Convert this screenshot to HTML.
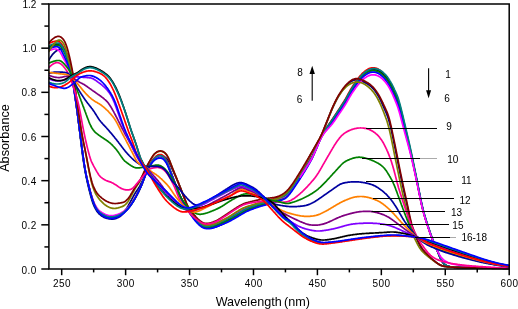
<!DOCTYPE html>
<html><head><meta charset="utf-8"><title>Absorbance spectra</title>
<style>html,body{margin:0;padding:0;background:#fff}svg{display:block}</style></head>
<body><svg width="518" height="309" viewBox="0 0 518 309">
<rect x="0" y="0" width="518" height="309" fill="#fff"/>
<clipPath id="c"><rect x="48.9" y="4.0" width="460.3" height="265.5"/></clipPath>
<g clip-path="url(#c)" fill="none" stroke-width="1.7" stroke-linejoin="round" stroke-linecap="round">
<path d="M48.6,60.5 L49.1,59.6 L49.6,58.8 L50.1,57.9 L50.6,57.1 L51.1,56.4 L51.6,55.7 L52.1,55.0 L52.6,54.4 L53.1,53.8 L53.6,53.3 L54.1,52.8 L54.6,52.3 L55.1,51.9 L55.6,51.5 L56.1,51.1 L56.6,50.8 L57.1,50.4 L57.6,50.1 L58.1,49.9 L58.6,49.6 L59.1,49.4 L59.6,49.3 L60.1,49.1 L60.6,49.1 L61.1,49.0 L61.6,49.1 L62.1,49.1 L62.6,49.2 L63.1,49.4 L63.6,49.7 L64.1,50.1 L64.6,50.5 L65.1,51.1 L65.6,51.9 L66.1,52.7 L66.6,53.6 L67.1,54.7 L67.6,55.9 L68.1,57.1 L68.6,58.5 L69.1,60.0 L69.6,61.6 L70.1,63.4 L70.6,65.2 L71.1,67.2 L71.6,69.4 L72.1,71.7 L72.6,74.2 L73.1,76.9 L73.6,80.0 L74.1,83.3 L74.6,86.9 L75.1,90.8 L75.6,94.8 L76.1,98.9 L76.6,103.2 L77.1,107.5 L77.6,112.0 L78.1,116.5 L78.6,121.1 L79.1,125.7 L79.6,130.3 L80.1,134.8 L80.6,139.1 L81.1,143.4 L81.6,147.6 L82.1,151.5 L82.6,155.3 L83.1,158.8 L83.6,162.1 L84.1,165.2 L84.6,168.2 L85.1,171.0 L85.6,173.7 L86.1,176.3 L86.6,178.7 L87.1,181.1 L87.6,183.4 L88.1,185.5 L88.6,187.6 L89.1,189.7 L89.6,191.6 L90.1,193.6 L90.6,195.5 L91.1,197.3 L91.6,199.1 L92.1,200.7 L92.6,202.3 L93.1,203.7 L93.6,204.9 L94.1,206.1 L94.6,207.2 L95.1,208.2 L95.6,209.1 L96.1,209.9 L96.6,210.7 L97.1,211.5 L97.6,212.1 L98.1,212.7 L98.6,213.3 L99.1,213.8 L99.6,214.3 L100.1,214.7 L100.6,215.1 L101.1,215.5 L101.6,215.9 L102.1,216.2 L102.6,216.5 L103.1,216.8 L103.6,217.1 L104.1,217.4 L104.6,217.6 L105.1,217.8 L105.6,218.0 L106.1,218.1 L106.6,218.3 L107.1,218.4 L107.6,218.5 L108.1,218.6 L108.6,218.7 L109.1,218.8 L109.6,218.9 L110.1,219.0 L110.6,219.0 L111.1,219.1 L111.6,219.1 L112.1,219.1 L112.6,219.1 L113.1,219.1 L113.6,219.0 L114.1,218.9 L114.6,218.8 L115.1,218.7 L115.6,218.6 L116.1,218.4 L116.6,218.2 L117.1,218.0 L117.6,217.8 L118.1,217.6 L118.6,217.3 L119.1,217.0 L119.6,216.7 L120.1,216.4 L120.6,216.0 L121.1,215.6 L121.6,215.1 L122.1,214.6 L122.6,214.1 L123.1,213.5 L123.6,212.9 L124.1,212.2 L124.6,211.5 L125.1,210.8 L125.6,210.0 L126.1,209.2 L126.6,208.4 L127.1,207.6 L127.6,206.7 L128.1,205.9 L128.6,205.0 L129.1,204.1 L129.6,203.2 L130.1,202.3 L130.6,201.4 L131.1,200.5 L131.6,199.6 L132.1,198.6 L132.6,197.7 L133.1,196.8 L133.6,195.9 L134.1,195.0 L134.6,194.1 L135.1,193.3 L135.6,192.5 L136.1,191.7 L136.6,191.0 L137.1,190.3 L137.6,189.5 L138.1,188.8 L138.6,188.0 L139.1,187.2 L139.6,186.4 L140.1,185.5 L140.6,184.5 L141.1,183.5 L141.6,182.5 L142.1,181.4 L142.6,180.3 L143.1,179.2 L143.6,178.1 L144.1,177.0 L144.6,175.8 L145.1,174.7 L145.6,173.6 L146.1,172.4 L146.6,171.3 L147.1,170.2 L147.6,169.1 L148.1,168.0 L148.6,166.9 L149.1,165.9 L149.6,164.9 L150.1,164.0 L150.6,163.2 L151.1,162.3 L151.6,161.5 L152.1,160.8 L152.6,160.1 L153.1,159.5 L153.6,158.9 L154.1,158.4 L154.6,157.9 L155.1,157.5 L155.6,157.2 L156.1,156.9 L156.6,156.7 L157.1,156.5 L157.6,156.4 L158.1,156.2 L158.6,156.1 L159.1,156.0 L159.6,155.9 L160.1,155.9 L160.6,155.9 L161.1,155.9 L161.6,155.9 L162.1,156.0 L162.6,156.1 L163.1,156.2 L163.6,156.4 L164.1,156.6 L164.6,156.9 L165.1,157.2 L165.6,157.6 L166.1,158.0 L166.6,158.5 L167.1,159.1 L167.6,159.8 L168.1,160.5 L168.6,161.4 L169.1,162.3 L169.6,163.3 L170.1,164.4 L170.6,165.5 L171.1,166.6 L171.6,167.7 L172.1,168.9 L172.6,170.0 L173.1,171.1 L173.6,172.2 L174.1,173.3 L174.6,174.3 L175.1,175.4 L175.6,176.5 L176.1,177.6 L176.6,178.7 L177.1,179.9 L177.6,181.0 L178.1,182.2 L178.6,183.4 L179.1,184.6 L179.6,185.8 L180.1,187.1 L180.6,188.4 L181.1,189.7 L181.6,191.0 L182.1,192.3 L182.6,193.6 L183.1,194.9 L183.6,196.2 L184.1,197.6 L184.6,198.9 L185.1,200.2 L185.6,201.5 L186.1,202.7 L186.6,204.0 L187.1,205.2 L187.6,206.3 L188.1,207.4 L188.6,208.4 L189.1,209.3 L189.6,210.2 L190.1,211.0 L190.6,211.8 L191.1,212.5 L191.6,213.2 L192.1,213.9 L192.6,214.6 L193.1,215.3 L193.6,215.9 L194.1,216.6 L194.6,217.3 L195.1,218.0 L195.6,218.6 L196.1,219.3 L196.6,219.9 L197.1,220.5 L197.6,221.1 L198.1,221.7 L198.6,222.3 L199.1,222.9 L199.6,223.4 L200.1,223.9 L200.6,224.4 L201.1,224.9 L201.6,225.3 L202.1,225.8 L202.6,226.1 L203.1,226.4 L203.6,226.7 L204.1,227.0 L204.6,227.2 L205.1,227.4 L205.6,227.5 L206.1,227.6 L206.6,227.7 L207.1,227.8 L207.6,227.8 L208.1,227.9 L208.6,227.9 L209.1,227.9 L209.6,227.9 L210.1,227.9 L210.6,227.9 L211.1,227.9 L211.6,227.8 L212.1,227.7 L212.6,227.6 L213.1,227.5 L213.6,227.4 L214.1,227.3 L214.6,227.2 L215.1,227.1 L215.6,226.9 L216.1,226.8 L216.6,226.7 L217.1,226.5 L217.6,226.3 L218.1,226.2 L218.6,226.0 L219.1,225.8 L219.6,225.5 L220.1,225.3 L220.6,225.1 L221.1,224.9 L221.6,224.6 L222.1,224.4 L222.6,224.2 L223.1,223.9 L223.6,223.7 L224.1,223.4 L224.6,223.2 L225.1,222.9 L225.6,222.7 L226.1,222.4 L226.6,222.2 L227.1,221.9 L227.6,221.6 L228.1,221.3 L228.6,221.1 L229.1,220.8 L229.6,220.5 L230.1,220.2 L230.6,219.9 L231.1,219.6 L231.6,219.3 L232.1,219.0 L232.6,218.7 L233.1,218.4 L233.6,218.1 L234.1,217.7 L234.6,217.4 L235.1,217.1 L235.6,216.8 L236.1,216.4 L236.6,216.1 L237.1,215.8 L237.6,215.4 L238.1,215.1 L238.6,214.8 L239.1,214.5 L239.6,214.2 L240.1,213.8 L240.6,213.5 L241.1,213.3 L241.6,213.0 L242.1,212.7 L242.6,212.4 L243.1,212.2 L243.6,211.9 L244.1,211.7 L244.6,211.4 L245.1,211.2 L245.6,211.0 L246.1,210.8 L246.6,210.6 L247.1,210.4 L247.6,210.2 L248.1,210.0 L248.6,209.9 L249.1,209.7 L249.6,209.5 L250.1,209.3 L250.6,209.2 L251.1,209.0 L251.6,208.8 L252.1,208.6 L252.6,208.4 L253.1,208.2 L253.6,208.0 L254.1,207.8 L254.6,207.6 L255.1,207.4 L255.6,207.2 L256.1,207.0 L256.6,206.9 L257.1,206.7 L257.6,206.5 L258.1,206.3 L258.6,206.1 L259.1,205.9 L259.6,205.7 L260.1,205.5 L260.6,205.3 L261.1,205.1 L261.6,205.0 L262.1,204.8 L262.6,204.6 L263.1,204.4 L263.6,204.3 L264.1,204.1 L264.6,203.9 L265.1,203.8 L265.6,203.6 L266.1,203.5 L266.6,203.4 L267.1,203.2 L267.6,203.1 L268.1,203.0 L268.6,202.9 L269.1,202.8 L269.6,202.6 L270.1,202.5 L270.6,202.4 L271.1,202.3 L271.6,202.2 L272.1,202.1 L272.6,202.0 L273.1,201.9 L273.6,201.8 L274.1,201.6 L274.6,201.5 L275.1,201.4 L275.6,201.2 L276.1,201.0 L276.6,200.8 L277.1,200.6 L277.6,200.4 L278.1,200.2 L278.6,199.9 L279.1,199.7 L279.6,199.4 L280.1,199.1 L280.6,198.8 L281.1,198.5 L281.6,198.2 L282.1,197.9 L282.6,197.5 L283.1,197.2 L283.6,196.8 L284.1,196.4 L284.6,196.0 L285.1,195.6 L285.6,195.1 L286.1,194.6 L286.6,194.1 L287.1,193.6 L287.6,193.0 L288.1,192.4 L288.6,191.8 L289.1,191.2 L289.6,190.6 L290.1,189.9 L290.6,189.2 L291.1,188.5 L291.6,187.8 L292.1,187.1 L292.6,186.3 L293.1,185.5 L293.6,184.7 L294.1,183.9 L294.6,183.1 L295.1,182.3 L295.6,181.5 L296.1,180.7 L296.6,179.8 L297.1,179.0 L297.6,178.2 L298.1,177.4 L298.6,176.5 L299.1,175.7 L299.6,174.8 L300.1,174.0 L300.6,173.1 L301.1,172.2 L301.6,171.4 L302.1,170.5 L302.6,169.6 L303.1,168.7 L303.6,167.8 L304.1,166.9 L304.6,166.0 L305.1,165.1 L305.6,164.2 L306.1,163.3 L306.6,162.4 L307.1,161.5 L307.6,160.6 L308.1,159.7 L308.6,158.8 L309.1,157.9 L309.6,157.0 L310.1,156.0 L310.6,155.1 L311.1,154.2 L311.6,153.3 L312.1,152.4 L312.6,151.5 L313.1,150.6 L313.6,149.7 L314.1,148.8 L314.6,147.9 L315.1,147.0 L315.6,146.1 L316.1,145.2 L316.6,144.3 L317.1,143.4 L317.6,142.5 L318.1,141.6 L318.6,140.7 L319.1,139.8 L319.6,138.9 L320.1,137.9 L320.6,136.9 L321.1,135.9 L321.6,134.8 L322.1,133.7 L322.6,132.5 L323.1,131.4 L323.6,130.2 L324.1,128.9 L324.6,127.7 L325.1,126.5 L325.6,125.2 L326.1,124.0 L326.6,122.7 L327.1,121.5 L327.6,120.2 L328.1,118.9 L328.6,117.6 L329.1,116.4 L329.6,115.1 L330.1,113.9 L330.6,112.6 L331.1,111.4 L331.6,110.2 L332.1,109.1 L332.6,107.9 L333.1,106.8 L333.6,105.7 L334.1,104.6 L334.6,103.6 L335.1,102.5 L335.6,101.5 L336.1,100.6 L336.6,99.6 L337.1,98.7 L337.6,97.8 L338.1,96.9 L338.6,96.0 L339.1,95.2 L339.6,94.4 L340.1,93.6 L340.6,92.9 L341.1,92.1 L341.6,91.4 L342.1,90.7 L342.6,90.0 L343.1,89.4 L343.6,88.7 L344.1,88.1 L344.6,87.5 L345.1,86.9 L345.6,86.3 L346.1,85.8 L346.6,85.3 L347.1,84.8 L347.6,84.3 L348.1,83.8 L348.6,83.4 L349.1,82.9 L349.6,82.5 L350.1,82.1 L350.6,81.8 L351.1,81.5 L351.6,81.2 L352.1,80.9 L352.6,80.6 L353.1,80.4 L353.6,80.2 L354.1,80.1 L354.6,79.9 L355.1,79.9 L355.6,79.8 L356.1,79.8 L356.6,79.8 L357.1,79.8 L357.6,79.9 L358.1,80.0 L358.6,80.1 L359.1,80.2 L359.6,80.3 L360.1,80.5 L360.6,80.6 L361.1,80.8 L361.6,81.0 L362.1,81.2 L362.6,81.4 L363.1,81.6 L363.6,81.9 L364.1,82.1 L364.6,82.4 L365.1,82.6 L365.6,82.9 L366.1,83.2 L366.6,83.5 L367.1,83.8 L367.6,84.1 L368.1,84.4 L368.6,84.8 L369.1,85.1 L369.6,85.5 L370.1,85.9 L370.6,86.3 L371.1,86.7 L371.6,87.1 L372.1,87.6 L372.6,88.1 L373.1,88.7 L373.6,89.2 L374.1,89.8 L374.6,90.4 L375.1,91.1 L375.6,91.8 L376.1,92.5 L376.6,93.2 L377.1,94.0 L377.6,94.8 L378.1,95.7 L378.6,96.5 L379.1,97.4 L379.6,98.4 L380.1,99.4 L380.6,100.4 L381.1,101.5 L381.6,102.6 L382.1,103.7 L382.6,104.8 L383.1,105.9 L383.6,107.1 L384.1,108.2 L384.6,109.3 L385.1,110.5 L385.6,111.6 L386.1,112.7 L386.6,113.9 L387.1,115.1 L387.6,116.4 L388.1,117.9 L388.6,119.4 L389.1,121.2 L389.6,123.0 L390.1,125.0 L390.6,127.1 L391.1,129.3 L391.6,131.6 L392.1,133.9 L392.6,136.3 L393.1,138.7 L393.6,141.1 L394.1,143.5 L394.6,146.0 L395.1,148.4 L395.6,150.9 L396.1,153.4 L396.6,155.9 L397.1,158.3 L397.6,160.8 L398.1,163.3 L398.6,165.8 L399.1,168.3 L399.6,170.8 L400.1,173.3 L400.6,175.7 L401.1,178.1 L401.6,180.5 L402.1,182.9 L402.6,185.3 L403.1,187.6 L403.6,189.8 L404.1,192.1 L404.6,194.3 L405.1,196.5 L405.6,198.7 L406.1,200.9 L406.6,203.2 L407.1,205.4 L407.6,207.8 L408.1,210.2 L408.6,212.5 L409.1,214.9 L409.6,217.3 L410.1,219.6 L410.6,221.7 L411.1,223.7 L411.6,225.5 L412.1,227.1 L412.6,228.6 L413.1,230.0 L413.6,231.3 L414.1,232.6 L414.6,233.8 L415.1,235.0 L415.6,236.2 L416.1,237.4 L416.6,238.6 L417.1,239.7 L417.6,240.9 L418.1,242.0 L418.6,243.1 L419.1,244.2 L419.6,245.1 L420.1,246.1 L420.6,246.9 L421.1,247.7 L421.6,248.5 L422.1,249.2 L422.6,249.9 L423.1,250.5 L423.6,251.1 L424.1,251.6 L424.6,252.2 L425.1,252.7 L425.6,253.2 L426.1,253.7 L426.6,254.2 L427.1,254.7 L427.6,255.2 L428.1,255.6 L428.6,256.1 L429.1,256.6 L429.6,257.0 L430.1,257.5 L430.6,257.9 L431.1,258.4 L431.6,258.8 L432.1,259.2 L432.6,259.6 L433.1,260.0 L433.6,260.4 L434.1,260.8 L434.6,261.2 L435.1,261.6 L435.6,262.0 L436.1,262.4 L436.6,262.7 L437.1,263.1 L437.6,263.4 L438.1,263.8 L438.6,264.1 L439.1,264.4 L439.6,264.7 L440.1,264.9 L440.6,265.2 L441.1,265.4 L441.6,265.6 L442.1,265.8 L442.6,266.0 L443.1,266.1 L443.6,266.2 L444.1,266.3 L444.6,266.4 L445.1,266.5 L445.6,266.5 L446.1,266.6 L446.6,266.7 L447.1,266.7 L447.6,266.8 L448.1,266.8 L448.6,266.9 L449.1,266.9 L449.6,266.9 L450.1,267.0 L450.6,267.0 L451.1,267.1 L451.6,267.1 L452.1,267.1 L452.6,267.2 L453.1,267.2 L453.6,267.2 L454.1,267.3 L454.6,267.3 L455.1,267.3 L455.6,267.3 L456.1,267.4 L456.6,267.4 L457.1,267.4 L457.6,267.4 L458.1,267.4 L458.6,267.5 L459.1,267.5 L459.6,267.5 L460.1,267.5 L460.6,267.5 L461.1,267.5 L461.6,267.5 L462.1,267.6 L462.6,267.6 L463.1,267.6 L463.6,267.6 L464.1,267.6 L464.6,267.6 L465.1,267.6 L465.6,267.6 L466.1,267.7 L466.6,267.7 L467.1,267.7 L467.6,267.7 L468.1,267.7 L468.6,267.7 L469.1,267.7 L469.6,267.7 L470.1,267.8 L470.6,267.8 L471.1,267.8 L471.6,267.8 L472.1,267.8 L472.6,267.8 L473.1,267.8 L473.6,267.8 L474.1,267.9 L474.6,267.9 L475.1,267.9 L475.6,267.9 L476.1,267.9 L476.6,267.9 L477.1,267.9 L477.6,268.0 L478.1,268.0 L478.6,268.0 L479.1,268.0 L479.6,268.0 L480.1,268.0 L480.6,268.0 L481.1,268.0 L481.6,268.1 L482.1,268.1 L482.6,268.1 L483.1,268.1 L483.6,268.1 L484.1,268.1 L484.6,268.1 L485.1,268.1 L485.6,268.1 L486.1,268.2 L486.6,268.2 L487.1,268.2 L487.6,268.2 L488.1,268.2 L488.6,268.2 L489.1,268.2 L489.6,268.2 L490.1,268.2 L490.6,268.2 L491.1,268.2 L491.6,268.2 L492.1,268.3 L492.6,268.3 L493.1,268.3 L493.6,268.3 L494.1,268.3 L494.6,268.3 L495.1,268.3 L495.6,268.3 L496.1,268.3 L496.6,268.3 L497.1,268.3 L497.6,268.3 L498.1,268.3 L498.6,268.3 L499.1,268.3 L499.6,268.3 L500.1,268.3 L500.6,268.3 L501.1,268.3 L501.6,268.3 L502.1,268.3 L502.6,268.3 L503.1,268.3 L503.6,268.3 L504.1,268.3 L504.6,268.3 L505.1,268.3 L505.6,268.3 L506.1,268.3 L506.6,268.3 L507.1,268.3 L507.6,268.3 L508.1,268.3 L508.6,268.3 L509.0,268.3" stroke="#000080"/>
<path d="M48.6,43.6 L49.1,43.4 L49.6,43.1 L50.1,42.9 L50.6,42.7 L51.1,42.5 L51.6,42.3 L52.1,42.1 L52.6,41.9 L53.1,41.8 L53.6,41.6 L54.1,41.5 L54.6,41.4 L55.1,41.3 L55.6,41.2 L56.1,41.2 L56.6,41.2 L57.1,41.2 L57.6,41.2 L58.1,41.3 L58.6,41.4 L59.1,41.6 L59.6,41.9 L60.1,42.3 L60.6,42.8 L61.1,43.4 L61.6,44.0 L62.1,44.8 L62.6,45.6 L63.1,46.5 L63.6,47.4 L64.1,48.5 L64.6,49.6 L65.1,50.8 L65.6,52.1 L66.1,53.5 L66.6,54.9 L67.1,56.5 L67.6,58.1 L68.1,59.7 L68.6,61.5 L69.1,63.3 L69.6,65.1 L70.1,67.1 L70.6,69.1 L71.1,71.3 L71.6,73.8 L72.1,76.4 L72.6,79.4 L73.1,82.5 L73.6,85.8 L74.1,89.2 L74.6,92.7 L75.1,96.2 L75.6,99.7 L76.1,103.3 L76.6,107.0 L77.1,110.7 L77.6,114.4 L78.1,118.2 L78.6,122.1 L79.1,125.9 L79.6,129.8 L80.1,133.7 L80.6,137.5 L81.1,141.4 L81.6,145.2 L82.1,149.0 L82.6,152.8 L83.1,156.4 L83.6,160.0 L84.1,163.4 L84.6,166.5 L85.1,169.4 L85.6,172.1 L86.1,174.6 L86.6,176.9 L87.1,179.1 L87.6,181.2 L88.1,183.2 L88.6,185.2 L89.1,187.2 L89.6,189.1 L90.1,191.0 L90.6,192.8 L91.1,194.6 L91.6,196.3 L92.1,197.9 L92.6,199.4 L93.1,200.9 L93.6,202.2 L94.1,203.4 L94.6,204.5 L95.1,205.5 L95.6,206.5 L96.1,207.3 L96.6,208.2 L97.1,208.9 L97.6,209.6 L98.1,210.2 L98.6,210.8 L99.1,211.3 L99.6,211.8 L100.1,212.2 L100.6,212.5 L101.1,212.9 L101.6,213.2 L102.1,213.5 L102.6,213.8 L103.1,214.1 L103.6,214.4 L104.1,214.6 L104.6,214.9 L105.1,215.1 L105.6,215.3 L106.1,215.5 L106.6,215.7 L107.1,215.9 L107.6,216.0 L108.1,216.1 L108.6,216.3 L109.1,216.3 L109.6,216.4 L110.1,216.4 L110.6,216.4 L111.1,216.4 L111.6,216.4 L112.1,216.4 L112.6,216.4 L113.1,216.3 L113.6,216.2 L114.1,216.1 L114.6,216.1 L115.1,215.9 L115.6,215.8 L116.1,215.7 L116.6,215.5 L117.1,215.4 L117.6,215.2 L118.1,215.0 L118.6,214.8 L119.1,214.6 L119.6,214.3 L120.1,214.1 L120.6,213.8 L121.1,213.5 L121.6,213.2 L122.1,212.9 L122.6,212.6 L123.1,212.2 L123.6,211.9 L124.1,211.5 L124.6,211.1 L125.1,210.7 L125.6,210.2 L126.1,209.8 L126.6,209.3 L127.1,208.8 L127.6,208.3 L128.1,207.7 L128.6,207.2 L129.1,206.6 L129.6,206.0 L130.1,205.4 L130.6,204.7 L131.1,204.1 L131.6,203.4 L132.1,202.6 L132.6,201.9 L133.1,201.1 L133.6,200.4 L134.1,199.6 L134.6,198.7 L135.1,197.9 L135.6,197.0 L136.1,196.1 L136.6,195.2 L137.1,194.3 L137.6,193.3 L138.1,192.3 L138.6,191.3 L139.1,190.3 L139.6,189.3 L140.1,188.2 L140.6,187.1 L141.1,186.0 L141.6,184.9 L142.1,183.7 L142.6,182.4 L143.1,181.1 L143.6,179.8 L144.1,178.4 L144.6,177.1 L145.1,175.8 L145.6,174.5 L146.1,173.3 L146.6,172.1 L147.1,170.9 L147.6,169.8 L148.1,168.8 L148.6,167.7 L149.1,166.7 L149.6,165.8 L150.1,164.8 L150.6,163.9 L151.1,163.1 L151.6,162.2 L152.1,161.4 L152.6,160.6 L153.1,159.8 L153.6,159.1 L154.1,158.5 L154.6,157.8 L155.1,157.3 L155.6,156.7 L156.1,156.2 L156.6,155.8 L157.1,155.5 L157.6,155.1 L158.1,154.9 L158.6,154.7 L159.1,154.6 L159.6,154.5 L160.1,154.5 L160.6,154.5 L161.1,154.6 L161.6,154.7 L162.1,155.0 L162.6,155.3 L163.1,155.7 L163.6,156.2 L164.1,156.7 L164.6,157.4 L165.1,158.1 L165.6,158.9 L166.1,159.9 L166.6,160.8 L167.1,161.9 L167.6,163.1 L168.1,164.3 L168.6,165.6 L169.1,167.0 L169.6,168.3 L170.1,169.7 L170.6,171.1 L171.1,172.4 L171.6,173.8 L172.1,175.2 L172.6,176.5 L173.1,177.9 L173.6,179.3 L174.1,180.6 L174.6,182.0 L175.1,183.4 L175.6,184.7 L176.1,186.0 L176.6,187.4 L177.1,188.7 L177.6,189.9 L178.1,191.2 L178.6,192.4 L179.1,193.6 L179.6,194.8 L180.1,195.9 L180.6,197.0 L181.1,198.1 L181.6,199.1 L182.1,200.1 L182.6,201.1 L183.1,202.0 L183.6,202.9 L184.1,203.7 L184.6,204.6 L185.1,205.4 L185.6,206.2 L186.1,206.9 L186.6,207.7 L187.1,208.4 L187.6,209.1 L188.1,209.9 L188.6,210.6 L189.1,211.2 L189.6,211.9 L190.1,212.6 L190.6,213.3 L191.1,213.9 L191.6,214.5 L192.1,215.2 L192.6,215.8 L193.1,216.4 L193.6,217.0 L194.1,217.5 L194.6,218.1 L195.1,218.6 L195.6,219.1 L196.1,219.6 L196.6,220.1 L197.1,220.6 L197.6,221.1 L198.1,221.5 L198.6,221.9 L199.1,222.3 L199.6,222.7 L200.1,223.0 L200.6,223.3 L201.1,223.6 L201.6,223.9 L202.1,224.1 L202.6,224.4 L203.1,224.6 L203.6,224.7 L204.1,224.9 L204.6,225.0 L205.1,225.1 L205.6,225.2 L206.1,225.2 L206.6,225.3 L207.1,225.3 L207.6,225.3 L208.1,225.3 L208.6,225.2 L209.1,225.2 L209.6,225.1 L210.1,225.0 L210.6,224.9 L211.1,224.8 L211.6,224.7 L212.1,224.6 L212.6,224.4 L213.1,224.2 L213.6,224.1 L214.1,223.9 L214.6,223.7 L215.1,223.5 L215.6,223.3 L216.1,223.1 L216.6,222.9 L217.1,222.7 L217.6,222.5 L218.1,222.3 L218.6,222.1 L219.1,221.8 L219.6,221.6 L220.1,221.4 L220.6,221.2 L221.1,221.0 L221.6,220.7 L222.1,220.5 L222.6,220.3 L223.1,220.1 L223.6,219.9 L224.1,219.6 L224.6,219.4 L225.1,219.2 L225.6,219.0 L226.1,218.7 L226.6,218.5 L227.1,218.3 L227.6,218.0 L228.1,217.8 L228.6,217.5 L229.1,217.3 L229.6,217.0 L230.1,216.8 L230.6,216.5 L231.1,216.2 L231.6,215.9 L232.1,215.6 L232.6,215.4 L233.1,215.1 L233.6,214.8 L234.1,214.5 L234.6,214.2 L235.1,213.9 L235.6,213.7 L236.1,213.4 L236.6,213.1 L237.1,212.8 L237.6,212.5 L238.1,212.2 L238.6,211.9 L239.1,211.7 L239.6,211.4 L240.1,211.1 L240.6,210.8 L241.1,210.5 L241.6,210.2 L242.1,210.0 L242.6,209.7 L243.1,209.4 L243.6,209.1 L244.1,208.9 L244.6,208.6 L245.1,208.4 L245.6,208.1 L246.1,207.9 L246.6,207.6 L247.1,207.4 L247.6,207.2 L248.1,207.0 L248.6,206.8 L249.1,206.7 L249.6,206.5 L250.1,206.3 L250.6,206.1 L251.1,205.9 L251.6,205.8 L252.1,205.6 L252.6,205.4 L253.1,205.2 L253.6,205.1 L254.1,204.9 L254.6,204.7 L255.1,204.6 L255.6,204.4 L256.1,204.2 L256.6,204.1 L257.1,203.9 L257.6,203.7 L258.1,203.6 L258.6,203.4 L259.1,203.3 L259.6,203.1 L260.1,203.0 L260.6,202.8 L261.1,202.7 L261.6,202.5 L262.1,202.4 L262.6,202.3 L263.1,202.1 L263.6,202.0 L264.1,201.8 L264.6,201.7 L265.1,201.5 L265.6,201.4 L266.1,201.2 L266.6,201.1 L267.1,200.9 L267.6,200.8 L268.1,200.6 L268.6,200.5 L269.1,200.3 L269.6,200.1 L270.1,200.0 L270.6,199.8 L271.1,199.7 L271.6,199.5 L272.1,199.4 L272.6,199.2 L273.1,199.0 L273.6,198.9 L274.1,198.7 L274.6,198.6 L275.1,198.4 L275.6,198.2 L276.1,198.1 L276.6,197.9 L277.1,197.8 L277.6,197.6 L278.1,197.4 L278.6,197.3 L279.1,197.1 L279.6,196.9 L280.1,196.8 L280.6,196.6 L281.1,196.5 L281.6,196.3 L282.1,196.1 L282.6,195.9 L283.1,195.7 L283.6,195.5 L284.1,195.3 L284.6,195.0 L285.1,194.7 L285.6,194.3 L286.1,194.0 L286.6,193.5 L287.1,193.1 L287.6,192.5 L288.1,192.0 L288.6,191.4 L289.1,190.8 L289.6,190.2 L290.1,189.6 L290.6,188.9 L291.1,188.2 L291.6,187.5 L292.1,186.8 L292.6,186.1 L293.1,185.3 L293.6,184.6 L294.1,183.8 L294.6,183.1 L295.1,182.3 L295.6,181.6 L296.1,180.8 L296.6,180.0 L297.1,179.3 L297.6,178.5 L298.1,177.7 L298.6,177.0 L299.1,176.2 L299.6,175.4" stroke="#ff0000"/>
<path d="M48.6,47.0 L49.1,46.7 L49.6,46.5 L50.1,46.2 L50.6,46.0 L51.1,45.8 L51.6,45.6 L52.1,45.4 L52.6,45.2 L53.1,45.0 L53.6,44.8 L54.1,44.7 L54.6,44.5 L55.1,44.4 L55.6,44.3 L56.1,44.2 L56.6,44.2 L57.1,44.1 L57.6,44.1 L58.1,44.1 L58.6,44.2 L59.1,44.3 L59.6,44.6 L60.1,44.9 L60.6,45.2 L61.1,45.7 L61.6,46.3 L62.1,46.9 L62.6,47.6 L63.1,48.4 L63.6,49.2 L64.1,50.2 L64.6,51.2 L65.1,52.3 L65.6,53.5 L66.1,54.8 L66.6,56.1 L67.1,57.5 L67.6,59.0 L68.1,60.6 L68.6,62.2 L69.1,63.9 L69.6,65.7 L70.1,67.5 L70.6,69.5 L71.1,71.6 L71.6,74.0 L72.1,76.6 L72.6,79.5 L73.1,82.6 L73.6,85.9 L74.1,89.3 L74.6,92.7 L75.1,96.2 L75.6,99.8 L76.1,103.3 L76.6,107.0 L77.1,110.7 L77.6,114.5 L78.1,118.3 L78.6,122.1 L79.1,126.0 L79.6,129.9 L80.1,133.7 L80.6,137.6 L81.1,141.5 L81.6,145.3 L82.1,149.1 L82.6,152.9 L83.1,156.6 L83.6,160.2 L84.1,163.6 L84.6,166.7 L85.1,169.7 L85.6,172.4 L86.1,174.9 L86.6,177.2 L87.1,179.4 L87.6,181.5 L88.1,183.6 L88.6,185.6 L89.1,187.6 L89.6,189.5 L90.1,191.4 L90.6,193.3 L91.1,195.1 L91.6,196.8 L92.1,198.4 L92.6,200.0 L93.1,201.4 L93.6,202.7 L94.1,204.0 L94.6,205.1 L95.1,206.1 L95.6,207.1 L96.1,208.0 L96.6,208.9 L97.1,209.6 L97.6,210.3 L98.1,211.0 L98.6,211.6 L99.1,212.1 L99.6,212.5 L100.1,213.0 L100.6,213.4 L101.1,213.7 L101.6,214.1 L102.1,214.4 L102.6,214.7 L103.1,215.0 L103.6,215.3 L104.1,215.6 L104.6,215.8 L105.1,216.1 L105.6,216.3 L106.1,216.5 L106.6,216.7 L107.1,216.9 L107.6,217.0 L108.1,217.1 L108.6,217.2 L109.1,217.3 L109.6,217.4 L110.1,217.4 L110.6,217.4 L111.1,217.4 L111.6,217.4 L112.1,217.4 L112.6,217.3 L113.1,217.3 L113.6,217.2 L114.1,217.1 L114.6,217.0 L115.1,216.9 L115.6,216.8 L116.1,216.6 L116.6,216.4 L117.1,216.3 L117.6,216.1 L118.1,215.9 L118.6,215.7 L119.1,215.4 L119.6,215.2 L120.1,214.9 L120.6,214.6 L121.1,214.3 L121.6,214.0 L122.1,213.7 L122.6,213.3 L123.1,212.9 L123.6,212.6 L124.1,212.2 L124.6,211.7 L125.1,211.3 L125.6,210.8 L126.1,210.4 L126.6,209.9 L127.1,209.3 L127.6,208.8 L128.1,208.2 L128.6,207.7 L129.1,207.1 L129.6,206.4 L130.1,205.8 L130.6,205.1 L131.1,204.5 L131.6,203.7 L132.1,203.0 L132.6,202.2 L133.1,201.5 L133.6,200.7 L134.1,199.8 L134.6,199.0 L135.1,198.1 L135.6,197.2 L136.1,196.3 L136.6,195.4 L137.1,194.4 L137.6,193.5 L138.1,192.5 L138.6,191.5 L139.1,190.4 L139.6,189.4 L140.1,188.3 L140.6,187.2 L141.1,186.1 L141.6,184.9 L142.1,183.7 L142.6,182.4 L143.1,181.1 L143.6,179.8 L144.1,178.5 L144.6,177.1 L145.1,175.8 L145.6,174.5 L146.1,173.3 L146.6,172.1 L147.1,171.0 L147.6,169.9 L148.1,168.8 L148.6,167.8 L149.1,166.9 L149.6,166.0 L150.1,165.1 L150.6,164.3 L151.1,163.5 L151.6,162.7 L152.1,162.0 L152.6,161.3 L153.1,160.6 L153.6,160.0 L154.1,159.4 L154.6,158.9 L155.1,158.4 L155.6,158.0 L156.1,157.6 L156.6,157.2 L157.1,156.9 L157.6,156.7 L158.1,156.5 L158.6,156.3 L159.1,156.2 L159.6,156.1 L160.1,156.1 L160.6,156.2 L161.1,156.2 L161.6,156.4 L162.1,156.6 L162.6,156.9 L163.1,157.3 L163.6,157.7 L164.1,158.2 L164.6,158.9 L165.1,159.5 L165.6,160.3 L166.1,161.2 L166.6,162.1 L167.1,163.1 L167.6,164.2 L168.1,165.4 L168.6,166.7 L169.1,167.9 L169.6,169.2 L170.1,170.5 L170.6,171.8 L171.1,173.1 L171.6,174.5 L172.1,175.8 L172.6,177.1 L173.1,178.4 L173.6,179.7 L174.1,181.0 L174.6,182.3 L175.1,183.6 L175.6,184.9 L176.1,186.2 L176.6,187.5 L177.1,188.8 L177.6,190.0 L178.1,191.3 L178.6,192.5 L179.1,193.6 L179.6,194.8 L180.1,195.9 L180.6,197.0 L181.1,198.1 L181.6,199.2 L182.1,200.2 L182.6,201.1 L183.1,202.1 L183.6,203.0 L184.1,203.8 L184.6,204.7 L185.1,205.5 L185.6,206.3 L186.1,207.1 L186.6,207.9 L187.1,208.7 L187.6,209.4 L188.1,210.2 L188.6,210.9 L189.1,211.6 L189.6,212.4 L190.1,213.1 L190.6,213.8 L191.1,214.5 L191.6,215.1 L192.1,215.8 L192.6,216.4 L193.1,217.1 L193.6,217.7 L194.1,218.3 L194.6,218.9 L195.1,219.5 L195.6,220.1 L196.1,220.6 L196.6,221.1 L197.1,221.7 L197.6,222.2 L198.1,222.6 L198.6,223.1 L199.1,223.5 L199.6,223.9 L200.1,224.3 L200.6,224.6 L201.1,225.0 L201.6,225.3 L202.1,225.5 L202.6,225.8 L203.1,226.0 L203.6,226.2 L204.1,226.3 L204.6,226.5 L205.1,226.6 L205.6,226.7 L206.1,226.8 L206.6,226.8 L207.1,226.8 L207.6,226.8 L208.1,226.8 L208.6,226.8 L209.1,226.8 L209.6,226.7 L210.1,226.6 L210.6,226.6 L211.1,226.5 L211.6,226.4 L212.1,226.2 L212.6,226.1 L213.1,225.9 L213.6,225.8 L214.1,225.6 L214.6,225.4 L215.1,225.2 L215.6,225.1 L216.1,224.9 L216.6,224.7 L217.1,224.5 L217.6,224.3 L218.1,224.1 L218.6,223.9 L219.1,223.7 L219.6,223.5 L220.1,223.3 L220.6,223.0 L221.1,222.8 L221.6,222.6 L222.1,222.4 L222.6,222.2 L223.1,222.0 L223.6,221.8 L224.1,221.6 L224.6,221.3 L225.1,221.1 L225.6,220.9 L226.1,220.7 L226.6,220.5 L227.1,220.2 L227.6,220.0 L228.1,219.7 L228.6,219.5 L229.1,219.3 L229.6,219.0 L230.1,218.7 L230.6,218.5 L231.1,218.2 L231.6,217.9 L232.1,217.6 L232.6,217.4 L233.1,217.1 L233.6,216.8 L234.1,216.5 L234.6,216.2 L235.1,215.9 L235.6,215.7 L236.1,215.4 L236.6,215.1 L237.1,214.8 L237.6,214.5 L238.1,214.2 L238.6,213.9 L239.1,213.6 L239.6,213.3 L240.1,213.0 L240.6,212.7 L241.1,212.4 L241.6,212.1 L242.1,211.9 L242.6,211.6 L243.1,211.3 L243.6,211.0 L244.1,210.7 L244.6,210.4 L245.1,210.2 L245.6,209.9 L246.1,209.7 L246.6,209.4 L247.1,209.2 L247.6,209.0 L248.1,208.8 L248.6,208.6 L249.1,208.4 L249.6,208.2 L250.1,208.0 L250.6,207.8 L251.1,207.6 L251.6,207.4 L252.1,207.2 L252.6,207.0 L253.1,206.8 L253.6,206.7 L254.1,206.5 L254.6,206.3 L255.1,206.1 L255.6,205.9 L256.1,205.8 L256.6,205.6 L257.1,205.4 L257.6,205.3 L258.1,205.1 L258.6,204.9 L259.1,204.8 L259.6,204.6 L260.1,204.5 L260.6,204.3 L261.1,204.2 L261.6,204.0 L262.1,203.9 L262.6,203.8 L263.1,203.6 L263.6,203.5 L264.1,203.3 L264.6,203.2 L265.1,203.1 L265.6,202.9 L266.1,202.8 L266.6,202.6 L267.1,202.5 L267.6,202.3 L268.1,202.2 L268.6,202.0 L269.1,201.9 L269.6,201.7 L270.1,201.6 L270.6,201.4 L271.1,201.3 L271.6,201.1 L272.1,201.0 L272.6,200.8 L273.1,200.7 L273.6,200.5 L274.1,200.4 L274.6,200.2 L275.1,200.1 L275.6,199.9 L276.1,199.8 L276.6,199.6 L277.1,199.5 L277.6,199.3 L278.1,199.2 L278.6,199.0 L279.1,198.8 L279.6,198.7 L280.1,198.5 L280.6,198.4 L281.1,198.2 L281.6,198.1 L282.1,197.9 L282.6,197.7 L283.1,197.5 L283.6,197.3 L284.1,197.1 L284.6,196.8 L285.1,196.5 L285.6,196.2 L286.1,195.8 L286.6,195.4 L287.1,194.9 L287.6,194.4 L288.1,193.9 L288.6,193.3 L289.1,192.7 L289.6,192.1 L290.1,191.5 L290.6,190.8 L291.1,190.1 L291.6,189.5 L292.1,188.7 L292.6,188.0 L293.1,187.3 L293.6,186.5 L294.1,185.8 L294.6,185.0 L295.1,184.3 L295.6,183.5 L296.1,182.8 L296.6,182.0 L297.1,181.3 L297.6,180.5 L298.1,179.7 L298.6,179.0 L299.1,178.2 L299.6,177.4" stroke="#000000"/>
<path d="M48.6,48.0 L49.1,47.7 L49.6,47.5 L50.1,47.2 L50.6,47.0 L51.1,46.8 L51.6,46.6 L52.1,46.4 L52.6,46.2 L53.1,46.0 L53.6,45.8 L54.1,45.7 L54.6,45.5 L55.1,45.4 L55.6,45.3 L56.1,45.2 L56.6,45.2 L57.1,45.1 L57.6,45.1 L58.1,45.2 L58.6,45.2 L59.1,45.4 L59.6,45.7 L60.1,46.1 L60.6,46.5 L61.1,47.1 L61.6,47.7 L62.1,48.5 L62.6,49.3 L63.1,50.1 L63.6,51.1 L64.1,52.1 L64.6,53.1 L65.1,54.2 L65.6,55.4 L66.1,56.6 L66.6,57.9 L67.1,59.3 L67.6,60.7 L68.1,62.1 L68.6,63.7 L69.1,65.3 L69.6,66.9 L70.1,68.6 L70.6,70.5 L71.1,72.5 L71.6,74.8 L72.1,77.3 L72.6,80.1 L73.1,83.2 L73.6,86.4 L74.1,89.8 L74.6,93.2 L75.1,96.7 L75.6,100.3 L76.1,103.8 L76.6,107.5 L77.1,111.2 L77.6,115.0 L78.1,118.8 L78.6,122.6 L79.1,126.5 L79.6,130.4 L80.1,134.2 L80.6,138.1 L81.1,142.0 L81.6,145.8 L82.1,149.6 L82.6,153.4 L83.1,157.1 L83.6,160.7 L84.1,164.1 L84.6,167.2 L85.1,170.2 L85.6,172.9 L86.1,175.4 L86.6,177.7 L87.1,179.9 L87.6,182.0 L88.1,184.1 L88.6,186.1 L89.1,188.1 L89.6,190.0 L90.1,191.9 L90.6,193.8 L91.1,195.6 L91.6,197.3 L92.1,198.9 L92.6,200.5 L93.1,201.9 L93.6,203.2 L94.1,204.5 L94.6,205.6 L95.1,206.6 L95.6,207.6 L96.1,208.5 L96.6,209.4 L97.1,210.1 L97.6,210.8 L98.1,211.5 L98.6,212.1 L99.1,212.6 L99.6,213.0 L100.1,213.5 L100.6,213.9 L101.1,214.2 L101.6,214.6 L102.1,214.9 L102.6,215.2 L103.1,215.5 L103.6,215.8 L104.1,216.1 L104.6,216.3 L105.1,216.6 L105.6,216.8 L106.1,217.0 L106.6,217.2 L107.1,217.4 L107.6,217.5 L108.1,217.6 L108.6,217.7 L109.1,217.8 L109.6,217.9 L110.1,217.9 L110.6,217.9 L111.1,217.9 L111.6,217.9 L112.1,217.9 L112.6,217.8 L113.1,217.8 L113.6,217.7 L114.1,217.6 L114.6,217.5 L115.1,217.4 L115.6,217.2 L116.1,217.1 L116.6,216.9 L117.1,216.7 L117.6,216.5 L118.1,216.3 L118.6,216.1 L119.1,215.8 L119.6,215.6 L120.1,215.3 L120.6,215.0 L121.1,214.7 L121.6,214.4 L122.1,214.0 L122.6,213.7 L123.1,213.3 L123.6,212.9 L124.1,212.5 L124.6,212.1 L125.1,211.6 L125.6,211.1 L126.1,210.7 L126.6,210.1 L127.1,209.6 L127.6,209.1 L128.1,208.5 L128.6,207.9 L129.1,207.3 L129.6,206.7 L130.1,206.0 L130.6,205.3 L131.1,204.6 L131.6,203.9 L132.1,203.2 L132.6,202.4 L133.1,201.6 L133.6,200.8 L134.1,200.0 L134.6,199.1 L135.1,198.2 L135.6,197.3 L136.1,196.4 L136.6,195.5 L137.1,194.5 L137.6,193.5 L138.1,192.6 L138.6,191.5 L139.1,190.5 L139.6,189.4 L140.1,188.4 L140.6,187.3 L141.1,186.1 L141.6,185.0 L142.1,183.7 L142.6,182.5 L143.1,181.2 L143.6,179.8 L144.1,178.5 L144.6,177.1 L145.1,175.8 L145.6,174.5 L146.1,173.3 L146.6,172.1 L147.1,171.0 L147.6,169.9 L148.1,168.9 L148.6,167.9 L149.1,166.9 L149.6,166.0 L150.1,165.2 L150.6,164.4 L151.1,163.6 L151.6,162.8 L152.1,162.1 L152.6,161.5 L153.1,160.8 L153.6,160.3 L154.1,159.7 L154.6,159.2 L155.1,158.7 L155.6,158.3 L156.1,158.0 L156.6,157.6 L157.1,157.3 L157.6,157.1 L158.1,156.9 L158.6,156.8 L159.1,156.7 L159.6,156.6 L160.1,156.6 L160.6,156.7 L161.1,156.7 L161.6,156.9 L162.1,157.1 L162.6,157.4 L163.1,157.7 L163.6,158.2 L164.1,158.7 L164.6,159.3 L165.1,160.0 L165.6,160.7 L166.1,161.6 L166.6,162.5 L167.1,163.5 L167.6,164.6 L168.1,165.7 L168.6,167.0 L169.1,168.2 L169.6,169.5 L170.1,170.8 L170.6,172.1 L171.1,173.3 L171.6,174.6 L172.1,175.9 L172.6,177.2 L173.1,178.5 L173.6,179.8 L174.1,181.1 L174.6,182.4 L175.1,183.7 L175.6,185.0 L176.1,186.3 L176.6,187.5 L177.1,188.8 L177.6,190.0 L178.1,191.3 L178.6,192.5 L179.1,193.6 L179.6,194.8 L180.1,195.9 L180.6,197.0 L181.1,198.1 L181.6,199.2 L182.1,200.2 L182.6,201.1 L183.1,202.1 L183.6,203.0 L184.1,203.9 L184.6,204.7 L185.1,205.6 L185.6,206.4 L186.1,207.2 L186.6,208.0 L187.1,208.7 L187.6,209.5 L188.1,210.3 L188.6,211.0 L189.1,211.8 L189.6,212.5 L190.1,213.2 L190.6,213.9 L191.1,214.6 L191.6,215.3 L192.1,216.0 L192.6,216.6 L193.1,217.3 L193.6,217.9 L194.1,218.6 L194.6,219.2 L195.1,219.8 L195.6,220.3 L196.1,220.9 L196.6,221.4 L197.1,222.0 L197.6,222.5 L198.1,223.0 L198.6,223.4 L199.1,223.9 L199.6,224.3 L200.1,224.7 L200.6,225.0 L201.1,225.4 L201.6,225.7 L202.1,226.0 L202.6,226.2 L203.1,226.4 L203.6,226.6 L204.1,226.8 L204.6,227.0 L205.1,227.1 L205.6,227.2 L206.1,227.3 L206.6,227.4 L207.1,227.4 L207.6,227.4 L208.1,227.4 L208.6,227.4 L209.1,227.4 L209.6,227.3 L210.1,227.3 L210.6,227.2 L211.1,227.1 L211.6,227.0 L212.1,226.9 L212.6,226.7 L213.1,226.6 L213.6,226.5 L214.1,226.3 L214.6,226.1 L215.1,226.0 L215.6,225.8 L216.1,225.6 L216.6,225.4 L217.1,225.2 L217.6,225.0 L218.1,224.9 L218.6,224.7 L219.1,224.5 L219.6,224.3 L220.1,224.1 L220.6,223.9 L221.1,223.7 L221.6,223.5 L222.1,223.3 L222.6,223.1 L223.1,222.9 L223.6,222.7 L224.1,222.5 L224.6,222.3 L225.1,222.0 L225.6,221.8 L226.1,221.6 L226.6,221.4 L227.1,221.2 L227.6,220.9 L228.1,220.7 L228.6,220.5 L229.1,220.2 L229.6,220.0 L230.1,219.7 L230.6,219.4 L231.1,219.2 L231.6,218.9 L232.1,218.6 L232.6,218.4 L233.1,218.1 L233.6,217.8 L234.1,217.5 L234.6,217.2 L235.1,216.9 L235.6,216.7 L236.1,216.4 L236.6,216.1 L237.1,215.8 L237.6,215.5 L238.1,215.2 L238.6,214.9 L239.1,214.6 L239.6,214.3 L240.1,214.0 L240.6,213.7 L241.1,213.4 L241.6,213.1 L242.1,212.8 L242.6,212.5 L243.1,212.2 L243.6,211.9 L244.1,211.6 L244.6,211.3 L245.1,211.1 L245.6,210.8 L246.1,210.5 L246.6,210.3 L247.1,210.0 L247.6,209.8 L248.1,209.6 L248.6,209.4 L249.1,209.2 L249.6,209.0 L250.1,208.8 L250.6,208.6 L251.1,208.4 L251.6,208.2 L252.1,208.0 L252.6,207.8 L253.1,207.6 L253.6,207.4 L254.1,207.2 L254.6,207.0 L255.1,206.8 L255.6,206.7 L256.1,206.5 L256.6,206.3 L257.1,206.1 L257.6,206.0 L258.1,205.8 L258.6,205.6 L259.1,205.5 L259.6,205.3 L260.1,205.2 L260.6,205.0 L261.1,204.9 L261.6,204.7 L262.1,204.6 L262.6,204.5 L263.1,204.3 L263.6,204.2 L264.1,204.1 L264.6,203.9 L265.1,203.8 L265.6,203.6 L266.1,203.5 L266.6,203.3 L267.1,203.2 L267.6,203.0 L268.1,202.9 L268.6,202.8 L269.1,202.6 L269.6,202.5 L270.1,202.3 L270.6,202.2 L271.1,202.0 L271.6,201.9 L272.1,201.7 L272.6,201.6 L273.1,201.4 L273.6,201.3 L274.1,201.2 L274.6,201.0 L275.1,200.9 L275.6,200.7 L276.1,200.6 L276.6,200.4 L277.1,200.3 L277.6,200.1 L278.1,200.0 L278.6,199.8 L279.1,199.7 L279.6,199.5 L280.1,199.4 L280.6,199.2 L281.1,199.1 L281.6,198.9 L282.1,198.8 L282.6,198.6 L283.1,198.4 L283.6,198.2 L284.1,198.0 L284.6,197.7 L285.1,197.4 L285.6,197.1 L286.1,196.7 L286.6,196.3 L287.1,195.9 L287.6,195.4 L288.1,194.8 L288.6,194.3 L289.1,193.7 L289.6,193.1 L290.1,192.4 L290.6,191.8 L291.1,191.1 L291.6,190.4 L292.1,189.7 L292.6,189.0 L293.1,188.3 L293.6,187.5 L294.1,186.8 L294.6,186.0 L295.1,185.3 L295.6,184.5 L296.1,183.8 L296.6,183.0 L297.1,182.3 L297.6,181.5 L298.1,180.7 L298.6,180.0 L299.1,179.2 L299.6,178.4" stroke="#008000"/>
<path d="M48.6,51.0 L49.1,50.8 L49.6,50.5 L50.1,50.3 L50.6,50.1 L51.1,49.9 L51.6,49.7 L52.1,49.5 L52.6,49.3 L53.1,49.2 L53.6,49.1 L54.1,49.0 L54.6,49.0 L55.1,49.0 L55.6,49.0 L56.1,49.1 L56.6,49.3 L57.1,49.5 L57.6,49.7 L58.1,50.0 L58.6,50.4 L59.1,50.8 L59.6,51.4 L60.1,52.1 L60.6,52.9 L61.1,53.8 L61.6,54.7 L62.1,55.6 L62.6,56.6 L63.1,57.5 L63.6,58.5 L64.1,59.4 L64.6,60.3 L65.1,61.2 L65.6,62.1 L66.1,63.1 L66.6,64.0 L67.1,65.0 L67.6,66.1 L68.1,67.2 L68.6,68.3 L69.1,69.5 L69.6,70.8 L70.1,72.1 L70.6,73.6 L71.1,75.2 L71.6,77.2 L72.1,79.4 L72.6,81.9 L73.1,84.7 L73.6,87.7 L74.1,90.8 L74.6,94.1 L75.1,97.4 L75.6,100.7 L76.1,104.2 L76.6,107.7 L77.1,111.3 L77.6,114.9 L78.1,118.6 L78.6,122.4 L79.1,126.1 L79.6,129.9 L80.1,133.7 L80.6,137.6 L81.1,141.4 L81.6,145.1 L82.1,148.9 L82.6,152.6 L83.1,156.3 L83.6,159.8 L84.1,163.1 L84.6,166.2 L85.1,169.1 L85.6,171.8 L86.1,174.3 L86.6,176.5 L87.1,178.7 L87.6,180.8 L88.1,182.8 L88.6,184.7 L89.1,186.7 L89.6,188.6 L90.1,190.4 L90.6,192.3 L91.1,194.0 L91.6,195.7 L92.1,197.3 L92.6,198.8 L93.1,200.2 L93.6,201.5 L94.1,202.7 L94.6,203.8 L95.1,204.8 L95.6,205.8 L96.1,206.6 L96.6,207.4 L97.1,208.2 L97.6,208.9 L98.1,209.5 L98.6,210.0 L99.1,210.5 L99.6,211.0 L100.1,211.4 L100.6,211.8 L101.1,212.1 L101.6,212.4 L102.1,212.7 L102.6,213.0 L103.1,213.3 L103.6,213.6 L104.1,213.8 L104.6,214.1 L105.1,214.3 L105.6,214.5 L106.1,214.7 L106.6,214.9 L107.1,215.1 L107.6,215.2 L108.1,215.3 L108.6,215.5 L109.1,215.5 L109.6,215.6 L110.1,215.6 L110.6,215.7 L111.1,215.7 L111.6,215.6 L112.1,215.6 L112.6,215.6 L113.1,215.5 L113.6,215.5 L114.1,215.4 L114.6,215.3 L115.1,215.2 L115.6,215.1 L116.1,214.9 L116.6,214.8 L117.1,214.6 L117.6,214.5 L118.1,214.3 L118.6,214.1 L119.1,213.9 L119.6,213.7 L120.1,213.4 L120.6,213.2 L121.1,212.9 L121.6,212.6 L122.1,212.3 L122.6,212.0 L123.1,211.7 L123.6,211.3 L124.1,210.9 L124.6,210.6 L125.1,210.1 L125.6,209.7 L126.1,209.3 L126.6,208.8 L127.1,208.3 L127.6,207.8 L128.1,207.3 L128.6,206.8 L129.1,206.2 L129.6,205.6 L130.1,205.0 L130.6,204.4 L131.1,203.7 L131.6,203.1 L132.1,202.4 L132.6,201.6 L133.1,200.9 L133.6,200.1 L134.1,199.3 L134.6,198.5 L135.1,197.7 L135.6,196.8 L136.1,195.9 L136.6,195.0 L137.1,194.1 L137.6,193.2 L138.1,192.2 L138.6,191.2 L139.1,190.2 L139.6,189.2 L140.1,188.2 L140.6,187.1 L141.1,186.0 L141.6,184.8 L142.1,183.6 L142.6,182.4 L143.1,181.1 L143.6,179.8 L144.1,178.4 L144.6,177.1 L145.1,175.8 L145.6,174.5 L146.1,173.3 L146.6,172.1 L147.1,170.9 L147.6,169.9 L148.1,168.8 L148.6,167.8 L149.1,166.9 L149.6,166.0 L150.1,165.1 L150.6,164.3 L151.1,163.5 L151.6,162.7 L152.1,162.0 L152.6,161.3 L153.1,160.6 L153.6,160.0 L154.1,159.4 L154.6,158.9 L155.1,158.4 L155.6,158.0 L156.1,157.6 L156.6,157.2 L157.1,156.9 L157.6,156.7 L158.1,156.5 L158.6,156.3 L159.1,156.2 L159.6,156.1 L160.1,156.1 L160.6,156.2 L161.1,156.2 L161.6,156.4 L162.1,156.6 L162.6,156.9 L163.1,157.3 L163.6,157.7 L164.1,158.2 L164.6,158.9 L165.1,159.5 L165.6,160.3 L166.1,161.2 L166.6,162.1 L167.1,163.1 L167.6,164.2 L168.1,165.4 L168.6,166.7 L169.1,167.9 L169.6,169.2 L170.1,170.5 L170.6,171.8 L171.1,173.1 L171.6,174.5 L172.1,175.8 L172.6,177.1 L173.1,178.4 L173.6,179.7 L174.1,181.0 L174.6,182.3 L175.1,183.6 L175.6,184.9 L176.1,186.2 L176.6,187.5 L177.1,188.8 L177.6,190.0 L178.1,191.3 L178.6,192.5 L179.1,193.6 L179.6,194.8 L180.1,195.9 L180.6,197.0 L181.1,198.1 L181.6,199.1 L182.1,200.1 L182.6,201.0 L183.1,201.9 L183.6,202.8 L184.1,203.7 L184.6,204.5 L185.1,205.2 L185.6,206.0 L186.1,206.7 L186.6,207.5 L187.1,208.2 L187.6,208.9 L188.1,209.6 L188.6,210.2 L189.1,210.9 L189.6,211.5 L190.1,212.2 L190.6,212.8 L191.1,213.4 L191.6,214.0 L192.1,214.6 L192.6,215.2 L193.1,215.7 L193.6,216.3 L194.1,216.8 L194.6,217.4 L195.1,217.9 L195.6,218.4 L196.1,218.8 L196.6,219.3 L197.1,219.8 L197.6,220.2 L198.1,220.6 L198.6,221.0 L199.1,221.4 L199.6,221.7 L200.1,222.1 L200.6,222.4 L201.1,222.6 L201.6,222.9 L202.1,223.1 L202.6,223.3 L203.1,223.5 L203.6,223.7 L204.1,223.9 L204.6,224.0 L205.1,224.1 L205.6,224.2 L206.1,224.3 L206.6,224.3 L207.1,224.4 L207.6,224.4 L208.1,224.4 L208.6,224.3 L209.1,224.3 L209.6,224.3 L210.1,224.2 L210.6,224.1 L211.1,224.1 L211.6,224.0 L212.1,223.8 L212.6,223.7 L213.1,223.6 L213.6,223.4 L214.1,223.3 L214.6,223.1 L215.1,222.9 L215.6,222.8 L216.1,222.6 L216.6,222.4 L217.1,222.3 L217.6,222.1 L218.1,221.9 L218.6,221.7 L219.1,221.5 L219.6,221.4 L220.1,221.2 L220.6,221.0 L221.1,220.8 L221.6,220.6 L222.1,220.4 L222.6,220.2 L223.1,220.0 L223.6,219.8 L224.1,219.7 L224.6,219.5 L225.1,219.3 L225.6,219.1 L226.1,218.9 L226.6,218.7 L227.1,218.4 L227.6,218.2 L228.1,218.0 L228.6,217.8 L229.1,217.6 L229.6,217.3 L230.1,217.1 L230.6,216.8 L231.1,216.6 L231.6,216.3 L232.1,216.1 L232.6,215.8 L233.1,215.5 L233.6,215.3 L234.1,215.0 L234.6,214.7 L235.1,214.4 L235.6,214.2 L236.1,213.9 L236.6,213.6 L237.1,213.3 L237.6,213.1 L238.1,212.8 L238.6,212.5 L239.1,212.2 L239.6,211.9 L240.1,211.6 L240.6,211.4 L241.1,211.1 L241.6,210.8 L242.1,210.5 L242.6,210.2 L243.1,210.0 L243.6,209.7 L244.1,209.4 L244.6,209.1 L245.1,208.9 L245.6,208.6 L246.1,208.4 L246.6,208.2 L247.1,207.9 L247.6,207.7 L248.1,207.5 L248.6,207.3 L249.1,207.1 L249.6,207.0 L250.1,206.8 L250.6,206.6 L251.1,206.4 L251.6,206.2 L252.1,206.0 L252.6,205.9 L253.1,205.7 L253.6,205.5 L254.1,205.3 L254.6,205.2 L255.1,205.0 L255.6,204.8 L256.1,204.6 L256.6,204.5 L257.1,204.3 L257.6,204.1 L258.1,204.0 L258.6,203.8 L259.1,203.7 L259.6,203.5 L260.1,203.4 L260.6,203.3 L261.1,203.1 L261.6,203.0 L262.1,202.8 L262.6,202.7 L263.1,202.6 L263.6,202.4 L264.1,202.3 L264.6,202.2 L265.1,202.0 L265.6,201.9 L266.1,201.8 L266.6,201.6 L267.1,201.5 L267.6,201.4 L268.1,201.2 L268.6,201.1 L269.1,201.0 L269.6,200.8 L270.1,200.7 L270.6,200.6 L271.1,200.4 L271.6,200.3 L272.1,200.2 L272.6,200.0 L273.1,199.9 L273.6,199.8 L274.1,199.7 L274.6,199.5 L275.1,199.4 L275.6,199.3 L276.1,199.2 L276.6,199.0 L277.1,198.9 L277.6,198.8 L278.1,198.7 L278.6,198.5 L279.1,198.4 L279.6,198.3 L280.1,198.2 L280.6,198.0 L281.1,197.9 L281.6,197.8 L282.1,197.6 L282.6,197.5 L283.1,197.3 L283.6,197.2 L284.1,197.0 L284.6,196.7 L285.1,196.5 L285.6,196.1 L286.1,195.8 L286.6,195.4 L287.1,195.0 L287.6,194.5 L288.1,194.0 L288.6,193.4 L289.1,192.9 L289.6,192.3 L290.1,191.7 L290.6,191.0 L291.1,190.4 L291.6,189.7 L292.1,189.0 L292.6,188.3 L293.1,187.6 L293.6,186.9 L294.1,186.2 L294.6,185.4 L295.1,184.7 L295.6,184.0 L296.1,183.2 L296.6,182.5 L297.1,181.7 L297.6,181.0 L298.1,180.2 L298.6,179.5 L299.1,178.7 L299.6,177.9" stroke="#ff00ff"/>
<path d="M48.6,46.0 L49.1,45.7 L49.6,45.5 L50.1,45.2 L50.6,45.0 L51.1,44.8 L51.6,44.6 L52.1,44.4 L52.6,44.2 L53.1,44.0 L53.6,43.8 L54.1,43.7 L54.6,43.5 L55.1,43.4 L55.6,43.3 L56.1,43.2 L56.6,43.2 L57.1,43.1 L57.6,43.1 L58.1,43.2 L58.6,43.2 L59.1,43.4 L59.6,43.7 L60.1,44.1 L60.6,44.5 L61.1,45.1 L61.6,45.7 L62.1,46.5 L62.6,47.3 L63.1,48.1 L63.6,49.1 L64.1,50.1 L64.6,51.1 L65.1,52.3 L65.6,53.5 L66.1,54.8 L66.6,56.1 L67.1,57.5 L67.6,59.0 L68.1,60.6 L68.6,62.2 L69.1,63.9 L69.6,65.7 L70.1,67.5 L70.6,69.5 L71.1,71.6 L71.6,74.0 L72.1,76.6 L72.6,79.5 L73.1,82.6 L73.6,85.9 L74.1,89.3 L74.6,92.7 L75.1,96.2 L75.6,99.7 L76.1,103.3 L76.6,107.0 L77.1,110.7 L77.6,114.4 L78.1,118.3 L78.6,122.1 L79.1,126.0 L79.6,129.8 L80.1,133.7 L80.6,137.6 L81.1,141.4 L81.6,145.3 L82.1,149.1 L82.6,152.8 L83.1,156.5 L83.6,160.1 L84.1,163.5 L84.6,166.6 L85.1,169.5 L85.6,172.2 L86.1,174.7 L86.6,177.1 L87.1,179.3 L87.6,181.4 L88.1,183.4 L88.6,185.4 L89.1,187.4 L89.6,189.3 L90.1,191.2 L90.6,193.1 L91.1,194.8 L91.6,196.6 L92.1,198.2 L92.6,199.7 L93.1,201.1 L93.6,202.4 L94.1,203.7 L94.6,204.8 L95.1,205.8 L95.6,206.8 L96.1,207.7 L96.6,208.5 L97.1,209.3 L97.6,210.0 L98.1,210.6 L98.6,211.2 L99.1,211.7 L99.6,212.2 L100.1,212.6 L100.6,212.9 L101.1,213.3 L101.6,213.6 L102.1,214.0 L102.6,214.3 L103.1,214.6 L103.6,214.8 L104.1,215.1 L104.6,215.4 L105.1,215.6 L105.6,215.8 L106.1,216.0 L106.6,216.2 L107.1,216.4 L107.6,216.5 L108.1,216.6 L108.6,216.7 L109.1,216.8 L109.6,216.9 L110.1,216.9 L110.6,216.9 L111.1,216.9 L111.6,216.9 L112.1,216.9 L112.6,216.8 L113.1,216.8 L113.6,216.7 L114.1,216.6 L114.6,216.5 L115.1,216.4 L115.6,216.3 L116.1,216.1 L116.6,216.0 L117.1,215.8 L117.6,215.6 L118.1,215.4 L118.6,215.2 L119.1,215.0 L119.6,214.8 L120.1,214.5 L120.6,214.2 L121.1,213.9 L121.6,213.6 L122.1,213.3 L122.6,212.9 L123.1,212.6 L123.6,212.2 L124.1,211.8 L124.6,211.4 L125.1,211.0 L125.6,210.5 L126.1,210.1 L126.6,209.6 L127.1,209.1 L127.6,208.5 L128.1,208.0 L128.6,207.4 L129.1,206.8 L129.6,206.2 L130.1,205.6 L130.6,204.9 L131.1,204.3 L131.6,203.6 L132.1,202.8 L132.6,202.1 L133.1,201.3 L133.6,200.5 L134.1,199.7 L134.6,198.9 L135.1,198.0 L135.6,197.1 L136.1,196.2 L136.6,195.3 L137.1,194.3 L137.6,193.4 L138.1,192.4 L138.6,191.4 L139.1,190.4 L139.6,189.3 L140.1,188.3 L140.6,187.2 L141.1,186.1 L141.6,184.9 L142.1,183.7 L142.6,182.4 L143.1,181.1 L143.6,179.8 L144.1,178.5 L144.6,177.1 L145.1,175.8 L145.6,174.5 L146.1,173.3 L146.6,172.1 L147.1,170.9 L147.6,169.9 L148.1,168.8 L148.6,167.8 L149.1,166.9 L149.6,165.9 L150.1,165.0 L150.6,164.2 L151.1,163.3 L151.6,162.6 L152.1,161.8 L152.6,161.1 L153.1,160.4 L153.6,159.7 L154.1,159.1 L154.6,158.6 L155.1,158.1 L155.6,157.6 L156.1,157.2 L156.6,156.8 L157.1,156.5 L157.6,156.2 L158.1,156.0 L158.6,155.8 L159.1,155.7 L159.6,155.7 L160.1,155.6 L160.6,155.7 L161.1,155.8 L161.6,155.9 L162.1,156.1 L162.6,156.4 L163.1,156.8 L163.6,157.3 L164.1,157.8 L164.6,158.4 L165.1,159.1 L165.6,159.9 L166.1,160.8 L166.6,161.7 L167.1,162.8 L167.6,163.9 L168.1,165.1 L168.6,166.3 L169.1,167.6 L169.6,168.9 L170.1,170.3 L170.6,171.6 L171.1,172.9 L171.6,174.3 L172.1,175.6 L172.6,176.9 L173.1,178.2 L173.6,179.6 L174.1,180.9 L174.6,182.2 L175.1,183.6 L175.6,184.9 L176.1,186.2 L176.6,187.5 L177.1,188.7 L177.6,190.0 L178.1,191.2 L178.6,192.4 L179.1,193.6 L179.6,194.8 L180.1,195.9 L180.6,197.0 L181.1,198.1 L181.6,199.1 L182.1,200.2 L182.6,201.1 L183.1,202.1 L183.6,202.9 L184.1,203.8 L184.6,204.7 L185.1,205.5 L185.6,206.3 L186.1,207.1 L186.6,207.8 L187.1,208.6 L187.6,209.3 L188.1,210.1 L188.6,210.8 L189.1,211.5 L189.6,212.2 L190.1,212.9 L190.6,213.6 L191.1,214.3 L191.6,215.0 L192.1,215.6 L192.6,216.3 L193.1,216.9 L193.6,217.5 L194.1,218.1 L194.6,218.7 L195.1,219.2 L195.6,219.8 L196.1,220.3 L196.6,220.8 L197.1,221.3 L197.6,221.8 L198.1,222.3 L198.6,222.7 L199.1,223.1 L199.6,223.5 L200.1,223.9 L200.6,224.2 L201.1,224.5 L201.6,224.8 L202.1,225.1 L202.6,225.3 L203.1,225.5 L203.6,225.7 L204.1,225.9 L204.6,226.0 L205.1,226.1 L205.6,226.2 L206.1,226.3 L206.6,226.3 L207.1,226.3 L207.6,226.3 L208.1,226.3 L208.6,226.2 L209.1,226.2 L209.6,226.1 L210.1,226.0 L210.6,226.0 L211.1,225.8 L211.6,225.7 L212.1,225.6 L212.6,225.4 L213.1,225.3 L213.6,225.1 L214.1,224.9 L214.6,224.7 L215.1,224.5 L215.6,224.3 L216.1,224.1 L216.6,223.9 L217.1,223.7 L217.6,223.5 L218.1,223.3 L218.6,223.1 L219.1,222.9 L219.6,222.7 L220.1,222.4 L220.6,222.2 L221.1,222.0 L221.6,221.8 L222.1,221.6 L222.6,221.3 L223.1,221.1 L223.6,220.9 L224.1,220.7 L224.6,220.4 L225.1,220.2 L225.6,220.0 L226.1,219.8 L226.6,219.5 L227.1,219.3 L227.6,219.0 L228.1,218.8 L228.6,218.5 L229.1,218.3 L229.6,218.0 L230.1,217.8 L230.6,217.5 L231.1,217.2 L231.6,216.9 L232.1,216.7 L232.6,216.4 L233.1,216.1 L233.6,215.8 L234.1,215.5 L234.6,215.2 L235.1,214.9 L235.6,214.7 L236.1,214.4 L236.6,214.1 L237.1,213.8 L237.6,213.5 L238.1,213.2 L238.6,212.9 L239.1,212.6 L239.6,212.3 L240.1,212.1 L240.6,211.8 L241.1,211.5 L241.6,211.2 L242.1,210.9 L242.6,210.6 L243.1,210.4 L243.6,210.1 L244.1,209.8 L244.6,209.5 L245.1,209.3 L245.6,209.0 L246.1,208.8 L246.6,208.6 L247.1,208.3 L247.6,208.1 L248.1,207.9 L248.6,207.7 L249.1,207.5 L249.6,207.3 L250.1,207.2 L250.6,207.0 L251.1,206.8 L251.6,206.6 L252.1,206.4 L252.6,206.3 L253.1,206.1 L253.6,205.9 L254.1,205.7 L254.6,205.6 L255.1,205.4 L255.6,205.2 L256.1,205.0 L256.6,204.9 L257.1,204.7 L257.6,204.5 L258.1,204.4 L258.6,204.2 L259.1,204.1 L259.6,203.9 L260.1,203.8 L260.6,203.6 L261.1,203.5 L261.6,203.3 L262.1,203.2 L262.6,203.1 L263.1,202.9 L263.6,202.8 L264.1,202.6 L264.6,202.5 L265.1,202.3 L265.6,202.2 L266.1,202.0 L266.6,201.9 L267.1,201.7 L267.6,201.6 L268.1,201.4 L268.6,201.3 L269.1,201.1 L269.6,201.0 L270.1,200.8 L270.6,200.7 L271.1,200.5 L271.6,200.4 L272.1,200.2 L272.6,200.0 L273.1,199.9 L273.6,199.7 L274.1,199.6 L274.6,199.4 L275.1,199.3 L275.6,199.1 L276.1,199.0 L276.6,198.8 L277.1,198.6 L277.6,198.5 L278.1,198.3 L278.6,198.2 L279.1,198.0 L279.6,197.8 L280.1,197.7 L280.6,197.5 L281.1,197.4 L281.6,197.2 L282.1,197.0 L282.6,196.9 L283.1,196.7 L283.6,196.5 L284.1,196.2 L284.6,195.9 L285.1,195.6 L285.6,195.3 L286.1,194.9 L286.6,194.5 L287.1,194.0 L287.6,193.5 L288.1,193.0 L288.6,192.4 L289.1,191.8 L289.6,191.2 L290.1,190.5 L290.6,189.9 L291.1,189.2 L291.6,188.5 L292.1,187.8 L292.6,187.0 L293.1,186.3 L293.6,185.6 L294.1,184.8 L294.6,184.1 L295.1,183.3 L295.6,182.6 L296.1,181.8 L296.6,181.0 L297.1,180.3 L297.6,179.5 L298.1,178.7 L298.6,178.0 L299.1,177.2 L299.6,176.4" stroke="#008080"/>
<path d="M48.6,49.0 L49.1,48.8 L49.6,48.5 L50.1,48.3 L50.6,48.1 L51.1,47.9 L51.6,47.7 L52.1,47.5 L52.6,47.3 L53.1,47.2 L53.6,47.1 L54.1,46.9 L54.6,46.9 L55.1,46.8 L55.6,46.7 L56.1,46.7 L56.6,46.7 L57.1,46.7 L57.6,46.8 L58.1,46.9 L58.6,47.2 L59.1,47.5 L59.6,47.9 L60.1,48.5 L60.6,49.2 L61.1,50.0 L61.6,50.8 L62.1,51.8 L62.6,52.8 L63.1,53.8 L63.6,54.9 L64.1,55.9 L64.6,57.0 L65.1,58.1 L65.6,59.2 L66.1,60.3 L66.6,61.4 L67.1,62.6 L67.6,63.8 L68.1,65.1 L68.6,66.4 L69.1,67.8 L69.6,69.2 L70.1,70.7 L70.6,72.3 L71.1,74.1 L71.6,76.2 L72.1,78.5 L72.6,81.1 L73.1,84.0 L73.6,87.1 L74.1,90.3 L74.6,93.6 L75.1,97.0 L75.6,100.4 L76.1,103.9 L76.6,107.4 L77.1,111.0 L77.6,114.7 L78.1,118.4 L78.6,122.2 L79.1,126.1 L79.6,129.9 L80.1,133.8 L80.6,137.6 L81.1,141.5 L81.6,145.3 L82.1,149.2 L82.6,152.9 L83.1,156.6 L83.6,160.2 L84.1,163.6 L84.6,166.8 L85.1,169.7 L85.6,172.5 L86.1,175.0 L86.6,177.3 L87.1,179.6 L87.6,181.7 L88.1,183.8 L88.6,185.8 L89.1,187.8 L89.6,189.7 L90.1,191.7 L90.6,193.6 L91.1,195.4 L91.6,197.1 L92.1,198.8 L92.6,200.3 L93.1,201.8 L93.6,203.2 L94.1,204.4 L94.6,205.6 L95.1,206.6 L95.6,207.6 L96.1,208.6 L96.6,209.4 L97.1,210.2 L97.6,211.0 L98.1,211.6 L98.6,212.2 L99.1,212.8 L99.6,213.3 L100.1,213.7 L100.6,214.1 L101.1,214.5 L101.6,214.9 L102.1,215.2 L102.6,215.5 L103.1,215.9 L103.6,216.2 L104.1,216.5 L104.6,216.7 L105.1,217.0 L105.6,217.2 L106.1,217.4 L106.6,217.6 L107.1,217.8 L107.6,218.0 L108.1,218.1 L108.6,218.2 L109.1,218.3 L109.6,218.4 L110.1,218.4 L110.6,218.4 L111.1,218.4 L111.6,218.4 L112.1,218.4 L112.6,218.3 L113.1,218.3 L113.6,218.2 L114.1,218.1 L114.6,218.0 L115.1,217.8 L115.6,217.7 L116.1,217.5 L116.6,217.4 L117.1,217.2 L117.6,217.0 L118.1,216.8 L118.6,216.5 L119.1,216.3 L119.6,216.0 L120.1,215.7 L120.6,215.4 L121.1,215.1 L121.6,214.8 L122.1,214.4 L122.6,214.0 L123.1,213.7 L123.6,213.3 L124.1,212.8 L124.6,212.4 L125.1,211.9 L125.6,211.4 L126.1,210.9 L126.6,210.4 L127.1,209.9 L127.6,209.3 L128.1,208.8 L128.6,208.2 L129.1,207.5 L129.6,206.9 L130.1,206.2 L130.6,205.6 L131.1,204.8 L131.6,204.1 L132.1,203.4 L132.6,202.6 L133.1,201.8 L133.6,201.0 L134.1,200.1 L134.6,199.2 L135.1,198.4 L135.6,197.5 L136.1,196.5 L136.6,195.6 L137.1,194.6 L137.6,193.6 L138.1,192.6 L138.6,191.6 L139.1,190.6 L139.6,189.5 L140.1,188.4 L140.6,187.3 L141.1,186.2 L141.6,185.0 L142.1,183.8 L142.6,182.5 L143.1,181.2 L143.6,179.8 L144.1,178.5 L144.6,177.1 L145.1,175.8 L145.6,174.5 L146.1,173.3 L146.6,172.1 L147.1,171.0 L147.6,169.9 L148.1,168.9 L148.6,168.0 L149.1,167.1 L149.6,166.2 L150.1,165.4 L150.6,164.7 L151.1,164.0 L151.6,163.3 L152.1,162.7 L152.6,162.1 L153.1,161.5 L153.6,161.0 L154.1,160.6 L154.6,160.1 L155.1,159.8 L155.6,159.4 L156.1,159.1 L156.6,158.9 L157.1,158.6 L157.6,158.5 L158.1,158.3 L158.6,158.2 L159.1,158.1 L159.6,158.1 L160.1,158.1 L160.6,158.1 L161.1,158.2 L161.6,158.3 L162.1,158.5 L162.6,158.8 L163.1,159.1 L163.6,159.5 L164.1,160.0 L164.6,160.6 L165.1,161.2 L165.6,161.9 L166.1,162.7 L166.6,163.6 L167.1,164.5 L167.6,165.6 L168.1,166.7 L168.6,167.9 L169.1,169.1 L169.6,170.3 L170.1,171.5 L170.6,172.7 L171.1,174.0 L171.6,175.2 L172.1,176.5 L172.6,177.7 L173.1,178.9 L173.6,180.2 L174.1,181.4 L174.6,182.7 L175.1,183.9 L175.6,185.2 L176.1,186.4 L176.6,187.7 L177.1,188.9 L177.6,190.1 L178.1,191.3 L178.6,192.5 L179.1,193.7 L179.6,194.8 L180.1,195.9 L180.6,197.1 L181.1,198.1 L181.6,199.2 L182.1,200.2 L182.6,201.2 L183.1,202.1 L183.6,203.1 L184.1,204.0 L184.6,204.8 L185.1,205.7 L185.6,206.5 L186.1,207.4 L186.6,208.2 L187.1,209.0 L187.6,209.8 L188.1,210.6 L188.6,211.4 L189.1,212.1 L189.6,212.9 L190.1,213.7 L190.6,214.4 L191.1,215.1 L191.6,215.9 L192.1,216.6 L192.6,217.3 L193.1,218.0 L193.6,218.7 L194.1,219.3 L194.6,220.0 L195.1,220.6 L195.6,221.2 L196.1,221.8 L196.6,222.4 L197.1,222.9 L197.6,223.5 L198.1,224.0 L198.6,224.5 L199.1,225.0 L199.6,225.4 L200.1,225.8 L200.6,226.2 L201.1,226.6 L201.6,226.9 L202.1,227.2 L202.6,227.5 L203.1,227.7 L203.6,227.9 L204.1,228.1 L204.6,228.3 L205.1,228.4 L205.6,228.5 L206.1,228.6 L206.6,228.7 L207.1,228.7 L207.6,228.7 L208.1,228.7 L208.6,228.7 L209.1,228.7 L209.6,228.6 L210.1,228.6 L210.6,228.5 L211.1,228.4 L211.6,228.3 L212.1,228.2 L212.6,228.1 L213.1,227.9 L213.6,227.8 L214.1,227.6 L214.6,227.4 L215.1,227.2 L215.6,227.1 L216.1,226.9 L216.6,226.7 L217.1,226.5 L217.6,226.3 L218.1,226.1 L218.6,225.9 L219.1,225.7 L219.6,225.5 L220.1,225.3 L220.6,225.1 L221.1,224.9 L221.6,224.7 L222.1,224.5 L222.6,224.3 L223.1,224.1 L223.6,223.9 L224.1,223.7 L224.6,223.5 L225.1,223.3 L225.6,223.1 L226.1,222.8 L226.6,222.6 L227.1,222.4 L227.6,222.2 L228.1,221.9 L228.6,221.7 L229.1,221.4 L229.6,221.2 L230.1,220.9 L230.6,220.7 L231.1,220.4 L231.6,220.1 L232.1,219.8 L232.6,219.6 L233.1,219.3 L233.6,219.0 L234.1,218.7 L234.6,218.4 L235.1,218.1 L235.6,217.9 L236.1,217.6 L236.6,217.3 L237.1,217.0 L237.6,216.7 L238.1,216.4 L238.6,216.1 L239.1,215.8 L239.6,215.5 L240.1,215.2 L240.6,214.9 L241.1,214.6 L241.6,214.3 L242.1,214.0 L242.6,213.7 L243.1,213.4 L243.6,213.1 L244.1,212.9 L244.6,212.6 L245.1,212.3 L245.6,212.0 L246.1,211.8 L246.6,211.5 L247.1,211.3 L247.6,211.1 L248.1,210.9 L248.6,210.6 L249.1,210.4 L249.6,210.2 L250.1,210.0 L250.6,209.8 L251.1,209.6 L251.6,209.5 L252.1,209.3 L252.6,209.1 L253.1,208.9 L253.6,208.7 L254.1,208.5 L254.6,208.3 L255.1,208.1 L255.6,208.0 L256.1,207.8 L256.6,207.6 L257.1,207.4 L257.6,207.3 L258.1,207.1 L258.6,206.9 L259.1,206.8 L259.6,206.6 L260.1,206.5 L260.6,206.3 L261.1,206.2 L261.6,206.0 L262.1,205.9 L262.6,205.8 L263.1,205.6 L263.6,205.5 L264.1,205.3 L264.6,205.2 L265.1,205.1 L265.6,204.9 L266.1,204.8 L266.6,204.6 L267.1,204.5 L267.6,204.3 L268.1,204.2 L268.6,204.0 L269.1,203.9 L269.6,203.7 L270.1,203.6 L270.6,203.4 L271.1,203.3 L271.6,203.1 L272.1,203.0 L272.6,202.8 L273.1,202.7 L273.6,202.5 L274.1,202.4 L274.6,202.2 L275.1,202.1 L275.6,201.9 L276.1,201.8 L276.6,201.6 L277.1,201.5 L277.6,201.3 L278.1,201.2 L278.6,201.0 L279.1,200.8 L279.6,200.7 L280.1,200.5 L280.6,200.4 L281.1,200.2 L281.6,200.1 L282.1,199.9 L282.6,199.7 L283.1,199.5 L283.6,199.3 L284.1,199.1 L284.6,198.8 L285.1,198.5 L285.6,198.2 L286.1,197.8 L286.6,197.4 L287.1,196.9 L287.6,196.4 L288.1,195.9 L288.6,195.3 L289.1,194.7 L289.6,194.1 L290.1,193.5 L290.6,192.8 L291.1,192.1 L291.6,191.5 L292.1,190.7 L292.6,190.0 L293.1,189.3 L293.6,188.5 L294.1,187.8 L294.6,187.0 L295.1,186.3 L295.6,185.5 L296.1,184.8 L296.6,184.0 L297.1,183.3 L297.6,182.5 L298.1,181.7 L298.6,181.0 L299.1,180.2 L299.6,179.4" stroke="#0000ff"/>
<path d="M300.1,174.7 L300.6,173.9 L301.1,173.2 L301.6,172.4 L302.1,171.6 L302.6,170.9 L303.1,170.1 L303.6,169.4 L304.1,168.6 L304.6,167.9 L305.1,167.1 L305.6,166.4 L306.1,165.6 L306.6,164.9 L307.1,164.2 L307.6,163.4 L308.1,162.7 L308.6,161.9 L309.1,161.2 L309.6,160.4 L310.1,159.6 L310.6,158.8 L311.1,158.0 L311.6,157.1 L312.1,156.2 L312.6,155.3 L313.1,154.3 L313.6,153.3 L314.1,152.3 L314.6,151.2 L315.1,150.2 L315.6,149.1 L316.1,148.0 L316.6,146.9 L317.1,145.7 L317.6,144.6 L318.1,143.4 L318.6,142.3 L319.1,141.2 L319.6,140.1 L320.1,139.0 L320.6,138.0 L321.1,137.0 L321.6,136.0 L322.1,135.1 L322.6,134.2 L323.1,133.3 L323.6,132.5 L324.1,131.7 L324.6,130.9 L325.1,130.1 L325.6,129.3 L326.1,128.5 L326.6,127.8 L327.1,127.0 L327.6,126.3 L328.1,125.5 L328.6,124.8 L329.1,124.1 L329.6,123.3 L330.1,122.6 L330.6,121.8 L331.1,121.1 L331.6,120.3 L332.1,119.6 L332.6,118.8 L333.1,118.1 L333.6,117.3 L334.1,116.6 L334.6,115.8 L335.1,115.0 L335.6,114.3 L336.1,113.5 L336.6,112.8 L337.1,112.0 L337.6,111.2 L338.1,110.5 L338.6,109.7 L339.1,108.9 L339.6,108.2 L340.1,107.4 L340.6,106.6 L341.1,105.8 L341.6,105.1 L342.1,104.3 L342.6,103.5 L343.1,102.7 L343.6,101.9 L344.1,101.1 L344.6,100.3 L345.1,99.4 L345.6,98.6 L346.1,97.7 L346.6,96.8 L347.1,95.9 L347.6,95.0 L348.1,94.0 L348.6,93.1 L349.1,92.2 L349.6,91.3 L350.1,90.4 L350.6,89.5 L351.1,88.7 L351.6,87.9 L352.1,87.1 L352.6,86.3 L353.1,85.5 L353.6,84.7 L354.1,84.0 L354.6,83.2 L355.1,82.5 L355.6,81.7 L356.1,81.0 L356.6,80.3 L357.1,79.6 L357.6,79.0 L358.1,78.3 L358.6,77.7 L359.1,77.1 L359.6,76.5 L360.1,75.9 L360.6,75.3 L361.1,74.8 L361.6,74.2 L362.1,73.7 L362.6,73.2 L363.1,72.7 L363.6,72.3 L364.1,71.8 L364.6,71.4 L365.1,71.0 L365.6,70.7 L366.1,70.3 L366.6,70.0 L367.1,69.7 L367.6,69.4 L368.1,69.1 L368.6,68.8 L369.1,68.6 L369.6,68.4 L370.1,68.3 L370.6,68.1 L371.1,68.0 L371.6,67.9 L372.1,67.8 L372.6,67.8 L373.1,67.8 L373.6,67.8 L374.1,67.8 L374.6,67.9 L375.1,68.0 L375.6,68.1 L376.1,68.2 L376.6,68.4 L377.1,68.6 L377.6,68.8 L378.1,69.1 L378.6,69.4 L379.1,69.7 L379.6,70.0 L380.1,70.3 L380.6,70.7 L381.1,71.1 L381.6,71.6 L382.1,72.0 L382.6,72.5 L383.1,73.0 L383.6,73.5 L384.1,74.1 L384.6,74.7 L385.1,75.3 L385.6,75.9 L386.1,76.6 L386.6,77.3 L387.1,78.0 L387.6,78.8 L388.1,79.6 L388.6,80.5 L389.1,81.4 L389.6,82.3 L390.1,83.3 L390.6,84.3 L391.1,85.3 L391.6,86.4 L392.1,87.6 L392.6,88.7 L393.1,89.9 L393.6,91.1 L394.1,92.3 L394.6,93.6 L395.1,94.8 L395.6,96.0 L396.1,97.3 L396.6,98.6 L397.1,99.9 L397.6,101.3 L398.1,102.8 L398.6,104.4 L399.1,106.1 L399.6,107.9 L400.1,109.7 L400.6,111.6 L401.1,113.5 L401.6,115.5 L402.1,117.6 L402.6,119.6 L403.1,121.6 L403.6,123.7 L404.1,125.8 L404.6,127.8 L405.1,129.9 L405.6,131.9 L406.1,134.0 L406.6,136.0 L407.1,138.1 L407.6,140.1 L408.1,142.2 L408.6,144.2 L409.1,146.3 L409.6,148.4 L410.1,150.5 L410.6,152.7 L411.1,154.9 L411.6,157.1 L412.1,159.3 L412.6,161.6 L413.1,163.9 L413.6,166.2 L414.1,168.5 L414.6,170.8 L415.1,173.2 L415.6,175.6 L416.1,178.0 L416.6,180.4 L417.1,182.8 L417.6,185.2 L418.1,187.7 L418.6,190.2 L419.1,192.7 L419.6,195.1 L420.1,197.6 L420.6,200.0 L421.1,202.3 L421.6,204.6 L422.1,206.8 L422.6,208.9 L423.1,210.9 L423.6,212.8 L424.1,214.6 L424.6,216.3 L425.1,218.0 L425.6,219.6 L426.1,221.2 L426.6,222.7 L427.1,224.3 L427.6,225.8 L428.1,227.3 L428.6,228.8 L429.1,230.3 L429.6,231.7 L430.1,233.2 L430.6,234.6 L431.1,236.0 L431.6,237.3 L432.1,238.6 L432.6,239.9 L433.1,241.2 L433.6,242.4 L434.1,243.6 L434.6,244.7 L435.1,245.9 L435.6,247.0 L436.1,248.1 L436.6,249.2 L437.1,250.3 L437.6,251.5 L438.1,252.7 L438.6,253.9 L439.1,255.1 L439.6,256.3 L440.1,257.5 L440.6,258.6 L441.1,259.6 L441.6,260.5 L442.1,261.4 L442.6,262.1 L443.1,262.7 L443.6,263.3 L444.1,263.8 L444.6,264.3 L445.1,264.7 L445.6,265.1 L446.1,265.4 L446.6,265.7 L447.1,265.9 L447.6,266.1 L448.1,266.3 L448.6,266.5 L449.1,266.6 L449.6,266.7 L450.1,266.8 L450.6,266.8 L451.1,266.9 L451.6,266.9 L452.1,267.0 L452.6,267.0 L453.1,267.0 L453.6,267.1 L454.1,267.1 L454.6,267.1 L455.1,267.1 L455.6,267.2 L456.1,267.2 L456.6,267.2 L457.1,267.3 L457.6,267.3 L458.1,267.3 L458.6,267.3 L459.1,267.4 L459.6,267.4 L460.1,267.4 L460.6,267.5 L461.1,267.5 L461.6,267.5 L462.1,267.5 L462.6,267.6 L463.1,267.6 L463.6,267.6 L464.1,267.6 L464.6,267.7 L465.1,267.7 L465.6,267.7 L466.1,267.7 L466.6,267.7 L467.1,267.7 L467.6,267.8 L468.1,267.8 L468.6,267.8 L469.1,267.8 L469.6,267.8 L470.1,267.8 L470.6,267.8 L471.1,267.8 L471.6,267.8 L472.1,267.8 L472.6,267.8 L473.1,267.8 L473.6,267.8 L474.1,267.8 L474.6,267.9 L475.1,267.9 L475.6,267.9 L476.1,267.9 L476.6,267.9 L477.1,267.9 L477.6,267.9 L478.1,267.9 L478.6,267.9 L479.1,267.9 L479.6,267.9 L480.1,267.9 L480.6,267.9 L481.1,268.0 L481.6,268.0 L482.1,268.0 L482.6,268.0 L483.1,268.0 L483.6,268.0 L484.1,268.0 L484.6,268.0 L485.1,268.0 L485.6,268.0 L486.1,268.0 L486.6,268.0 L487.1,268.1 L487.6,268.1 L488.1,268.1 L488.6,268.1 L489.1,268.1 L489.6,268.1 L490.1,268.1 L490.6,268.1 L491.1,268.1 L491.6,268.1 L492.1,268.1 L492.6,268.1 L493.1,268.1 L493.6,268.2 L494.1,268.2 L494.6,268.2 L495.1,268.2 L495.6,268.2 L496.1,268.2 L496.6,268.2 L497.1,268.2 L497.6,268.2 L498.1,268.2 L498.6,268.2 L499.1,268.2 L499.6,268.2 L500.1,268.2 L500.6,268.2 L501.1,268.2 L501.6,268.2 L502.1,268.2 L502.6,268.2 L503.1,268.3 L503.6,268.3 L504.1,268.3 L504.6,268.3 L505.1,268.3 L505.6,268.3 L506.1,268.3 L506.6,268.3 L507.1,268.3 L507.6,268.3 L508.1,268.3 L508.6,268.3 L509.0,268.3" stroke="#ff0000"/>
<path d="M300.1,176.7 L300.6,175.9 L301.1,175.1 L301.6,174.4 L302.1,173.6 L302.6,172.8 L303.1,172.0 L303.6,171.3 L304.1,170.5 L304.6,169.7 L305.1,168.9 L305.6,168.2 L306.1,167.4 L306.6,166.6 L307.1,165.8 L307.6,165.0 L308.1,164.2 L308.6,163.4 L309.1,162.6 L309.6,161.8 L310.1,161.0 L310.6,160.1 L311.1,159.2 L311.6,158.3 L312.1,157.4 L312.6,156.4 L313.1,155.4 L313.6,154.3 L314.1,153.2 L314.6,152.1 L315.1,151.0 L315.6,149.9 L316.1,148.7 L316.6,147.6 L317.1,146.4 L317.6,145.2 L318.1,144.0 L318.6,142.8 L319.1,141.6 L319.6,140.5 L320.1,139.4 L320.6,138.3 L321.1,137.3 L321.6,136.4 L322.1,135.4 L322.6,134.5 L323.1,133.7 L323.6,132.8 L324.1,132.0 L324.6,131.3 L325.1,130.5 L325.6,129.7 L326.1,129.0 L326.6,128.3 L327.1,127.6 L327.6,126.9 L328.1,126.2 L328.6,125.5 L329.1,124.7 L329.6,124.0 L330.1,123.3 L330.6,122.6 L331.1,121.9 L331.6,121.2 L332.1,120.5 L332.6,119.7 L333.1,119.0 L333.6,118.3 L334.1,117.5 L334.6,116.8 L335.1,116.0 L335.6,115.3 L336.1,114.5 L336.6,113.8 L337.1,113.0 L337.6,112.3 L338.1,111.5 L338.6,110.8 L339.1,110.0 L339.6,109.3 L340.1,108.5 L340.6,107.8 L341.1,107.0 L341.6,106.3 L342.1,105.5 L342.6,104.8 L343.1,104.0 L343.6,103.2 L344.1,102.4 L344.6,101.7 L345.1,100.9 L345.6,100.0 L346.1,99.2 L346.6,98.3 L347.1,97.4 L347.6,96.5 L348.1,95.6 L348.6,94.7 L349.1,93.8 L349.6,92.9 L350.1,92.0 L350.6,91.1 L351.1,90.3 L351.6,89.5 L352.1,88.7 L352.6,87.9 L353.1,87.1 L353.6,86.4 L354.1,85.6 L354.6,84.9 L355.1,84.1 L355.6,83.4 L356.1,82.7 L356.6,82.0 L357.1,81.3 L357.6,80.7 L358.1,80.0 L358.6,79.4 L359.1,78.8 L359.6,78.2 L360.1,77.6 L360.6,77.1 L361.1,76.5 L361.6,76.0 L362.1,75.5 L362.6,75.0 L363.1,74.5 L363.6,74.1 L364.1,73.6 L364.6,73.2 L365.1,72.8 L365.6,72.5 L366.1,72.1 L366.6,71.8 L367.1,71.5 L367.6,71.2 L368.1,70.9 L368.6,70.7 L369.1,70.4 L369.6,70.2 L370.1,70.1 L370.6,69.9 L371.1,69.8 L371.6,69.7 L372.1,69.6 L372.6,69.6 L373.1,69.6 L373.6,69.6 L374.1,69.6 L374.6,69.6 L375.1,69.7 L375.6,69.8 L376.1,69.9 L376.6,70.0 L377.1,70.2 L377.6,70.3 L378.1,70.5 L378.6,70.8 L379.1,71.0 L379.6,71.3 L380.1,71.6 L380.6,71.9 L381.1,72.2 L381.6,72.6 L382.1,73.0 L382.6,73.4 L383.1,73.8 L383.6,74.3 L384.1,74.8 L384.6,75.3 L385.1,75.8 L385.6,76.4 L386.1,77.0 L386.6,77.6 L387.1,78.2 L387.6,78.9 L388.1,79.6 L388.6,80.4 L389.1,81.2 L389.6,82.0 L390.1,82.8 L390.6,83.7 L391.1,84.6 L391.6,85.5 L392.1,86.5 L392.6,87.5 L393.1,88.5 L393.6,89.6 L394.1,90.6 L394.6,91.7 L395.1,92.7 L395.6,93.8 L396.1,94.9 L396.6,96.1 L397.1,97.3 L397.6,98.6 L398.1,100.0 L398.6,101.5 L399.1,103.2 L399.6,104.9 L400.1,106.7 L400.6,108.6 L401.1,110.6 L401.6,112.6 L402.1,114.6 L402.6,116.7 L403.1,118.8 L403.6,120.9 L404.1,123.0 L404.6,125.1 L405.1,127.3 L405.6,129.4 L406.1,131.5 L406.6,133.6 L407.1,135.7 L407.6,137.8 L408.1,140.0 L408.6,142.1 L409.1,144.3 L409.6,146.5 L410.1,148.7 L410.6,150.9 L411.1,153.2 L411.6,155.5 L412.1,157.8 L412.6,160.2 L413.1,162.5 L413.6,164.9 L414.1,167.3 L414.6,169.8 L415.1,172.2 L415.6,174.6 L416.1,177.1 L416.6,179.5 L417.1,182.0 L417.6,184.5 L418.1,187.0 L418.6,189.6 L419.1,192.1 L419.6,194.6 L420.1,197.1 L420.6,199.5 L421.1,201.9 L421.6,204.2 L422.1,206.4 L422.6,208.5 L423.1,210.5 L423.6,212.4 L424.1,214.2 L424.6,216.0 L425.1,217.7 L425.6,219.3 L426.1,220.9 L426.6,222.5 L427.1,224.1 L427.6,225.6 L428.1,227.1 L428.6,228.6 L429.1,230.1 L429.6,231.6 L430.1,233.1 L430.6,234.5 L431.1,235.9 L431.6,237.2 L432.1,238.6 L432.6,239.9 L433.1,241.1 L433.6,242.3 L434.1,243.5 L434.6,244.7 L435.1,245.8 L435.6,247.0 L436.1,248.1 L436.6,249.2 L437.1,250.3 L437.6,251.5 L438.1,252.7 L438.6,253.9 L439.1,255.1 L439.6,256.3 L440.1,257.5 L440.6,258.6 L441.1,259.6 L441.6,260.5 L442.1,261.4 L442.6,262.1 L443.1,262.7 L443.6,263.3 L444.1,263.8 L444.6,264.3 L445.1,264.7 L445.6,265.1 L446.1,265.4 L446.6,265.7 L447.1,265.9 L447.6,266.1 L448.1,266.3 L448.6,266.5 L449.1,266.6 L449.6,266.7 L450.1,266.8 L450.6,266.8 L451.1,266.9 L451.6,266.9 L452.1,267.0 L452.6,267.0 L453.1,267.0 L453.6,267.1 L454.1,267.1 L454.6,267.1 L455.1,267.1 L455.6,267.2 L456.1,267.2 L456.6,267.2 L457.1,267.3 L457.6,267.3 L458.1,267.3 L458.6,267.3 L459.1,267.4 L459.6,267.4 L460.1,267.4 L460.6,267.5 L461.1,267.5 L461.6,267.5 L462.1,267.5 L462.6,267.6 L463.1,267.6 L463.6,267.6 L464.1,267.6 L464.6,267.7 L465.1,267.7 L465.6,267.7 L466.1,267.7 L466.6,267.7 L467.1,267.7 L467.6,267.8 L468.1,267.8 L468.6,267.8 L469.1,267.8 L469.6,267.8 L470.1,267.8 L470.6,267.8 L471.1,267.8 L471.6,267.8 L472.1,267.8 L472.6,267.8 L473.1,267.8 L473.6,267.8 L474.1,267.8 L474.6,267.9 L475.1,267.9 L475.6,267.9 L476.1,267.9 L476.6,267.9 L477.1,267.9 L477.6,267.9 L478.1,267.9 L478.6,267.9 L479.1,267.9 L479.6,267.9 L480.1,267.9 L480.6,267.9 L481.1,268.0 L481.6,268.0 L482.1,268.0 L482.6,268.0 L483.1,268.0 L483.6,268.0 L484.1,268.0 L484.6,268.0 L485.1,268.0 L485.6,268.0 L486.1,268.0 L486.6,268.0 L487.1,268.1 L487.6,268.1 L488.1,268.1 L488.6,268.1 L489.1,268.1 L489.6,268.1 L490.1,268.1 L490.6,268.1 L491.1,268.1 L491.6,268.1 L492.1,268.1 L492.6,268.1 L493.1,268.1 L493.6,268.2 L494.1,268.2 L494.6,268.2 L495.1,268.2 L495.6,268.2 L496.1,268.2 L496.6,268.2 L497.1,268.2 L497.6,268.2 L498.1,268.2 L498.6,268.2 L499.1,268.2 L499.6,268.2 L500.1,268.2 L500.6,268.2 L501.1,268.2 L501.6,268.2 L502.1,268.2 L502.6,268.2 L503.1,268.3 L503.6,268.3 L504.1,268.3 L504.6,268.3 L505.1,268.3 L505.6,268.3 L506.1,268.3 L506.6,268.3 L507.1,268.3 L507.6,268.3 L508.1,268.3 L508.6,268.3 L509.0,268.3" stroke="#000000"/>
<path d="M300.1,177.7 L300.6,176.9 L301.1,176.1 L301.6,175.3 L302.1,174.6 L302.6,173.8 L303.1,173.0 L303.6,172.2 L304.1,171.4 L304.6,170.6 L305.1,169.8 L305.6,169.0 L306.1,168.2 L306.6,167.4 L307.1,166.6 L307.6,165.8 L308.1,164.9 L308.6,164.1 L309.1,163.3 L309.6,162.4 L310.1,161.5 L310.6,160.7 L311.1,159.8 L311.6,158.8 L312.1,157.8 L312.6,156.8 L313.1,155.8 L313.6,154.7 L314.1,153.6 L314.6,152.5 L315.1,151.3 L315.6,150.2 L316.1,149.0 L316.6,147.8 L317.1,146.6 L317.6,145.4 L318.1,144.2 L318.6,143.0 L319.1,141.9 L319.6,140.7 L320.1,139.6 L320.6,138.6 L321.1,137.6 L321.6,136.6 L322.1,135.7 L322.6,134.8 L323.1,134.0 L323.6,133.2 L324.1,132.4 L324.6,131.7 L325.1,130.9 L325.6,130.2 L326.1,129.5 L326.6,128.9 L327.1,128.2 L327.6,127.5 L328.1,126.9 L328.6,126.2 L329.1,125.5 L329.6,124.9 L330.1,124.2 L330.6,123.5 L331.1,122.8 L331.6,122.2 L332.1,121.5 L332.6,120.8 L333.1,120.1 L333.6,119.3 L334.1,118.6 L334.6,117.9 L335.1,117.1 L335.6,116.4 L336.1,115.6 L336.6,114.9 L337.1,114.1 L337.6,113.4 L338.1,112.6 L338.6,111.9 L339.1,111.1 L339.6,110.4 L340.1,109.6 L340.6,108.9 L341.1,108.1 L341.6,107.4 L342.1,106.6 L342.6,105.8 L343.1,105.1 L343.6,104.3 L344.1,103.5 L344.6,102.7 L345.1,101.9 L345.6,101.1 L346.1,100.3 L346.6,99.4 L347.1,98.5 L347.6,97.6 L348.1,96.7 L348.6,95.7 L349.1,94.8 L349.6,93.9 L350.1,93.0 L350.6,92.2 L351.1,91.4 L351.6,90.5 L352.1,89.7 L352.6,88.9 L353.1,88.2 L353.6,87.4 L354.1,86.6 L354.6,85.9 L355.1,85.2 L355.6,84.4 L356.1,83.7 L356.6,83.1 L357.1,82.4 L357.6,81.7 L358.1,81.1 L358.6,80.4 L359.1,79.8 L359.6,79.2 L360.1,78.7 L360.6,78.1 L361.1,77.6 L361.6,77.0 L362.1,76.5 L362.6,76.0 L363.1,75.5 L363.6,75.1 L364.1,74.7 L364.6,74.3 L365.1,73.9 L365.6,73.5 L366.1,73.2 L366.6,72.8 L367.1,72.5 L367.6,72.2 L368.1,72.0 L368.6,71.7 L369.1,71.5 L369.6,71.3 L370.1,71.2 L370.6,71.0 L371.1,70.9 L371.6,70.8 L372.1,70.7 L372.6,70.7 L373.1,70.7 L373.6,70.7 L374.1,70.7 L374.6,70.8 L375.1,70.8 L375.6,70.9 L376.1,71.1 L376.6,71.2 L377.1,71.4 L377.6,71.6 L378.1,71.8 L378.6,72.0 L379.1,72.3 L379.6,72.6 L380.1,72.9 L380.6,73.2 L381.1,73.6 L381.6,74.0 L382.1,74.4 L382.6,74.8 L383.1,75.3 L383.6,75.7 L384.1,76.2 L384.6,76.8 L385.1,77.3 L385.6,77.9 L386.1,78.5 L386.6,79.2 L387.1,79.8 L387.6,80.6 L388.1,81.3 L388.6,82.1 L389.1,82.9 L389.6,83.7 L390.1,84.6 L390.6,85.5 L391.1,86.4 L391.6,87.4 L392.1,88.3 L392.6,89.4 L393.1,90.4 L393.6,91.4 L394.1,92.5 L394.6,93.6 L395.1,94.7 L395.6,95.8 L396.1,96.9 L396.6,98.1 L397.1,99.3 L397.6,100.6 L398.1,102.0 L398.6,103.5 L399.1,105.2 L399.6,106.9 L400.1,108.7 L400.6,110.6 L401.1,112.6 L401.6,114.5 L402.1,116.6 L402.6,118.6 L403.1,120.7 L403.6,122.7 L404.1,124.8 L404.6,126.9 L405.1,128.9 L405.6,131.0 L406.1,133.0 L406.6,135.1 L407.1,137.1 L407.6,139.2 L408.1,141.2 L408.6,143.3 L409.1,145.4 L409.6,147.5 L410.1,149.7 L410.6,151.8 L411.1,154.0 L411.6,156.2 L412.1,158.5 L412.6,160.8 L413.1,163.1 L413.6,165.4 L414.1,167.8 L414.6,170.1 L415.1,172.5 L415.6,174.9 L416.1,177.3 L416.6,179.7 L417.1,182.2 L417.6,184.6 L418.1,187.1 L418.6,189.6 L419.1,192.1 L419.6,194.6 L420.1,197.1 L420.6,199.5 L421.1,201.9 L421.6,204.2 L422.1,206.4 L422.6,208.5 L423.1,210.5 L423.6,212.4 L424.1,214.2 L424.6,216.0 L425.1,217.7 L425.6,219.3 L426.1,220.9 L426.6,222.5 L427.1,224.1 L427.6,225.6 L428.1,227.1 L428.6,228.6 L429.1,230.1 L429.6,231.6 L430.1,233.1 L430.6,234.5 L431.1,235.9 L431.6,237.2 L432.1,238.6 L432.6,239.9 L433.1,241.1 L433.6,242.3 L434.1,243.5 L434.6,244.7 L435.1,245.8 L435.6,247.0 L436.1,248.1 L436.6,249.2 L437.1,250.3 L437.6,251.5 L438.1,252.7 L438.6,253.9 L439.1,255.1 L439.6,256.3 L440.1,257.5 L440.6,258.6 L441.1,259.6 L441.6,260.5 L442.1,261.4 L442.6,262.1 L443.1,262.7 L443.6,263.3 L444.1,263.8 L444.6,264.3 L445.1,264.7 L445.6,265.1 L446.1,265.4 L446.6,265.7 L447.1,265.9 L447.6,266.1 L448.1,266.3 L448.6,266.5 L449.1,266.6 L449.6,266.7 L450.1,266.8 L450.6,266.8 L451.1,266.9 L451.6,266.9 L452.1,267.0 L452.6,267.0 L453.1,267.0 L453.6,267.1 L454.1,267.1 L454.6,267.1 L455.1,267.1 L455.6,267.2 L456.1,267.2 L456.6,267.2 L457.1,267.3 L457.6,267.3 L458.1,267.3 L458.6,267.3 L459.1,267.4 L459.6,267.4 L460.1,267.4 L460.6,267.5 L461.1,267.5 L461.6,267.5 L462.1,267.5 L462.6,267.6 L463.1,267.6 L463.6,267.6 L464.1,267.6 L464.6,267.7 L465.1,267.7 L465.6,267.7 L466.1,267.7 L466.6,267.7 L467.1,267.7 L467.6,267.8 L468.1,267.8 L468.6,267.8 L469.1,267.8 L469.6,267.8 L470.1,267.8 L470.6,267.8 L471.1,267.8 L471.6,267.8 L472.1,267.8 L472.6,267.8 L473.1,267.8 L473.6,267.8 L474.1,267.8 L474.6,267.9 L475.1,267.9 L475.6,267.9 L476.1,267.9 L476.6,267.9 L477.1,267.9 L477.6,267.9 L478.1,267.9 L478.6,267.9 L479.1,267.9 L479.6,267.9 L480.1,267.9 L480.6,267.9 L481.1,268.0 L481.6,268.0 L482.1,268.0 L482.6,268.0 L483.1,268.0 L483.6,268.0 L484.1,268.0 L484.6,268.0 L485.1,268.0 L485.6,268.0 L486.1,268.0 L486.6,268.0 L487.1,268.1 L487.6,268.1 L488.1,268.1 L488.6,268.1 L489.1,268.1 L489.6,268.1 L490.1,268.1 L490.6,268.1 L491.1,268.1 L491.6,268.1 L492.1,268.1 L492.6,268.1 L493.1,268.1 L493.6,268.2 L494.1,268.2 L494.6,268.2 L495.1,268.2 L495.6,268.2 L496.1,268.2 L496.6,268.2 L497.1,268.2 L497.6,268.2 L498.1,268.2 L498.6,268.2 L499.1,268.2 L499.6,268.2 L500.1,268.2 L500.6,268.2 L501.1,268.2 L501.6,268.2 L502.1,268.2 L502.6,268.2 L503.1,268.3 L503.6,268.3 L504.1,268.3 L504.6,268.3 L505.1,268.3 L505.6,268.3 L506.1,268.3 L506.6,268.3 L507.1,268.3 L507.6,268.3 L508.1,268.3 L508.6,268.3 L509.0,268.3" stroke="#008000"/>
<path d="M300.1,178.7 L300.6,177.9 L301.1,177.1 L301.6,176.3 L302.1,175.5 L302.6,174.7 L303.1,173.9 L303.6,173.1 L304.1,172.3 L304.6,171.5 L305.1,170.7 L305.6,169.8 L306.1,169.0 L306.6,168.2 L307.1,167.3 L307.6,166.5 L308.1,165.6 L308.6,164.8 L309.1,163.9 L309.6,163.0 L310.1,162.1 L310.6,161.2 L311.1,160.3 L311.6,159.3 L312.1,158.3 L312.6,157.3 L313.1,156.2 L313.6,155.1 L314.1,154.0 L314.6,152.8 L315.1,151.6 L315.6,150.5 L316.1,149.3 L316.6,148.1 L317.1,146.9 L317.6,145.7 L318.1,144.4 L318.6,143.2 L319.1,142.1 L319.6,140.9 L320.1,139.8 L320.6,138.8 L321.1,137.8 L321.6,136.9 L322.1,136.0 L322.6,135.1 L323.1,134.3 L323.6,133.5 L324.1,132.8 L324.6,132.1 L325.1,131.4 L325.6,130.8 L326.1,130.1 L326.6,129.5 L327.1,128.9 L327.6,128.2 L328.1,127.6 L328.6,127.0 L329.1,126.4 L329.6,125.8 L330.1,125.1 L330.6,124.5 L331.1,123.9 L331.6,123.2 L332.1,122.6 L332.6,121.9 L333.1,121.2 L333.6,120.5 L334.1,119.8 L334.6,119.1 L335.1,118.3 L335.6,117.6 L336.1,116.8 L336.6,116.1 L337.1,115.3 L337.6,114.6 L338.1,113.8 L338.6,113.1 L339.1,112.3 L339.6,111.6 L340.1,110.8 L340.6,110.1 L341.1,109.3 L341.6,108.6 L342.1,107.8 L342.6,107.1 L343.1,106.3 L343.6,105.5 L344.1,104.8 L344.6,104.0 L345.1,103.2 L345.6,102.3 L346.1,101.5 L346.6,100.6 L347.1,99.7 L347.6,98.8 L348.1,97.9 L348.6,97.0 L349.1,96.1 L349.6,95.2 L350.1,94.3 L350.6,93.5 L351.1,92.6 L351.6,91.8 L352.1,91.0 L352.6,90.2 L353.1,89.5 L353.6,88.7 L354.1,87.9 L354.6,87.2 L355.1,86.5 L355.6,85.8 L356.1,85.1 L356.6,84.4 L357.1,83.7 L357.6,83.0 L358.1,82.4 L358.6,81.8 L359.1,81.2 L359.6,80.6 L360.1,80.0 L360.6,79.4 L361.1,78.9 L361.6,78.4 L362.1,77.9 L362.6,77.4 L363.1,76.9 L363.6,76.5 L364.1,76.0 L364.6,75.6 L365.1,75.2 L365.6,74.9 L366.1,74.5 L366.6,74.2 L367.1,73.9 L367.6,73.6 L368.1,73.4 L368.6,73.1 L369.1,72.9 L369.6,72.7 L370.1,72.5 L370.6,72.4 L371.1,72.3 L371.6,72.2 L372.1,72.1 L372.6,72.1 L373.1,72.1 L373.6,72.1 L374.1,72.1 L374.6,72.2 L375.1,72.3 L375.6,72.4 L376.1,72.5 L376.6,72.7 L377.1,72.9 L377.6,73.1 L378.1,73.3 L378.6,73.6 L379.1,73.9 L379.6,74.2 L380.1,74.6 L380.6,74.9 L381.1,75.3 L381.6,75.8 L382.1,76.2 L382.6,76.7 L383.1,77.2 L383.6,77.7 L384.1,78.2 L384.6,78.8 L385.1,79.4 L385.6,80.0 L386.1,80.7 L386.6,81.4 L387.1,82.1 L387.6,82.9 L388.1,83.6 L388.6,84.5 L389.1,85.3 L389.6,86.2 L390.1,87.1 L390.6,88.0 L391.1,89.0 L391.6,90.0 L392.1,91.0 L392.6,92.1 L393.1,93.1 L393.6,94.2 L394.1,95.3 L394.6,96.4 L395.1,97.5 L395.6,98.6 L396.1,99.8 L396.6,101.0 L397.1,102.2 L397.6,103.6 L398.1,105.0 L398.6,106.5 L399.1,108.2 L399.6,109.9 L400.1,111.7 L400.6,113.6 L401.1,115.5 L401.6,117.4 L402.1,119.4 L402.6,121.4 L403.1,123.4 L403.6,125.4 L404.1,127.4 L404.6,129.4 L405.1,131.3 L405.6,133.3 L406.1,135.2 L406.6,137.2 L407.1,139.1 L407.6,141.0 L408.1,142.9 L408.6,144.9 L409.1,146.9 L409.6,148.8 L410.1,150.8 L410.6,152.9 L411.1,154.9 L411.6,157.0 L412.1,159.1 L412.6,161.3 L413.1,163.5 L413.6,165.7 L414.1,167.9 L414.6,170.2 L415.1,172.5 L415.6,174.8 L416.1,177.1 L416.6,179.4 L417.1,181.8 L417.6,184.2 L418.1,186.6 L418.6,189.1 L419.1,191.6 L419.6,194.0 L420.1,196.5 L420.6,198.9 L421.1,201.3 L421.6,203.6 L422.1,205.8 L422.6,207.9 L423.1,209.9 L423.6,211.8 L424.1,213.7 L424.6,215.4 L425.1,217.1 L425.6,218.7 L426.1,220.4 L426.6,221.9 L427.1,223.5 L427.6,225.0 L428.1,226.6 L428.6,228.1 L429.1,229.6 L429.6,231.1 L430.1,232.6 L430.6,234.0 L431.1,235.4 L431.6,236.8 L432.1,238.1 L432.6,239.4 L433.1,240.7 L433.6,241.9 L434.1,243.1 L434.6,244.3 L435.1,245.5 L435.6,246.6 L436.1,247.8 L436.6,248.9 L437.1,250.0 L437.6,251.2 L438.1,252.4 L438.6,253.6 L439.1,254.9 L439.6,256.1 L440.1,257.3 L440.6,258.4 L441.1,259.4 L441.6,260.3 L442.1,261.2 L442.6,261.9 L443.1,262.6 L443.6,263.2 L444.1,263.7 L444.6,264.2 L445.1,264.6 L445.6,265.0 L446.1,265.4 L446.6,265.7 L447.1,265.9 L447.6,266.1 L448.1,266.3 L448.6,266.5 L449.1,266.6 L449.6,266.7 L450.1,266.8 L450.6,266.8 L451.1,266.9 L451.6,266.9 L452.1,267.0 L452.6,267.0 L453.1,267.0 L453.6,267.1 L454.1,267.1 L454.6,267.1 L455.1,267.1 L455.6,267.2 L456.1,267.2 L456.6,267.2 L457.1,267.3 L457.6,267.3 L458.1,267.3 L458.6,267.3 L459.1,267.4 L459.6,267.4 L460.1,267.4 L460.6,267.5 L461.1,267.5 L461.6,267.5 L462.1,267.5 L462.6,267.6 L463.1,267.6 L463.6,267.6 L464.1,267.6 L464.6,267.7 L465.1,267.7 L465.6,267.7 L466.1,267.7 L466.6,267.7 L467.1,267.7 L467.6,267.8 L468.1,267.8 L468.6,267.8 L469.1,267.8 L469.6,267.8 L470.1,267.8 L470.6,267.8 L471.1,267.8 L471.6,267.8 L472.1,267.8 L472.6,267.8 L473.1,267.8 L473.6,267.8 L474.1,267.8 L474.6,267.9 L475.1,267.9 L475.6,267.9 L476.1,267.9 L476.6,267.9 L477.1,267.9 L477.6,267.9 L478.1,267.9 L478.6,267.9 L479.1,267.9 L479.6,267.9 L480.1,267.9 L480.6,267.9 L481.1,268.0 L481.6,268.0 L482.1,268.0 L482.6,268.0 L483.1,268.0 L483.6,268.0 L484.1,268.0 L484.6,268.0 L485.1,268.0 L485.6,268.0 L486.1,268.0 L486.6,268.0 L487.1,268.1 L487.6,268.1 L488.1,268.1 L488.6,268.1 L489.1,268.1 L489.6,268.1 L490.1,268.1 L490.6,268.1 L491.1,268.1 L491.6,268.1 L492.1,268.1 L492.6,268.1 L493.1,268.1 L493.6,268.2 L494.1,268.2 L494.6,268.2 L495.1,268.2 L495.6,268.2 L496.1,268.2 L496.6,268.2 L497.1,268.2 L497.6,268.2 L498.1,268.2 L498.6,268.2 L499.1,268.2 L499.6,268.2 L500.1,268.2 L500.6,268.2 L501.1,268.2 L501.6,268.2 L502.1,268.2 L502.6,268.2 L503.1,268.3 L503.6,268.3 L504.1,268.3 L504.6,268.3 L505.1,268.3 L505.6,268.3 L506.1,268.3 L506.6,268.3 L507.1,268.3 L507.6,268.3 L508.1,268.3 L508.6,268.3 L509.0,268.3" stroke="#0000ff"/>
<path d="M300.1,175.7 L300.6,174.9 L301.1,174.1 L301.6,173.4 L302.1,172.6 L302.6,171.8 L303.1,171.1 L303.6,170.3 L304.1,169.5 L304.6,168.8 L305.1,168.0 L305.6,167.3 L306.1,166.5 L306.6,165.7 L307.1,165.0 L307.6,164.2 L308.1,163.4 L308.6,162.6 L309.1,161.8 L309.6,161.0 L310.1,160.2 L310.6,159.4 L311.1,158.5 L311.6,157.7 L312.1,156.7 L312.6,155.8 L313.1,154.8 L313.6,153.7 L314.1,152.7 L314.6,151.6 L315.1,150.5 L315.6,149.4 L316.1,148.3 L316.6,147.2 L317.1,146.0 L317.6,144.9 L318.1,143.7 L318.6,142.5 L319.1,141.4 L319.6,140.3 L320.1,139.2 L320.6,138.2 L321.1,137.2 L321.6,136.2 L322.1,135.3 L322.6,134.4 L323.1,133.5 L323.6,132.7 L324.1,131.9 L324.6,131.1 L325.1,130.3 L325.6,129.5 L326.1,128.8 L326.6,128.0 L327.1,127.3 L327.6,126.6 L328.1,125.8 L328.6,125.1 L329.1,124.4 L329.6,123.6 L330.1,122.9 L330.6,122.2 L331.1,121.4 L331.6,120.7 L332.1,119.9 L332.6,119.2 L333.1,118.4 L333.6,117.7 L334.1,116.9 L334.6,116.2 L335.1,115.4 L335.6,114.7 L336.1,113.9 L336.6,113.2 L337.1,112.4 L337.6,111.7 L338.1,110.9 L338.6,110.2 L339.1,109.4 L339.6,108.7 L340.1,107.9 L340.6,107.2 L341.1,106.4 L341.6,105.7 L342.1,104.9 L342.6,104.2 L343.1,103.4 L343.6,102.6 L344.1,101.9 L344.6,101.1 L345.1,100.3 L345.6,99.4 L346.1,98.6 L346.6,97.7 L347.1,96.8 L347.6,95.9 L348.1,95.0 L348.6,94.1 L349.1,93.2 L349.6,92.3 L350.1,91.4 L350.6,90.6 L351.1,89.7 L351.6,88.9 L352.1,88.1 L352.6,87.3 L353.1,86.5 L353.6,85.8 L354.1,85.0 L354.6,84.3 L355.1,83.5 L355.6,82.8 L356.1,82.1 L356.6,81.4 L357.1,80.7 L357.6,80.1 L358.1,79.4 L358.6,78.8 L359.1,78.2 L359.6,77.6 L360.1,77.0 L360.6,76.4 L361.1,75.9 L361.6,75.3 L362.1,74.8 L362.6,74.3 L363.1,73.8 L363.6,73.4 L364.1,72.9 L364.6,72.5 L365.1,72.1 L365.6,71.7 L366.1,71.4 L366.6,71.0 L367.1,70.7 L367.6,70.4 L368.1,70.1 L368.6,69.9 L369.1,69.7 L369.6,69.4 L370.1,69.3 L370.6,69.1 L371.1,69.0 L371.6,68.8 L372.1,68.8 L372.6,68.7 L373.1,68.6 L373.6,68.6 L374.1,68.6 L374.6,68.6 L375.1,68.7 L375.6,68.8 L376.1,68.9 L376.6,69.0 L377.1,69.1 L377.6,69.2 L378.1,69.4 L378.6,69.6 L379.1,69.8 L379.6,70.1 L380.1,70.3 L380.6,70.6 L381.1,70.9 L381.6,71.3 L382.1,71.6 L382.6,72.0 L383.1,72.4 L383.6,72.9 L384.1,73.3 L384.6,73.8 L385.1,74.3 L385.6,74.8 L386.1,75.4 L386.6,76.0 L387.1,76.6 L387.6,77.3 L388.1,78.0 L388.6,78.7 L389.1,79.5 L389.6,80.2 L390.1,81.1 L390.6,81.9 L391.1,82.8 L391.6,83.7 L392.1,84.7 L392.6,85.7 L393.1,86.7 L393.6,87.7 L394.1,88.7 L394.6,89.8 L395.1,90.8 L395.6,91.9 L396.1,93.0 L396.6,94.1 L397.1,95.3 L397.6,96.6 L398.1,98.0 L398.6,99.6 L399.1,101.2 L399.6,102.9 L400.1,104.7 L400.6,106.6 L401.1,108.6 L401.6,110.6 L402.1,112.7 L402.6,114.7 L403.1,116.8 L403.6,119.0 L404.1,121.1 L404.6,123.2 L405.1,125.3 L405.6,127.5 L406.1,129.6 L406.6,131.7 L407.1,133.9 L407.6,136.0 L408.1,138.2 L408.6,140.3 L409.1,142.5 L409.6,144.7 L410.1,147.0 L410.6,149.2 L411.1,151.5 L411.6,153.9 L412.1,156.2 L412.6,158.6 L413.1,161.0 L413.6,163.4 L414.1,165.8 L414.6,168.3 L415.1,170.8 L415.6,173.2 L416.1,175.7 L416.6,178.2 L417.1,180.7 L417.6,183.2 L418.1,185.8 L418.6,188.3 L419.1,190.8 L419.6,193.4 L420.1,195.9 L420.6,198.3 L421.1,200.7 L421.6,203.0 L422.1,205.3 L422.6,207.4 L423.1,209.4 L423.6,211.3 L424.1,213.2 L424.6,214.9 L425.1,216.6 L425.6,218.3 L426.1,219.9 L426.6,221.5 L427.1,223.1 L427.6,224.6 L428.1,226.2 L428.6,227.7 L429.1,229.2 L429.6,230.7 L430.1,232.2 L430.6,233.6 L431.1,235.0 L431.6,236.4 L432.1,237.7 L432.6,239.1 L433.1,240.4 L433.6,241.6 L434.1,242.8 L434.6,244.0 L435.1,245.2 L435.6,246.4 L436.1,247.5 L436.6,248.7 L437.1,249.8 L437.6,251.0 L438.1,252.2 L438.6,253.4 L439.1,254.6 L439.6,255.8 L440.1,257.0 L440.6,258.1 L441.1,259.1 L441.6,260.0 L442.1,260.9 L442.6,261.6 L443.1,262.3 L443.6,262.9 L444.1,263.5 L444.6,264.0 L445.1,264.4 L445.6,264.8 L446.1,265.2 L446.6,265.5 L447.1,265.7 L447.6,266.0 L448.1,266.1 L448.6,266.3 L449.1,266.5 L449.6,266.6 L450.1,266.7 L450.6,266.8 L451.1,266.8 L451.6,266.9 L452.1,267.0 L452.6,267.0 L453.1,267.0 L453.6,267.1 L454.1,267.1 L454.6,267.1 L455.1,267.2 L455.6,267.2 L456.1,267.2 L456.6,267.3 L457.1,267.3 L457.6,267.3 L458.1,267.4 L458.6,267.4 L459.1,267.4 L459.6,267.4 L460.1,267.5 L460.6,267.5 L461.1,267.5 L461.6,267.5 L462.1,267.6 L462.6,267.6 L463.1,267.6 L463.6,267.6 L464.1,267.6 L464.6,267.7 L465.1,267.7 L465.6,267.7 L466.1,267.7 L466.6,267.7 L467.1,267.7 L467.6,267.8 L468.1,267.8 L468.6,267.8 L469.1,267.8 L469.6,267.8 L470.1,267.8 L470.6,267.8 L471.1,267.8 L471.6,267.8 L472.1,267.8 L472.6,267.8 L473.1,267.8 L473.6,267.8 L474.1,267.8 L474.6,267.9 L475.1,267.9 L475.6,267.9 L476.1,267.9 L476.6,267.9 L477.1,267.9 L477.6,267.9 L478.1,267.9 L478.6,267.9 L479.1,267.9 L479.6,267.9 L480.1,267.9 L480.6,267.9 L481.1,268.0 L481.6,268.0 L482.1,268.0 L482.6,268.0 L483.1,268.0 L483.6,268.0 L484.1,268.0 L484.6,268.0 L485.1,268.0 L485.6,268.0 L486.1,268.0 L486.6,268.0 L487.1,268.1 L487.6,268.1 L488.1,268.1 L488.6,268.1 L489.1,268.1 L489.6,268.1 L490.1,268.1 L490.6,268.1 L491.1,268.1 L491.6,268.1 L492.1,268.1 L492.6,268.1 L493.1,268.1 L493.6,268.2 L494.1,268.2 L494.6,268.2 L495.1,268.2 L495.6,268.2 L496.1,268.2 L496.6,268.2 L497.1,268.2 L497.6,268.2 L498.1,268.2 L498.6,268.2 L499.1,268.2 L499.6,268.2 L500.1,268.2 L500.6,268.2 L501.1,268.2 L501.6,268.2 L502.1,268.2 L502.6,268.2 L503.1,268.3 L503.6,268.3 L504.1,268.3 L504.6,268.3 L505.1,268.3 L505.6,268.3 L506.1,268.3 L506.6,268.3 L507.1,268.3 L507.6,268.3 L508.1,268.3 L508.6,268.3 L509.0,268.3" stroke="#008080"/>
<path d="M300.1,177.2 L300.6,176.4 L301.1,175.6 L301.6,174.9 L302.1,174.1 L302.6,173.3 L303.1,172.6 L303.6,171.8 L304.1,171.0 L304.6,170.2 L305.1,169.5 L305.6,168.7 L306.1,167.9 L306.6,167.1 L307.1,166.3 L307.6,165.6 L308.1,164.8 L308.6,164.0 L309.1,163.2 L309.6,162.3 L310.1,161.5 L310.6,160.6 L311.1,159.8 L311.6,158.9 L312.1,157.9 L312.6,156.9 L313.1,155.9 L313.6,154.9 L314.1,153.8 L314.6,152.7 L315.1,151.6 L315.6,150.4 L316.1,149.3 L316.6,148.1 L317.1,147.0 L317.6,145.8 L318.1,144.6 L318.6,143.4 L319.1,142.2 L319.6,141.1 L320.1,140.0 L320.6,139.0 L321.1,138.0 L321.6,137.1 L322.1,136.3 L322.6,135.5 L323.1,134.7 L323.6,134.0 L324.1,133.3 L324.6,132.7 L325.1,132.0 L325.6,131.5 L326.1,130.9 L326.6,130.3 L327.1,129.8 L327.6,129.2 L328.1,128.7 L328.6,128.1 L329.1,127.6 L329.6,127.0 L330.1,126.5 L330.6,125.9 L331.1,125.3 L331.6,124.7 L332.1,124.1 L332.6,123.5 L333.1,122.8 L333.6,122.1 L334.1,121.4 L334.6,120.7 L335.1,120.0 L335.6,119.3 L336.1,118.5 L336.6,117.8 L337.1,117.0 L337.6,116.3 L338.1,115.6 L338.6,114.8 L339.1,114.1 L339.6,113.3 L340.1,112.6 L340.6,111.9 L341.1,111.1 L341.6,110.4 L342.1,109.6 L342.6,108.9 L343.1,108.1 L343.6,107.4 L344.1,106.6 L344.6,105.8 L345.1,105.0 L345.6,104.2 L346.1,103.4 L346.6,102.6 L347.1,101.7 L347.6,100.8 L348.1,99.9 L348.6,99.0 L349.1,98.1 L349.6,97.2 L350.1,96.4 L350.6,95.5 L351.1,94.7 L351.6,93.9 L352.1,93.1 L352.6,92.4 L353.1,91.6 L353.6,90.9 L354.1,90.2 L354.6,89.4 L355.1,88.7 L355.6,88.0 L356.1,87.3 L356.6,86.7 L357.1,86.0 L357.6,85.4 L358.1,84.8 L358.6,84.2 L359.1,83.6 L359.6,83.0 L360.1,82.4 L360.6,81.9 L361.1,81.4 L361.6,80.9 L362.1,80.4 L362.6,79.9 L363.1,79.4 L363.6,79.0 L364.1,78.6 L364.6,78.2 L365.1,77.8 L365.6,77.5 L366.1,77.2 L366.6,76.8 L367.1,76.5 L367.6,76.3 L368.1,76.0 L368.6,75.8 L369.1,75.6 L369.6,75.4 L370.1,75.2 L370.6,75.1 L371.1,75.0 L371.6,74.9 L372.1,74.8 L372.6,74.8 L373.1,74.8 L373.6,74.8 L374.1,74.8 L374.6,74.9 L375.1,74.9 L375.6,75.1 L376.1,75.2 L376.6,75.3 L377.1,75.5 L377.6,75.7 L378.1,75.9 L378.6,76.2 L379.1,76.5 L379.6,76.8 L380.1,77.1 L380.6,77.5 L381.1,77.8 L381.6,78.2 L382.1,78.7 L382.6,79.1 L383.1,79.6 L383.6,80.1 L384.1,80.6 L384.6,81.2 L385.1,81.8 L385.6,82.4 L386.1,83.0 L386.6,83.7 L387.1,84.4 L387.6,85.1 L388.1,85.9 L388.6,86.7 L389.1,87.5 L389.6,88.4 L390.1,89.3 L390.6,90.3 L391.1,91.3 L391.6,92.3 L392.1,93.4 L392.6,94.5 L393.1,95.6 L393.6,96.8 L394.1,98.0 L394.6,99.2 L395.1,100.4 L395.6,101.6 L396.1,102.8 L396.6,104.1 L397.1,105.4 L397.6,106.8 L398.1,108.3 L398.6,109.9 L399.1,111.6 L399.6,113.3 L400.1,115.1 L400.6,117.0 L401.1,118.9 L401.6,120.8 L402.1,122.7 L402.6,124.6 L403.1,126.5 L403.6,128.4 L404.1,130.3 L404.6,132.1 L405.1,134.0 L405.6,135.8 L406.1,137.6 L406.6,139.4 L407.1,141.3 L407.6,143.1 L408.1,144.9 L408.6,146.8 L409.1,148.7 L409.6,150.6 L410.1,152.5 L410.6,154.5 L411.1,156.6 L411.6,158.7 L412.1,160.8 L412.6,163.0 L413.1,165.2 L413.6,167.4 L414.1,169.7 L414.6,171.9 L415.1,174.2 L415.6,176.5 L416.1,178.9 L416.6,181.2 L417.1,183.6 L417.6,185.9 L418.1,188.4 L418.6,190.8 L419.1,193.2 L419.6,195.7 L420.1,198.1 L420.6,200.5 L421.1,202.8 L421.6,205.0 L422.1,207.2 L422.6,209.3 L423.1,211.2 L423.6,213.1 L424.1,214.9 L424.6,216.6 L425.1,218.3 L425.6,219.9 L426.1,221.4 L426.6,223.0 L427.1,224.5 L427.6,226.0 L428.1,227.5 L428.6,229.0 L429.1,230.5 L429.6,231.9 L430.1,233.3 L430.6,234.7 L431.1,236.1 L431.6,237.4 L432.1,238.7 L432.6,240.0 L433.1,241.3 L433.6,242.5 L434.1,243.6 L434.6,244.8 L435.1,245.9 L435.6,247.0 L436.1,248.1 L436.6,249.1 L437.1,250.2 L437.6,251.2 L438.1,252.2 L438.6,253.1 L439.1,254.0 L439.6,254.9 L440.1,255.7 L440.6,256.5 L441.1,257.2 L441.6,257.9 L442.1,258.4 L442.6,259.0 L443.1,259.4 L443.6,259.9 L444.1,260.3 L444.6,260.6 L445.1,260.9 L445.6,261.2 L446.1,261.5 L446.6,261.8 L447.1,262.0 L447.6,262.2 L448.1,262.5 L448.6,262.7 L449.1,262.9 L449.6,263.1 L450.1,263.3 L450.6,263.5 L451.1,263.6 L451.6,263.8 L452.1,263.9 L452.6,264.0 L453.1,264.1 L453.6,264.2 L454.1,264.3 L454.6,264.4 L455.1,264.5 L455.6,264.6 L456.1,264.7 L456.6,264.7 L457.1,264.8 L457.6,264.9 L458.1,265.0 L458.6,265.1 L459.1,265.2 L459.6,265.2 L460.1,265.3 L460.6,265.4 L461.1,265.5 L461.6,265.5 L462.1,265.6 L462.6,265.7 L463.1,265.8 L463.6,265.8 L464.1,265.9 L464.6,265.9 L465.1,266.0 L465.6,266.1 L466.1,266.1 L466.6,266.2 L467.1,266.2 L467.6,266.3 L468.1,266.3 L468.6,266.4 L469.1,266.4 L469.6,266.5 L470.1,266.5 L470.6,266.5 L471.1,266.6 L471.6,266.6 L472.1,266.7 L472.6,266.7 L473.1,266.7 L473.6,266.8 L474.1,266.8 L474.6,266.8 L475.1,266.9 L475.6,266.9 L476.1,267.0 L476.6,267.0 L477.1,267.0 L477.6,267.1 L478.1,267.1 L478.6,267.1 L479.1,267.2 L479.6,267.2 L480.1,267.2 L480.6,267.3 L481.1,267.3 L481.6,267.3 L482.1,267.4 L482.6,267.4 L483.1,267.4 L483.6,267.5 L484.1,267.5 L484.6,267.5 L485.1,267.6 L485.6,267.6 L486.1,267.6 L486.6,267.6 L487.1,267.7 L487.6,267.7 L488.1,267.7 L488.6,267.7 L489.1,267.8 L489.6,267.8 L490.1,267.8 L490.6,267.8 L491.1,267.8 L491.6,267.9 L492.1,267.9 L492.6,267.9 L493.1,267.9 L493.6,267.9 L494.1,268.0 L494.6,268.0 L495.1,268.0 L495.6,268.0 L496.1,268.0 L496.6,268.0 L497.1,268.1 L497.6,268.1 L498.1,268.1 L498.6,268.1 L499.1,268.1 L499.6,268.1 L500.1,268.1 L500.6,268.2 L501.1,268.2 L501.6,268.2 L502.1,268.2 L502.6,268.2 L503.1,268.2 L503.6,268.2 L504.1,268.2 L504.6,268.2 L505.1,268.3 L505.6,268.3 L506.1,268.3 L506.6,268.3 L507.1,268.3 L507.6,268.3 L508.1,268.3 L508.6,268.3 L509.0,268.3" stroke="#ff00ff"/>
<path d="M48.6,51.8 L49.1,51.0 L49.6,50.2 L50.1,49.4 L50.6,48.6 L51.1,47.8 L51.6,47.1 L52.1,46.4 L52.6,45.7 L53.1,45.1 L53.6,44.5 L54.1,43.9 L54.6,43.3 L55.1,42.8 L55.6,42.3 L56.1,41.8 L56.6,41.4 L57.1,41.0 L57.6,40.6 L58.1,40.3 L58.6,40.2 L59.1,40.1 L59.6,40.1 L60.1,40.2 L60.6,40.4 L61.1,40.7 L61.6,41.1 L62.1,41.6 L62.6,42.2 L63.1,42.9 L63.6,43.7 L64.1,44.7 L64.6,45.9 L65.1,47.1 L65.6,48.6 L66.1,50.2 L66.6,51.9 L67.1,53.8 L67.6,55.7 L68.1,57.7 L68.6,59.6 L69.1,61.5 L69.6,63.4 L70.1,65.2 L70.6,66.9 L71.1,68.7 L71.6,70.5 L72.1,72.4 L72.6,74.5 L73.1,76.9 L73.6,79.5 L74.1,82.4 L74.6,85.6 L75.1,88.9 L75.6,92.3 L76.1,95.8 L76.6,99.2 L77.1,102.6 L77.6,106.0 L78.1,109.3 L78.6,112.7 L79.1,116.1 L79.6,119.4 L80.1,122.7 L80.6,126.0 L81.1,129.2 L81.6,132.3 L82.1,135.2 L82.6,137.9 L83.1,140.6 L83.6,143.1 L84.1,145.5 L84.6,147.9 L85.1,150.4 L85.6,152.9 L86.1,155.5 L86.6,158.2 L87.1,160.9 L87.6,163.6 L88.1,166.3 L88.6,168.9 L89.1,171.5 L89.6,174.0 L90.1,176.4 L90.6,178.6 L91.1,180.7 L91.6,182.7 L92.1,184.5 L92.6,186.2 L93.1,187.7 L93.6,189.0 L94.1,190.3 L94.6,191.4 L95.1,192.5 L95.6,193.5 L96.1,194.5 L96.6,195.3 L97.1,196.1 L97.6,196.9 L98.1,197.6 L98.6,198.3 L99.1,198.9 L99.6,199.6 L100.1,200.1 L100.6,200.7 L101.1,201.2 L101.6,201.7 L102.1,202.2 L102.6,202.7 L103.1,203.2 L103.6,203.7 L104.1,204.1 L104.6,204.5 L105.1,204.9 L105.6,205.3 L106.1,205.6 L106.6,205.9 L107.1,206.2 L107.6,206.5 L108.1,206.7 L108.6,207.0 L109.1,207.2 L109.6,207.5 L110.1,207.7 L110.6,207.8 L111.1,208.0 L111.6,208.1 L112.1,208.2 L112.6,208.3 L113.1,208.4 L113.6,208.4 L114.1,208.5 L114.6,208.5 L115.1,208.4 L115.6,208.4 L116.1,208.3 L116.6,208.2 L117.1,208.1 L117.6,208.0 L118.1,207.9 L118.6,207.7 L119.1,207.6 L119.6,207.5 L120.1,207.3 L120.6,207.1 L121.1,207.0 L121.6,206.8 L122.1,206.6 L122.6,206.4 L123.1,206.1 L123.6,205.9 L124.1,205.6 L124.6,205.2 L125.1,204.8 L125.6,204.4 L126.1,203.9 L126.6,203.4 L127.1,202.7 L127.6,202.1 L128.1,201.4 L128.6,200.6 L129.1,199.8 L129.6,198.9 L130.1,198.0 L130.6,197.1 L131.1,196.2 L131.6,195.3 L132.1,194.3 L132.6,193.4 L133.1,192.4 L133.6,191.5 L134.1,190.5 L134.6,189.7 L135.1,188.8 L135.6,187.9 L136.1,187.1 L136.6,186.3 L137.1,185.6 L137.6,184.8 L138.1,184.1 L138.6,183.3 L139.1,182.4 L139.6,181.6 L140.1,180.6 L140.6,179.6 L141.1,178.6 L141.6,177.6 L142.1,176.5 L142.6,175.4 L143.1,174.3 L143.6,173.2 L144.1,172.1 L144.6,171.0 L145.1,169.9 L145.6,168.9 L146.1,167.9 L146.6,166.9 L147.1,165.9 L147.6,165.0 L148.1,164.1 L148.6,163.1 L149.1,162.2 L149.6,161.4 L150.1,160.5 L150.6,159.6 L151.1,158.8 L151.6,158.0 L152.1,157.2 L152.6,156.4 L153.1,155.7 L153.6,155.1 L154.1,154.5 L154.6,153.9 L155.1,153.5 L155.6,153.0 L156.1,152.7 L156.6,152.4 L157.1,152.1 L157.6,151.9 L158.1,151.7 L158.6,151.5 L159.1,151.4 L159.6,151.3 L160.1,151.2 L160.6,151.2 L161.1,151.3 L161.6,151.3 L162.1,151.5 L162.6,151.6 L163.1,151.9 L163.6,152.1 L164.1,152.5 L164.6,152.9 L165.1,153.3 L165.6,153.8 L166.1,154.4 L166.6,155.0 L167.1,155.8 L167.6,156.6 L168.1,157.5 L168.6,158.5 L169.1,159.6 L169.6,160.8 L170.1,162.1 L170.6,163.3 L171.1,164.6 L171.6,165.9 L172.1,167.2 L172.6,168.5 L173.1,169.8 L173.6,171.0 L174.1,172.3 L174.6,173.5 L175.1,174.7 L175.6,175.9 L176.1,177.1 L176.6,178.4 L177.1,179.6 L177.6,180.8 L178.1,182.0 L178.6,183.3 L179.1,184.5 L179.6,185.8 L180.1,187.1 L180.6,188.3 L181.1,189.6 L181.6,190.9 L182.1,192.2 L182.6,193.5 L183.1,194.8 L183.6,196.1 L184.1,197.4 L184.6,198.7 L185.1,200.0 L185.6,201.2 L186.1,202.4 L186.6,203.6 L187.1,204.8 L187.6,205.9 L188.1,206.9 L188.6,207.9 L189.1,208.7 L189.6,209.6 L190.1,210.3 L190.6,211.0 L191.1,211.7 L191.6,212.3 L192.1,213.0 L192.6,213.6 L193.1,214.2 L193.6,214.8 L194.1,215.4 L194.6,216.0 L195.1,216.6 L195.6,217.2 L196.1,217.8 L196.6,218.4 L197.1,218.9 L197.6,219.5 L198.1,220.0 L198.6,220.5 L199.1,221.0 L199.6,221.5 L200.1,222.0 L200.6,222.4 L201.1,222.8 L201.6,223.2 L202.1,223.5 L202.6,223.9 L203.1,224.1 L203.6,224.4 L204.1,224.6 L204.6,224.7 L205.1,224.9 L205.6,225.0 L206.1,225.0 L206.6,225.1 L207.1,225.1 L207.6,225.1 L208.1,225.1 L208.6,225.1 L209.1,225.1 L209.6,225.1 L210.1,225.0 L210.6,224.9 L211.1,224.8 L211.6,224.7 L212.1,224.6 L212.6,224.5 L213.1,224.3 L213.6,224.2 L214.1,224.0 L214.6,223.9 L215.1,223.7 L215.6,223.6 L216.1,223.4 L216.6,223.2 L217.1,223.0 L217.6,222.8 L218.1,222.6 L218.6,222.4 L219.1,222.1 L219.6,221.9 L220.1,221.6 L220.6,221.3 L221.1,221.1 L221.6,220.8 L222.1,220.6 L222.6,220.3 L223.1,220.0 L223.6,219.7 L224.1,219.5 L224.6,219.2 L225.1,218.9 L225.6,218.6 L226.1,218.3 L226.6,218.1 L227.1,217.8 L227.6,217.5 L228.1,217.2 L228.6,216.9 L229.1,216.6 L229.6,216.3 L230.1,216.0 L230.6,215.7 L231.1,215.4 L231.6,215.1 L232.1,214.7 L232.6,214.4 L233.1,214.1 L233.6,213.8 L234.1,213.5 L234.6,213.1 L235.1,212.8 L235.6,212.5 L236.1,212.1 L236.6,211.8 L237.1,211.5 L237.6,211.2 L238.1,210.9 L238.6,210.5 L239.1,210.2 L239.6,209.9 L240.1,209.7 L240.6,209.4 L241.1,209.1 L241.6,208.8 L242.1,208.6 L242.6,208.3 L243.1,208.1 L243.6,207.9 L244.1,207.7 L244.6,207.5 L245.1,207.3 L245.6,207.1 L246.1,206.9 L246.6,206.7 L247.1,206.6 L247.6,206.4 L248.1,206.2 L248.6,206.1 L249.1,205.9 L249.6,205.8 L250.1,205.6 L250.6,205.5 L251.1,205.3 L251.6,205.2 L252.1,205.0 L252.6,204.9 L253.1,204.7 L253.6,204.6 L254.1,204.4 L254.6,204.3 L255.1,204.1 L255.6,203.9 L256.1,203.8 L256.6,203.6 L257.1,203.5 L257.6,203.3 L258.1,203.2 L258.6,203.0 L259.1,202.9 L259.6,202.7 L260.1,202.6 L260.6,202.4 L261.1,202.3 L261.6,202.1 L262.1,202.0 L262.6,201.9 L263.1,201.7 L263.6,201.6 L264.1,201.5 L264.6,201.3 L265.1,201.2 L265.6,201.1 L266.1,201.0 L266.6,200.9 L267.1,200.8 L267.6,200.7 L268.1,200.6 L268.6,200.5 L269.1,200.4 L269.6,200.3 L270.1,200.3 L270.6,200.2 L271.1,200.1 L271.6,200.0 L272.1,200.0 L272.6,199.9 L273.1,199.8 L273.6,199.7 L274.1,199.6 L274.6,199.5 L275.1,199.3 L275.6,199.2 L276.1,199.0 L276.6,198.9 L277.1,198.7 L277.6,198.5 L278.1,198.3 L278.6,198.1 L279.1,197.8 L279.6,197.6 L280.1,197.3 L280.6,197.1 L281.1,196.8 L281.6,196.5 L282.1,196.2 L282.6,195.8 L283.1,195.5 L283.6,195.1 L284.1,194.8 L284.6,194.4 L285.1,194.0 L285.6,193.5 L286.1,193.0 L286.6,192.6 L287.1,192.1 L287.6,191.5 L288.1,191.0 L288.6,190.4 L289.1,189.8 L289.6,189.2 L290.1,188.5 L290.6,187.9 L291.1,187.2 L291.6,186.5 L292.1,185.7 L292.6,185.0 L293.1,184.2 L293.6,183.5 L294.1,182.7 L294.6,181.9 L295.1,181.1 L295.6,180.3 L296.1,179.5 L296.6,178.7 L297.1,177.9 L297.6,177.1 L298.1,176.3 L298.6,175.5 L299.1,174.6 L299.6,173.8 L300.1,173.0 L300.6,172.1 L301.1,171.3 L301.6,170.4 L302.1,169.6 L302.6,168.7 L303.1,167.9 L303.6,167.0 L304.1,166.1 L304.6,165.2 L305.1,164.4 L305.6,163.5 L306.1,162.6 L306.6,161.7 L307.1,160.9 L307.6,160.0 L308.1,159.1 L308.6,158.2 L309.1,157.3 L309.6,156.4 L310.1,155.6 L310.6,154.7 L311.1,153.8 L311.6,152.9 L312.1,152.0 L312.6,151.1 L313.1,150.3 L313.6,149.4 L314.1,148.5 L314.6,147.6 L315.1,146.7 L315.6,145.9 L316.1,145.0 L316.6,144.1 L317.1,143.2 L317.6,142.3 L318.1,141.4 L318.6,140.5 L319.1,139.6 L319.6,138.7 L320.1,137.7 L320.6,136.7 L321.1,135.7 L321.6,134.6 L322.1,133.5 L322.6,132.4 L323.1,131.2 L323.6,130.0 L324.1,128.8 L324.6,127.5 L325.1,126.3 L325.6,125.1 L326.1,123.8 L326.6,122.6 L327.1,121.3 L327.6,120.1 L328.1,118.8 L328.6,117.5 L329.1,116.3 L329.6,115.0 L330.1,113.8 L330.6,112.6 L331.1,111.4 L331.6,110.2 L332.1,109.0 L332.6,107.9 L333.1,106.8 L333.6,105.7 L334.1,104.7 L334.6,103.6 L335.1,102.6 L335.6,101.6 L336.1,100.7 L336.6,99.7 L337.1,98.8 L337.6,97.9 L338.1,97.1 L338.6,96.2 L339.1,95.4 L339.6,94.7 L340.1,93.9 L340.6,93.2 L341.1,92.5 L341.6,91.8 L342.1,91.1 L342.6,90.5 L343.1,89.9 L343.6,89.3 L344.1,88.8 L344.6,88.3 L345.1,87.8 L345.6,87.3 L346.1,86.8 L346.6,86.4 L347.1,86.0 L347.6,85.6 L348.1,85.3 L348.6,84.9 L349.1,84.6 L349.6,84.3 L350.1,84.0 L350.6,83.7 L351.1,83.4 L351.6,83.2 L352.1,83.0 L352.6,82.8 L353.1,82.7 L353.6,82.5 L354.1,82.4 L354.6,82.3 L355.1,82.2 L355.6,82.2 L356.1,82.1 L356.6,82.1 L357.1,82.1 L357.6,82.1 L358.1,82.2 L358.6,82.2 L359.1,82.3 L359.6,82.3 L360.1,82.4 L360.6,82.5 L361.1,82.7 L361.6,82.8 L362.1,83.0 L362.6,83.2 L363.1,83.5 L363.6,83.7 L364.1,84.0 L364.6,84.3 L365.1,84.6 L365.6,84.9 L366.1,85.3 L366.6,85.6 L367.1,86.0 L367.6,86.4 L368.1,86.8 L368.6,87.2 L369.1,87.6 L369.6,88.1 L370.1,88.5 L370.6,89.0 L371.1,89.5 L371.6,90.0 L372.1,90.6 L372.6,91.2 L373.1,91.8 L373.6,92.4 L374.1,93.1 L374.6,93.8 L375.1,94.5 L375.6,95.3 L376.1,96.1 L376.6,96.9 L377.1,97.7 L377.6,98.6 L378.1,99.5 L378.6,100.5 L379.1,101.5 L379.6,102.5 L380.1,103.6 L380.6,104.7 L381.1,105.9 L381.6,107.0 L382.1,108.3 L382.6,109.5 L383.1,110.7 L383.6,112.0 L384.1,113.3 L384.6,114.6 L385.1,115.9 L385.6,117.3 L386.1,118.6 L386.6,120.1 L387.1,121.6 L387.6,123.2 L388.1,124.9 L388.6,126.7 L389.1,128.7 L389.6,130.8 L390.1,133.0 L390.6,135.3 L391.1,137.6 L391.6,140.0 L392.1,142.5 L392.6,145.0 L393.1,147.4 L393.6,150.0 L394.1,152.5 L394.6,155.0 L395.1,157.5 L395.6,160.0 L396.1,162.4 L396.6,164.9 L397.1,167.3 L397.6,169.8 L398.1,172.2 L398.6,174.6 L399.1,177.1 L399.6,179.5 L400.1,181.8 L400.6,184.2 L401.1,186.5 L401.6,188.8 L402.1,191.1 L402.6,193.3 L403.1,195.5 L403.6,197.6 L404.1,199.7 L404.6,201.8 L405.1,203.8 L405.6,205.9 L406.1,208.0 L406.6,210.1 L407.1,212.3 L407.6,214.5 L408.1,216.7 L408.6,219.0 L409.1,221.2 L409.6,223.4 L410.1,225.6 L410.6,227.6 L411.1,229.4 L411.6,231.1 L412.1,232.6 L412.6,233.9 L413.1,235.2 L413.6,236.3 L414.1,237.4 L414.6,238.4 L415.1,239.4 L415.6,240.4 L416.1,241.4 L416.6,242.4 L417.1,243.4 L417.6,244.4 L418.1,245.3 L418.6,246.2 L419.1,247.1 L419.6,247.9 L420.1,248.6 L420.6,249.3 L421.1,250.0 L421.6,250.6 L422.1,251.2 L422.6,251.7 L423.1,252.2 L423.6,252.7 L424.1,253.2 L424.6,253.6 L425.1,254.1 L425.6,254.5 L426.1,254.9 L426.6,255.4 L427.1,255.8 L427.6,256.2 L428.1,256.6 L428.6,257.0 L429.1,257.4 L429.6,257.8 L430.1,258.2 L430.6,258.6 L431.1,259.0 L431.6,259.3 L432.1,259.7 L432.6,260.1 L433.1,260.4 L433.6,260.8 L434.1,261.1 L434.6,261.5 L435.1,261.8 L435.6,262.2 L436.1,262.5 L436.6,262.8 L437.1,263.2 L437.6,263.5 L438.1,263.8 L438.6,264.1 L439.1,264.4 L439.6,264.7 L440.1,265.0 L440.6,265.2 L441.1,265.4 L441.6,265.6 L442.1,265.8 L442.6,266.0 L443.1,266.1 L443.6,266.2 L444.1,266.3 L444.6,266.4 L445.1,266.5 L445.6,266.5 L446.1,266.6 L446.6,266.7 L447.1,266.7 L447.6,266.8 L448.1,266.8 L448.6,266.9 L449.1,266.9 L449.6,266.9 L450.1,267.0 L450.6,267.0 L451.1,267.1 L451.6,267.1 L452.1,267.1 L452.6,267.2 L453.1,267.2 L453.6,267.2 L454.1,267.3 L454.6,267.3 L455.1,267.3 L455.6,267.3 L456.1,267.4 L456.6,267.4 L457.1,267.4 L457.6,267.4 L458.1,267.4 L458.6,267.5 L459.1,267.5 L459.6,267.5 L460.1,267.5 L460.6,267.5 L461.1,267.5 L461.6,267.5 L462.1,267.6 L462.6,267.6 L463.1,267.6 L463.6,267.6 L464.1,267.6 L464.6,267.6 L465.1,267.6 L465.6,267.6 L466.1,267.7 L466.6,267.7 L467.1,267.7 L467.6,267.7 L468.1,267.7 L468.6,267.7 L469.1,267.7 L469.6,267.7 L470.1,267.8 L470.6,267.8 L471.1,267.8 L471.6,267.8 L472.1,267.8 L472.6,267.8 L473.1,267.8 L473.6,267.8 L474.1,267.9 L474.6,267.9 L475.1,267.9 L475.6,267.9 L476.1,267.9 L476.6,267.9 L477.1,267.9 L477.6,268.0 L478.1,268.0 L478.6,268.0 L479.1,268.0 L479.6,268.0 L480.1,268.0 L480.6,268.0 L481.1,268.0 L481.6,268.1 L482.1,268.1 L482.6,268.1 L483.1,268.1 L483.6,268.1 L484.1,268.1 L484.6,268.1 L485.1,268.1 L485.6,268.1 L486.1,268.2 L486.6,268.2 L487.1,268.2 L487.6,268.2 L488.1,268.2 L488.6,268.2 L489.1,268.2 L489.6,268.2 L490.1,268.2 L490.6,268.2 L491.1,268.2 L491.6,268.2 L492.1,268.3 L492.6,268.3 L493.1,268.3 L493.6,268.3 L494.1,268.3 L494.6,268.3 L495.1,268.3 L495.6,268.3 L496.1,268.3 L496.6,268.3 L497.1,268.3 L497.6,268.3 L498.1,268.3 L498.6,268.3 L499.1,268.3 L499.6,268.3 L500.1,268.3 L500.6,268.3 L501.1,268.3 L501.6,268.3 L502.1,268.3 L502.6,268.3 L503.1,268.3 L503.6,268.3 L504.1,268.3 L504.6,268.3 L505.1,268.3 L505.6,268.3 L506.1,268.3 L506.6,268.3 L507.1,268.3 L507.6,268.3 L508.1,268.3 L508.6,268.3 L509.0,268.3" stroke="#808000"/>
<path d="M48.6,43.2 L49.1,42.6 L49.6,42.0 L50.1,41.5 L50.6,41.0 L51.1,40.4 L51.6,40.0 L52.1,39.5 L52.6,39.1 L53.1,38.7 L53.6,38.3 L54.1,37.9 L54.6,37.6 L55.1,37.3 L55.6,37.1 L56.1,36.9 L56.6,36.7 L57.1,36.5 L57.6,36.4 L58.1,36.4 L58.6,36.4 L59.1,36.4 L59.6,36.5 L60.1,36.7 L60.6,37.0 L61.1,37.3 L61.6,37.6 L62.1,38.1 L62.6,38.6 L63.1,39.1 L63.6,39.8 L64.1,40.6 L64.6,41.4 L65.1,42.4 L65.6,43.6 L66.1,44.8 L66.6,46.3 L67.1,47.8 L67.6,49.5 L68.1,51.3 L68.6,53.2 L69.1,55.2 L69.6,57.3 L70.1,59.5 L70.6,61.8 L71.1,64.2 L71.6,66.7 L72.1,69.2 L72.6,71.9 L73.1,74.7 L73.6,77.7 L74.1,81.0 L74.6,84.4 L75.1,88.0 L75.6,91.6 L76.1,95.3 L76.6,98.9 L77.1,102.4 L77.6,105.8 L78.1,109.3 L78.6,112.7 L79.1,116.0 L79.6,119.4 L80.1,122.7 L80.6,125.9 L81.1,129.1 L81.6,132.1 L82.1,135.0 L82.6,137.7 L83.1,140.2 L83.6,142.7 L84.1,145.1 L84.6,147.4 L85.1,149.8 L85.6,152.3 L86.1,154.8 L86.6,157.4 L87.1,160.0 L87.6,162.6 L88.1,165.2 L88.6,167.8 L89.1,170.2 L89.6,172.6 L90.1,174.9 L90.6,177.1 L91.1,179.1 L91.6,180.9 L92.1,182.7 L92.6,184.2 L93.1,185.6 L93.6,186.8 L94.1,188.0 L94.6,189.0 L95.1,190.0 L95.6,190.9 L96.1,191.7 L96.6,192.5 L97.1,193.2 L97.6,193.9 L98.1,194.5 L98.6,195.0 L99.1,195.6 L99.6,196.1 L100.1,196.5 L100.6,197.0 L101.1,197.4 L101.6,197.9 L102.1,198.3 L102.6,198.7 L103.1,199.1 L103.6,199.4 L104.1,199.8 L104.6,200.1 L105.1,200.4 L105.6,200.7 L106.1,201.0 L106.6,201.3 L107.1,201.5 L107.6,201.7 L108.1,201.9 L108.6,202.2 L109.1,202.4 L109.6,202.5 L110.1,202.7 L110.6,202.9 L111.1,203.0 L111.6,203.1 L112.1,203.3 L112.6,203.4 L113.1,203.4 L113.6,203.5 L114.1,203.5 L114.6,203.5 L115.1,203.6 L115.6,203.5 L116.1,203.5 L116.6,203.5 L117.1,203.4 L117.6,203.4 L118.1,203.3 L118.6,203.2 L119.1,203.1 L119.6,203.1 L120.1,203.0 L120.6,202.9 L121.1,202.8 L121.6,202.7 L122.1,202.6 L122.6,202.5 L123.1,202.3 L123.6,202.2 L124.1,202.0 L124.6,201.7 L125.1,201.4 L125.6,201.1 L126.1,200.7 L126.6,200.2 L127.1,199.7 L127.6,199.2 L128.1,198.6 L128.6,197.9 L129.1,197.2 L129.6,196.4 L130.1,195.7 L130.6,194.9 L131.1,194.0 L131.6,193.2 L132.1,192.4 L132.6,191.5 L133.1,190.7 L133.6,189.8 L134.1,189.0 L134.6,188.2 L135.1,187.4 L135.6,186.7 L136.1,186.0 L136.6,185.3 L137.1,184.6 L137.6,183.9 L138.1,183.3 L138.6,182.5 L139.1,181.8 L139.6,181.0 L140.1,180.1 L140.6,179.2 L141.1,178.2 L141.6,177.2 L142.1,176.2 L142.6,175.1 L143.1,174.1 L143.6,173.0 L144.1,172.0 L144.6,170.9 L145.1,169.9 L145.6,168.9 L146.1,167.9 L146.6,166.9 L147.1,165.9 L147.6,165.0 L148.1,164.0 L148.6,163.1 L149.1,162.2 L149.6,161.3 L150.1,160.4 L150.6,159.6 L151.1,158.7 L151.6,157.9 L152.1,157.1 L152.6,156.3 L153.1,155.6 L153.6,154.9 L154.1,154.3 L154.6,153.7 L155.1,153.3 L155.6,152.8 L156.1,152.5 L156.6,152.1 L157.1,151.8 L157.6,151.6 L158.1,151.4 L158.6,151.2 L159.1,151.1 L159.6,151.0 L160.1,150.9 L160.6,150.9 L161.1,151.0 L161.6,151.0 L162.1,151.2 L162.6,151.4 L163.1,151.6 L163.6,151.9 L164.1,152.2 L164.6,152.6 L165.1,153.0 L165.6,153.6 L166.1,154.1 L166.6,154.8 L167.1,155.5 L167.6,156.4 L168.1,157.3 L168.6,158.4 L169.1,159.5 L169.6,160.7 L170.1,161.9 L170.6,163.2 L171.1,164.5 L171.6,165.8 L172.1,167.1 L172.6,168.4 L173.1,169.7 L173.6,170.9 L174.1,172.2 L174.6,173.4 L175.1,174.7 L175.6,175.9 L176.1,177.1 L176.6,178.3 L177.1,179.6 L177.6,180.8 L178.1,182.0 L178.6,183.3 L179.1,184.5 L179.6,185.8 L180.1,187.1 L180.6,188.3 L181.1,189.6 L181.6,190.9 L182.1,192.2 L182.6,193.5 L183.1,194.8 L183.6,196.1 L184.1,197.3 L184.6,198.6 L185.1,199.9 L185.6,201.1 L186.1,202.3 L186.6,203.5 L187.1,204.6 L187.6,205.7 L188.1,206.7 L188.6,207.6 L189.1,208.4 L189.6,209.2 L190.1,210.0 L190.6,210.6 L191.1,211.3 L191.6,211.9 L192.1,212.5 L192.6,213.0 L193.1,213.6 L193.6,214.2 L194.1,214.8 L194.6,215.3 L195.1,215.9 L195.6,216.5 L196.1,217.0 L196.6,217.5 L197.1,218.1 L197.6,218.6 L198.1,219.1 L198.6,219.5 L199.1,220.0 L199.6,220.4 L200.1,220.8 L200.6,221.2 L201.1,221.6 L201.6,221.9 L202.1,222.3 L202.6,222.5 L203.1,222.8 L203.6,223.0 L204.1,223.1 L204.6,223.3 L205.1,223.3 L205.6,223.4 L206.1,223.4 L206.6,223.4 L207.1,223.4 L207.6,223.4 L208.1,223.4 L208.6,223.3 L209.1,223.2 L209.6,223.1 L210.1,223.0 L210.6,222.9 L211.1,222.8 L211.6,222.6 L212.1,222.4 L212.6,222.2 L213.1,222.0 L213.6,221.8 L214.1,221.6 L214.6,221.4 L215.1,221.2 L215.6,221.0 L216.1,220.7 L216.6,220.5 L217.1,220.2 L217.6,220.0 L218.1,219.7 L218.6,219.4 L219.1,219.1 L219.6,218.8 L220.1,218.5 L220.6,218.2 L221.1,217.8 L221.6,217.5 L222.1,217.2 L222.6,216.9 L223.1,216.6 L223.6,216.2 L224.1,215.9 L224.6,215.6 L225.1,215.2 L225.6,214.9 L226.1,214.6 L226.6,214.3 L227.1,213.9 L227.6,213.6 L228.1,213.3 L228.6,212.9 L229.1,212.6 L229.6,212.3 L230.1,211.9 L230.6,211.6 L231.1,211.3 L231.6,210.9 L232.1,210.6 L232.6,210.3 L233.1,209.9 L233.6,209.6 L234.1,209.3 L234.6,208.9 L235.1,208.6 L235.6,208.3 L236.1,208.0 L236.6,207.6 L237.1,207.3 L237.6,207.0 L238.1,206.7 L238.6,206.4 L239.1,206.1 L239.6,205.8 L240.1,205.5 L240.6,205.2 L241.1,205.0 L241.6,204.7 L242.1,204.5 L242.6,204.3 L243.1,204.0 L243.6,203.8 L244.1,203.6 L244.6,203.4 L245.1,203.3 L245.6,203.1 L246.1,202.9 L246.6,202.8 L247.1,202.6 L247.6,202.5 L248.1,202.4 L248.6,202.2 L249.1,202.1 L249.6,202.0 L250.1,201.9 L250.6,201.7 L251.1,201.6 L251.6,201.5 L252.1,201.4 L252.6,201.2 L253.1,201.1 L253.6,201.0 L254.1,200.9 L254.6,200.8 L255.1,200.6 L255.6,200.5 L256.1,200.4 L256.6,200.3 L257.1,200.2 L257.6,200.1 L258.1,200.0 L258.6,199.9 L259.1,199.8 L259.6,199.7 L260.1,199.6 L260.6,199.5 L261.1,199.4 L261.6,199.3 L262.1,199.2 L262.6,199.1 L263.1,199.0 L263.6,198.9 L264.1,198.8 L264.6,198.8 L265.1,198.7 L265.6,198.6 L266.1,198.5 L266.6,198.4 L267.1,198.3 L267.6,198.3 L268.1,198.2 L268.6,198.2 L269.1,198.1 L269.6,198.0 L270.1,198.0 L270.6,197.9 L271.1,197.9 L271.6,197.8 L272.1,197.8 L272.6,197.7 L273.1,197.7 L273.6,197.6 L274.1,197.5 L274.6,197.4 L275.1,197.3 L275.6,197.2 L276.1,197.1 L276.6,196.9 L277.1,196.8 L277.6,196.6 L278.1,196.4 L278.6,196.2 L279.1,196.0 L279.6,195.8 L280.1,195.5 L280.6,195.3 L281.1,195.0 L281.6,194.8 L282.1,194.5 L282.6,194.2 L283.1,193.8 L283.6,193.5 L284.1,193.2 L284.6,192.8 L285.1,192.4 L285.6,192.0 L286.1,191.5 L286.6,191.0 L287.1,190.6 L287.6,190.0 L288.1,189.5 L288.6,189.0 L289.1,188.4 L289.6,187.8 L290.1,187.1 L290.6,186.5 L291.1,185.8 L291.6,185.1 L292.1,184.4 L292.6,183.7 L293.1,183.0 L293.6,182.2 L294.1,181.5 L294.6,180.7 L295.1,179.9 L295.6,179.1 L296.1,178.4 L296.6,177.6 L297.1,176.8 L297.6,176.0 L298.1,175.2 L298.6,174.4 L299.1,173.6 L299.6,172.8 L300.1,172.0 L300.6,171.2 L301.1,170.3 L301.6,169.5 L302.1,168.7 L302.6,167.8 L303.1,167.0 L303.6,166.1 L304.1,165.3 L304.6,164.4 L305.1,163.6 L305.6,162.7 L306.1,161.9 L306.6,161.0 L307.1,160.2 L307.6,159.3 L308.1,158.4 L308.6,157.6 L309.1,156.7 L309.6,155.9 L310.1,155.0 L310.6,154.1 L311.1,153.3 L311.6,152.4 L312.1,151.6 L312.6,150.7 L313.1,149.8 L313.6,149.0 L314.1,148.1 L314.6,147.2 L315.1,146.4 L315.6,145.5 L316.1,144.6 L316.6,143.8 L317.1,142.9 L317.6,142.0 L318.1,141.1 L318.6,140.2 L319.1,139.3 L319.6,138.4 L320.1,137.4 L320.6,136.4 L321.1,135.4 L321.6,134.3 L322.1,133.2 L322.6,132.0 L323.1,130.9 L323.6,129.6 L324.1,128.4 L324.6,127.2 L325.1,125.9 L325.6,124.7 L326.1,123.4 L326.6,122.2 L327.1,120.9 L327.6,119.6 L328.1,118.4 L328.6,117.1 L329.1,115.8 L329.6,114.5 L330.1,113.3 L330.6,112.0 L331.1,110.8 L331.6,109.6 L332.1,108.4 L332.6,107.3 L333.1,106.2 L333.6,105.1 L334.1,104.0 L334.6,102.9 L335.1,101.9 L335.6,100.9 L336.1,99.9 L336.6,98.9 L337.1,98.0 L337.6,97.1 L338.1,96.2 L338.6,95.3 L339.1,94.5 L339.6,93.7 L340.1,92.9 L340.6,92.1 L341.1,91.4 L341.6,90.6 L342.1,89.9 L342.6,89.2 L343.1,88.5 L343.6,87.9 L344.1,87.2 L344.6,86.6 L345.1,86.0 L345.6,85.4 L346.1,84.9 L346.6,84.4 L347.1,83.8 L347.6,83.3 L348.1,82.9 L348.6,82.4 L349.1,82.0 L349.6,81.6 L350.1,81.2 L350.6,80.8 L351.1,80.5 L351.6,80.1 L352.1,79.9 L352.6,79.6 L353.1,79.4 L353.6,79.2 L354.1,79.0 L354.6,78.9 L355.1,78.8 L355.6,78.7 L356.1,78.7 L356.6,78.7 L357.1,78.7 L357.6,78.8 L358.1,78.8 L358.6,78.9 L359.1,79.0 L359.6,79.1 L360.1,79.3 L360.6,79.4 L361.1,79.6 L361.6,79.8 L362.1,80.0 L362.6,80.2 L363.1,80.4 L363.6,80.6 L364.1,80.9 L364.6,81.1 L365.1,81.4 L365.6,81.6 L366.1,81.9 L366.6,82.2 L367.1,82.5 L367.6,82.8 L368.1,83.1 L368.6,83.4 L369.1,83.8 L369.6,84.1 L370.1,84.5 L370.6,84.9 L371.1,85.3 L371.6,85.8 L372.1,86.2 L372.6,86.7 L373.1,87.2 L373.6,87.8 L374.1,88.4 L374.6,89.0 L375.1,89.6 L375.6,90.2 L376.1,90.9 L376.6,91.6 L377.1,92.4 L377.6,93.1 L378.1,93.9 L378.6,94.7 L379.1,95.6 L379.6,96.5 L380.1,97.4 L380.6,98.4 L381.1,99.4 L381.6,100.4 L382.1,101.4 L382.6,102.5 L383.1,103.5 L383.6,104.6 L384.1,105.7 L384.6,106.7 L385.1,107.8 L385.6,108.9 L386.1,110.0 L386.6,111.1 L387.1,112.3 L387.6,113.6 L388.1,115.0 L388.6,116.5 L389.1,118.2 L389.6,120.0 L390.1,122.0 L390.6,124.1 L391.1,126.3 L391.6,128.6 L392.1,130.9 L392.6,133.3 L393.1,135.7 L393.6,138.1 L394.1,140.6 L394.6,143.0 L395.1,145.5 L395.6,148.0 L396.1,150.5 L396.6,153.0 L397.1,155.5 L397.6,158.0 L398.1,160.5 L398.6,163.1 L399.1,165.6 L399.6,168.1 L400.1,170.6 L400.6,173.1 L401.1,175.5 L401.6,178.0 L402.1,180.4 L402.6,182.7 L403.1,185.1 L403.6,187.4 L404.1,189.6 L404.6,191.9 L405.1,194.1 L405.6,196.4 L406.1,198.6 L406.6,200.9 L407.1,203.3 L407.6,205.6 L408.1,208.0 L408.6,210.5 L409.1,212.9 L409.6,215.3 L410.1,217.6 L410.6,219.8 L411.1,221.8 L411.6,223.7 L412.1,225.4 L412.6,226.9 L413.1,228.4 L413.6,229.7 L414.1,231.0 L414.6,232.3 L415.1,233.5 L415.6,234.7 L416.1,236.0 L416.6,237.2 L417.1,238.4 L417.6,239.6 L418.1,240.8 L418.6,241.9 L419.1,243.0 L419.6,244.0 L420.1,245.0 L420.6,245.9 L421.1,246.8 L421.6,247.6 L422.1,248.3 L422.6,249.0 L423.1,249.7 L423.6,250.3 L424.1,250.9 L424.6,251.5 L425.1,252.1 L425.6,252.6 L426.1,253.1 L426.6,253.7 L427.1,254.2 L427.6,254.7 L428.1,255.2 L428.6,255.7 L429.1,256.2 L429.6,256.7 L430.1,257.2 L430.6,257.6 L431.1,258.1 L431.6,258.6 L432.1,259.0 L432.6,259.5 L433.1,259.9 L433.6,260.3 L434.1,260.7 L434.6,261.1 L435.1,261.5 L435.6,261.9 L436.1,262.3 L436.6,262.7 L437.1,263.0 L437.6,263.4 L438.1,263.7 L438.6,264.1 L439.1,264.4 L439.6,264.7 L440.1,264.9 L440.6,265.2 L441.1,265.4 L441.6,265.6 L442.1,265.8 L442.6,266.0 L443.1,266.1 L443.6,266.2 L444.1,266.3 L444.6,266.4 L445.1,266.5 L445.6,266.5 L446.1,266.6 L446.6,266.7 L447.1,266.7 L447.6,266.8 L448.1,266.8 L448.6,266.9 L449.1,266.9 L449.6,266.9 L450.1,267.0 L450.6,267.0 L451.1,267.1 L451.6,267.1 L452.1,267.1 L452.6,267.2 L453.1,267.2 L453.6,267.2 L454.1,267.3 L454.6,267.3 L455.1,267.3 L455.6,267.3 L456.1,267.4 L456.6,267.4 L457.1,267.4 L457.6,267.4 L458.1,267.4 L458.6,267.5 L459.1,267.5 L459.6,267.5 L460.1,267.5 L460.6,267.5 L461.1,267.5 L461.6,267.5 L462.1,267.6 L462.6,267.6 L463.1,267.6 L463.6,267.6 L464.1,267.6 L464.6,267.6 L465.1,267.6 L465.6,267.6 L466.1,267.7 L466.6,267.7 L467.1,267.7 L467.6,267.7 L468.1,267.7 L468.6,267.7 L469.1,267.7 L469.6,267.7 L470.1,267.8 L470.6,267.8 L471.1,267.8 L471.6,267.8 L472.1,267.8 L472.6,267.8 L473.1,267.8 L473.6,267.8 L474.1,267.9 L474.6,267.9 L475.1,267.9 L475.6,267.9 L476.1,267.9 L476.6,267.9 L477.1,267.9 L477.6,268.0 L478.1,268.0 L478.6,268.0 L479.1,268.0 L479.6,268.0 L480.1,268.0 L480.6,268.0 L481.1,268.0 L481.6,268.1 L482.1,268.1 L482.6,268.1 L483.1,268.1 L483.6,268.1 L484.1,268.1 L484.6,268.1 L485.1,268.1 L485.6,268.1 L486.1,268.2 L486.6,268.2 L487.1,268.2 L487.6,268.2 L488.1,268.2 L488.6,268.2 L489.1,268.2 L489.6,268.2 L490.1,268.2 L490.6,268.2 L491.1,268.2 L491.6,268.2 L492.1,268.3 L492.6,268.3 L493.1,268.3 L493.6,268.3 L494.1,268.3 L494.6,268.3 L495.1,268.3 L495.6,268.3 L496.1,268.3 L496.6,268.3 L497.1,268.3 L497.6,268.3 L498.1,268.3 L498.6,268.3 L499.1,268.3 L499.6,268.3 L500.1,268.3 L500.6,268.3 L501.1,268.3 L501.6,268.3 L502.1,268.3 L502.6,268.3 L503.1,268.3 L503.6,268.3 L504.1,268.3 L504.6,268.3 L505.1,268.3 L505.6,268.3 L506.1,268.3 L506.6,268.3 L507.1,268.3 L507.6,268.3 L508.1,268.3 L508.6,268.3 L509.0,268.3" stroke="#800000"/>
<path d="M48.6,67.7 L49.1,67.2 L49.6,66.8 L50.1,66.3 L50.6,65.9 L51.1,65.5 L51.6,65.1 L52.1,64.7 L52.6,64.3 L53.1,64.0 L53.6,63.7 L54.1,63.4 L54.6,63.2 L55.1,63.0 L55.6,62.8 L56.1,62.7 L56.6,62.6 L57.1,62.6 L57.6,62.6 L58.1,62.7 L58.6,62.8 L59.1,63.0 L59.6,63.2 L60.1,63.5 L60.6,63.8 L61.1,64.2 L61.6,64.6 L62.1,65.0 L62.6,65.5 L63.1,66.0 L63.6,66.6 L64.1,67.2 L64.6,67.8 L65.1,68.5 L65.6,69.1 L66.1,69.9 L66.6,70.7 L67.1,71.5 L67.6,72.4 L68.1,73.3 L68.6,74.3 L69.1,75.4 L69.6,76.6 L70.1,77.8 L70.6,79.0 L71.1,80.3 L71.6,81.7 L72.1,83.1 L72.6,84.5 L73.1,86.0 L73.6,87.5 L74.1,89.0 L74.6,90.6 L75.1,92.2 L75.6,93.8 L76.1,95.4 L76.6,97.1 L77.1,98.9 L77.6,100.7 L78.1,102.7 L78.6,104.8 L79.1,107.0 L79.6,109.4 L80.1,111.9 L80.6,114.6 L81.1,117.4 L81.6,120.1 L82.1,122.9 L82.6,125.6 L83.1,128.2 L83.6,130.7 L84.1,133.2 L84.6,135.5 L85.1,137.9 L85.6,140.1 L86.1,142.3 L86.6,144.5 L87.1,146.6 L87.6,148.6 L88.1,150.6 L88.6,152.5 L89.1,154.3 L89.6,156.1 L90.1,157.7 L90.6,159.2 L91.1,160.6 L91.6,161.8 L92.1,162.9 L92.6,164.0 L93.1,164.9 L93.6,165.9 L94.1,166.8 L94.6,167.7 L95.1,168.6 L95.6,169.5 L96.1,170.4 L96.6,171.2 L97.1,172.1 L97.6,172.9 L98.1,173.7 L98.6,174.5 L99.1,175.2 L99.6,175.8 L100.1,176.4 L100.6,176.9 L101.1,177.3 L101.6,177.7 L102.1,178.1 L102.6,178.5 L103.1,178.8 L103.6,179.1 L104.1,179.4 L104.6,179.7 L105.1,180.0 L105.6,180.3 L106.1,180.5 L106.6,180.7 L107.1,180.9 L107.6,181.1 L108.1,181.3 L108.6,181.4 L109.1,181.6 L109.6,181.8 L110.1,181.9 L110.6,182.1 L111.1,182.3 L111.6,182.6 L112.1,182.8 L112.6,183.0 L113.1,183.3 L113.6,183.6 L114.1,183.9 L114.6,184.2 L115.1,184.5 L115.6,184.8 L116.1,185.1 L116.6,185.4 L117.1,185.8 L117.6,186.1 L118.1,186.5 L118.6,186.8 L119.1,187.2 L119.6,187.5 L120.1,187.8 L120.6,188.1 L121.1,188.4 L121.6,188.6 L122.1,188.8 L122.6,189.0 L123.1,189.2 L123.6,189.3 L124.1,189.5 L124.6,189.6 L125.1,189.7 L125.6,189.8 L126.1,189.8 L126.6,189.9 L127.1,189.9 L127.6,189.9 L128.1,189.9 L128.6,189.9 L129.1,189.8 L129.6,189.7 L130.1,189.6 L130.6,189.4 L131.1,189.2 L131.6,188.9 L132.1,188.6 L132.6,188.2 L133.1,187.8 L133.6,187.3 L134.1,186.8 L134.6,186.3 L135.1,185.7 L135.6,185.1 L136.1,184.5 L136.6,183.9 L137.1,183.3 L137.6,182.7 L138.1,182.1 L138.6,181.5 L139.1,180.9 L139.6,180.3 L140.1,179.7 L140.6,179.1 L141.1,178.5 L141.6,177.9 L142.1,177.3 L142.6,176.7 L143.1,176.1 L143.6,175.4 L144.1,174.8 L144.6,174.2 L145.1,173.6 L145.6,172.9 L146.1,172.3 L146.6,171.7 L147.1,171.1 L147.6,170.6 L148.1,170.1 L148.6,169.6 L149.1,169.3 L149.6,169.0 L150.1,168.7 L150.6,168.5 L151.1,168.4 L151.6,168.3 L152.1,168.2 L152.6,168.1 L153.1,168.0 L153.6,167.9 L154.1,167.8 L154.6,167.7 L155.1,167.7 L155.6,167.6 L156.1,167.6 L156.6,167.5 L157.1,167.5 L157.6,167.5 L158.1,167.5 L158.6,167.6 L159.1,167.7 L159.6,167.8 L160.1,167.9 L160.6,168.1 L161.1,168.3 L161.6,168.5 L162.1,168.8 L162.6,169.1 L163.1,169.4 L163.6,169.8 L164.1,170.2 L164.6,170.7 L165.1,171.2 L165.6,171.7 L166.1,172.3 L166.6,172.9 L167.1,173.6 L167.6,174.3 L168.1,175.0 L168.6,175.8 L169.1,176.6 L169.6,177.4 L170.1,178.3 L170.6,179.2 L171.1,180.1 L171.6,181.0 L172.1,182.0 L172.6,183.0 L173.1,184.0 L173.6,185.1 L174.1,186.1 L174.6,187.2 L175.1,188.4 L175.6,189.6 L176.1,190.8 L176.6,192.1 L177.1,193.4 L177.6,194.7 L178.1,195.9 L178.6,197.1 L179.1,198.3 L179.6,199.3 L180.1,200.3 L180.6,201.2 L181.1,202.1 L181.6,202.9 L182.1,203.7 L182.6,204.4 L183.1,205.1 L183.6,205.8 L184.1,206.5 L184.6,207.1 L185.1,207.7 L185.6,208.3 L186.1,208.9 L186.6,209.5 L187.1,210.1 L187.6,210.7 L188.1,211.3 L188.6,211.8 L189.1,212.4 L189.6,213.0 L190.1,213.5 L190.6,214.1 L191.1,214.6 L191.6,215.1 L192.1,215.6 L192.6,216.1 L193.1,216.5 L193.6,217.0 L194.1,217.4 L194.6,217.9 L195.1,218.3 L195.6,218.7 L196.1,219.1 L196.6,219.4 L197.1,219.8 L197.6,220.2 L198.1,220.5 L198.6,220.9 L199.1,221.2 L199.6,221.6 L200.1,221.9 L200.6,222.2 L201.1,222.5 L201.6,222.7 L202.1,223.0 L202.6,223.2 L203.1,223.4 L203.6,223.5 L204.1,223.7 L204.6,223.8 L205.1,223.9 L205.6,223.9 L206.1,224.0 L206.6,224.0 L207.1,224.0 L207.6,224.0 L208.1,223.9 L208.6,223.9 L209.1,223.8 L209.6,223.8 L210.1,223.7 L210.6,223.6 L211.1,223.4 L211.6,223.3 L212.1,223.1 L212.6,223.0 L213.1,222.8 L213.6,222.6 L214.1,222.4 L214.6,222.2 L215.1,221.9 L215.6,221.7 L216.1,221.5 L216.6,221.2 L217.1,221.0 L217.6,220.7 L218.1,220.5 L218.6,220.2 L219.1,219.9 L219.6,219.6 L220.1,219.3 L220.6,219.0 L221.1,218.7 L221.6,218.4 L222.1,218.1 L222.6,217.8 L223.1,217.5 L223.6,217.2 L224.1,216.8 L224.6,216.5 L225.1,216.2 L225.6,215.9 L226.1,215.6 L226.6,215.3 L227.1,214.9 L227.6,214.6 L228.1,214.3 L228.6,213.9 L229.1,213.6 L229.6,213.3 L230.1,212.9 L230.6,212.6 L231.1,212.3 L231.6,211.9 L232.1,211.6 L232.6,211.3 L233.1,210.9 L233.6,210.6 L234.1,210.3 L234.6,209.9 L235.1,209.6 L235.6,209.3 L236.1,209.0 L236.6,208.6 L237.1,208.3 L237.6,208.0 L238.1,207.7 L238.6,207.4 L239.1,207.1 L239.6,206.8 L240.1,206.5 L240.6,206.3 L241.1,206.0 L241.6,205.7 L242.1,205.5 L242.6,205.3 L243.1,205.0 L243.6,204.8 L244.1,204.6 L244.6,204.4 L245.1,204.3 L245.6,204.1 L246.1,204.0 L246.6,203.8 L247.1,203.7 L247.6,203.6 L248.1,203.5 L248.6,203.3 L249.1,203.2 L249.6,203.1 L250.1,203.0 L250.6,202.9 L251.1,202.9 L251.6,202.8 L252.1,202.7 L252.6,202.6 L253.1,202.5 L253.6,202.4 L254.1,202.3 L254.6,202.3 L255.1,202.2 L255.6,202.1 L256.1,202.0 L256.6,202.0 L257.1,201.9 L257.6,201.9 L258.1,201.8 L258.6,201.7 L259.1,201.7 L259.6,201.6 L260.1,201.6 L260.6,201.5 L261.1,201.5 L261.6,201.4 L262.1,201.4 L262.6,201.4 L263.1,201.3 L263.6,201.3 L264.1,201.3 L264.6,201.2 L265.1,201.2 L265.6,201.2 L266.1,201.2 L266.6,201.2 L267.1,201.2 L267.6,201.2 L268.1,201.2 L268.6,201.3 L269.1,201.3 L269.6,201.3 L270.1,201.3 L270.6,201.4 L271.1,201.4 L271.6,201.4 L272.1,201.4 L272.6,201.5 L273.1,201.5 L273.6,201.6 L274.1,201.6 L274.6,201.6 L275.1,201.7 L275.6,201.7 L276.1,201.8 L276.6,201.9 L277.1,201.9 L277.6,202.0 L278.1,202.0 L278.6,202.1 L279.1,202.1 L279.6,202.2 L280.1,202.2 L280.6,202.2 L281.1,202.3 L281.6,202.3 L282.1,202.3 L282.6,202.3 L283.1,202.3 L283.6,202.2 L284.1,202.2 L284.6,202.2 L285.1,202.1 L285.6,202.0 L286.1,201.9 L286.6,201.9 L287.1,201.8 L287.6,201.6 L288.1,201.5 L288.6,201.3 L289.1,201.1 L289.6,200.9 L290.1,200.7 L290.6,200.5 L291.1,200.2 L291.6,199.9 L292.1,199.6 L292.6,199.3 L293.1,199.0 L293.6,198.7 L294.1,198.4 L294.6,198.0 L295.1,197.7 L295.6,197.3 L296.1,196.9 L296.6,196.5 L297.1,196.2 L297.6,195.7 L298.1,195.3 L298.6,194.9 L299.1,194.5 L299.6,194.1 L300.1,193.6 L300.6,193.2 L301.1,192.7 L301.6,192.3 L302.1,191.8 L302.6,191.3 L303.1,190.9 L303.6,190.4 L304.1,189.9 L304.6,189.4 L305.1,188.9 L305.6,188.4 L306.1,187.8 L306.6,187.3 L307.1,186.8 L307.6,186.3 L308.1,185.7 L308.6,185.2 L309.1,184.6 L309.6,184.1 L310.1,183.5 L310.6,183.0 L311.1,182.4 L311.6,181.8 L312.1,181.2 L312.6,180.7 L313.1,180.1 L313.6,179.5 L314.1,178.9 L314.6,178.2 L315.1,177.6 L315.6,176.9 L316.1,176.2 L316.6,175.5 L317.1,174.8 L317.6,174.0 L318.1,173.3 L318.6,172.5 L319.1,171.6 L319.6,170.8 L320.1,170.0 L320.6,169.1 L321.1,168.2 L321.6,167.4 L322.1,166.5 L322.6,165.6 L323.1,164.7 L323.6,163.8 L324.1,163.0 L324.6,162.1 L325.1,161.2 L325.6,160.4 L326.1,159.5 L326.6,158.6 L327.1,157.8 L327.6,156.9 L328.1,156.0 L328.6,155.2 L329.1,154.3 L329.6,153.5 L330.1,152.6 L330.6,151.7 L331.1,150.9 L331.6,150.0 L332.1,149.2 L332.6,148.3 L333.1,147.5 L333.6,146.7 L334.1,145.8 L334.6,145.0 L335.1,144.3 L335.6,143.5 L336.1,142.7 L336.6,142.0 L337.1,141.3 L337.6,140.6 L338.1,139.9 L338.6,139.2 L339.1,138.6 L339.6,137.9 L340.1,137.3 L340.6,136.8 L341.1,136.2 L341.6,135.7 L342.1,135.2 L342.6,134.8 L343.1,134.3 L343.6,133.9 L344.1,133.5 L344.6,133.2 L345.1,132.8 L345.6,132.5 L346.1,132.2 L346.6,131.9 L347.1,131.6 L347.6,131.4 L348.1,131.1 L348.6,130.9 L349.1,130.6 L349.6,130.4 L350.1,130.2 L350.6,130.0 L351.1,129.8 L351.6,129.6 L352.1,129.4 L352.6,129.3 L353.1,129.1 L353.6,129.0 L354.1,128.8 L354.6,128.7 L355.1,128.6 L355.6,128.5 L356.1,128.4 L356.6,128.3 L357.1,128.2 L357.6,128.2 L358.1,128.1 L358.6,128.0 L359.1,128.0 L359.6,128.0 L360.1,128.0 L360.6,127.9 L361.1,128.0 L361.6,128.0 L362.1,128.0 L362.6,128.0 L363.1,128.1 L363.6,128.1 L364.1,128.2 L364.6,128.3 L365.1,128.3 L365.6,128.4 L366.1,128.5 L366.6,128.6 L367.1,128.8 L367.6,128.9 L368.1,129.1 L368.6,129.2 L369.1,129.4 L369.6,129.6 L370.1,129.9 L370.6,130.1 L371.1,130.4 L371.6,130.7 L372.1,130.9 L372.6,131.2 L373.1,131.6 L373.6,131.9 L374.1,132.2 L374.6,132.6 L375.1,132.9 L375.6,133.3 L376.1,133.8 L376.6,134.2 L377.1,134.7 L377.6,135.2 L378.1,135.7 L378.6,136.2 L379.1,136.8 L379.6,137.4 L380.1,138.1 L380.6,138.7 L381.1,139.4 L381.6,140.1 L382.1,140.9 L382.6,141.7 L383.1,142.5 L383.6,143.4 L384.1,144.3 L384.6,145.3 L385.1,146.3 L385.6,147.3 L386.1,148.4 L386.6,149.4 L387.1,150.6 L387.6,151.7 L388.1,152.9 L388.6,154.1 L389.1,155.4 L389.6,156.7 L390.1,158.0 L390.6,159.4 L391.1,160.8 L391.6,162.3 L392.1,163.9 L392.6,165.5 L393.1,167.2 L393.6,169.0 L394.1,170.8 L394.6,172.7 L395.1,174.6 L395.6,176.6 L396.1,178.5 L396.6,180.5 L397.1,182.5 L397.6,184.3 L398.1,186.1 L398.6,187.9 L399.1,189.5 L399.6,191.1 L400.1,192.7 L400.6,194.3 L401.1,195.8 L401.6,197.4 L402.1,198.9 L402.6,200.4 L403.1,201.9 L403.6,203.4 L404.1,204.9 L404.6,206.4 L405.1,207.9 L405.6,209.4 L406.1,210.9 L406.6,212.3 L407.1,213.8 L407.6,215.2 L408.1,216.7 L408.6,218.1 L409.1,219.5 L409.6,220.8 L410.1,222.1 L410.6,223.4 L411.1,224.6 L411.6,225.8 L412.1,226.9 L412.6,228.0 L413.1,229.1 L413.6,230.1 L414.1,231.1 L414.6,232.1 L415.1,233.1 L415.6,234.0 L416.1,235.0 L416.6,235.9 L417.1,236.8 L417.6,237.6 L418.1,238.5 L418.6,239.3 L419.1,240.2 L419.6,241.0 L420.1,241.8 L420.6,242.6 L421.1,243.4 L421.6,244.1 L422.1,244.9 L422.6,245.6 L423.1,246.3 L423.6,247.0 L424.1,247.7 L424.6,248.4 L425.1,249.1 L425.6,249.7 L426.1,250.4 L426.6,251.0 L427.1,251.6 L427.6,252.2 L428.1,252.8 L428.6,253.3 L429.1,253.8 L429.6,254.3 L430.1,254.8 L430.6,255.3 L431.1,255.7 L431.6,256.2 L432.1,256.6 L432.6,257.0 L433.1,257.3 L433.6,257.6 L434.1,257.9 L434.6,258.2 L435.1,258.5 L435.6,258.8 L436.1,259.0 L436.6,259.2 L437.1,259.4 L437.6,259.7 L438.1,259.9 L438.6,260.1 L439.1,260.2 L439.6,260.4 L440.1,260.6 L440.6,260.8 L441.1,260.9 L441.6,261.1 L442.1,261.2 L442.6,261.4 L443.1,261.5 L443.6,261.7 L444.1,261.8 L444.6,261.9 L445.1,262.1 L445.6,262.2 L446.1,262.3 L446.6,262.4 L447.1,262.6 L447.6,262.7 L448.1,262.8 L448.6,262.9 L449.1,263.1 L449.6,263.2 L450.1,263.3 L450.6,263.4 L451.1,263.5 L451.6,263.6 L452.1,263.6 L452.6,263.7 L453.1,263.8 L453.6,263.9 L454.1,263.9 L454.6,264.0 L455.1,264.1 L455.6,264.2 L456.1,264.2 L456.6,264.3 L457.1,264.4 L457.6,264.4 L458.1,264.5 L458.6,264.6 L459.1,264.6 L459.6,264.7 L460.1,264.8 L460.6,264.8 L461.1,264.9 L461.6,264.9 L462.1,265.0 L462.6,265.1 L463.1,265.1 L463.6,265.2 L464.1,265.2 L464.6,265.3 L465.1,265.3 L465.6,265.4 L466.1,265.4 L466.6,265.5 L467.1,265.5 L467.6,265.6 L468.1,265.6 L468.6,265.7 L469.1,265.7 L469.6,265.8 L470.1,265.8 L470.6,265.8 L471.1,265.9 L471.6,265.9 L472.1,266.0 L472.6,266.0 L473.1,266.0 L473.6,266.1 L474.1,266.1 L474.6,266.2 L475.1,266.2 L475.6,266.2 L476.1,266.3 L476.6,266.3 L477.1,266.4 L477.6,266.4 L478.1,266.4 L478.6,266.5 L479.1,266.5 L479.6,266.5 L480.1,266.6 L480.6,266.6 L481.1,266.6 L481.6,266.7 L482.1,266.7 L482.6,266.7 L483.1,266.8 L483.6,266.8 L484.1,266.8 L484.6,266.9 L485.1,266.9 L485.6,266.9 L486.1,267.0 L486.6,267.0 L487.1,267.0 L487.6,267.1 L488.1,267.1 L488.6,267.1 L489.1,267.2 L489.6,267.2 L490.1,267.2 L490.6,267.2 L491.1,267.3 L491.6,267.3 L492.1,267.3 L492.6,267.3 L493.1,267.4 L493.6,267.4 L494.1,267.4 L494.6,267.4 L495.1,267.5 L495.6,267.5 L496.1,267.5 L496.6,267.5 L497.1,267.5 L497.6,267.6 L498.1,267.6 L498.6,267.6 L499.1,267.6 L499.6,267.7 L500.1,267.7 L500.6,267.7 L501.1,267.7 L501.6,267.7 L502.1,267.8 L502.6,267.8 L503.1,267.8 L503.6,267.8 L504.1,267.8 L504.6,267.9 L505.1,267.9 L505.6,267.9 L506.1,267.9 L506.6,267.9 L507.1,267.9 L507.6,268.0 L508.1,268.0 L508.6,268.0 L509.0,268.0" stroke="#ff0090"/>
<path d="M48.6,63.2 L49.1,63.0 L49.6,62.8 L50.1,62.6 L50.6,62.4 L51.1,62.2 L51.6,62.0 L52.1,61.8 L52.6,61.7 L53.1,61.5 L53.6,61.3 L54.1,61.2 L54.6,61.0 L55.1,60.9 L55.6,60.8 L56.1,60.7 L56.6,60.6 L57.1,60.5 L57.6,60.5 L58.1,60.5 L58.6,60.5 L59.1,60.5 L59.6,60.6 L60.1,60.8 L60.6,61.0 L61.1,61.3 L61.6,61.6 L62.1,62.0 L62.6,62.4 L63.1,62.8 L63.6,63.3 L64.1,63.8 L64.6,64.4 L65.1,65.0 L65.6,65.5 L66.1,66.1 L66.6,66.8 L67.1,67.4 L67.6,68.0 L68.1,68.7 L68.6,69.5 L69.1,70.2 L69.6,71.1 L70.1,72.0 L70.6,73.0 L71.1,74.0 L71.6,75.2 L72.1,76.4 L72.6,77.7 L73.1,79.0 L73.6,80.3 L74.1,81.7 L74.6,83.0 L75.1,84.4 L75.6,85.7 L76.1,87.1 L76.6,88.4 L77.1,89.8 L77.6,91.2 L78.1,92.5 L78.6,93.9 L79.1,95.2 L79.6,96.6 L80.1,98.0 L80.6,99.3 L81.1,100.7 L81.6,102.0 L82.1,103.4 L82.6,104.7 L83.1,106.1 L83.6,107.4 L84.1,108.8 L84.6,110.1 L85.1,111.5 L85.6,112.8 L86.1,114.2 L86.6,115.5 L87.1,116.9 L87.6,118.2 L88.1,119.5 L88.6,120.8 L89.1,122.1 L89.6,123.3 L90.1,124.4 L90.6,125.5 L91.1,126.5 L91.6,127.5 L92.1,128.3 L92.6,129.1 L93.1,129.8 L93.6,130.4 L94.1,131.0 L94.6,131.6 L95.1,132.1 L95.6,132.6 L96.1,133.0 L96.6,133.4 L97.1,133.8 L97.6,134.2 L98.1,134.6 L98.6,135.0 L99.1,135.3 L99.6,135.7 L100.1,136.1 L100.6,136.4 L101.1,136.8 L101.6,137.1 L102.1,137.4 L102.6,137.8 L103.1,138.1 L103.6,138.4 L104.1,138.8 L104.6,139.1 L105.1,139.4 L105.6,139.7 L106.1,140.1 L106.6,140.4 L107.1,140.8 L107.6,141.1 L108.1,141.5 L108.6,141.9 L109.1,142.3 L109.6,142.7 L110.1,143.1 L110.6,143.5 L111.1,144.0 L111.6,144.5 L112.1,144.9 L112.6,145.4 L113.1,146.0 L113.6,146.5 L114.1,147.0 L114.6,147.6 L115.1,148.2 L115.6,148.7 L116.1,149.3 L116.6,149.9 L117.1,150.6 L117.6,151.2 L118.1,151.9 L118.6,152.6 L119.1,153.4 L119.6,154.1 L120.1,154.9 L120.6,155.6 L121.1,156.4 L121.6,157.1 L122.1,157.8 L122.6,158.5 L123.1,159.1 L123.6,159.7 L124.1,160.3 L124.6,160.8 L125.1,161.3 L125.6,161.7 L126.1,162.1 L126.6,162.5 L127.1,162.9 L127.6,163.3 L128.1,163.6 L128.6,164.0 L129.1,164.3 L129.6,164.7 L130.1,165.0 L130.6,165.3 L131.1,165.7 L131.6,166.0 L132.1,166.3 L132.6,166.6 L133.1,166.8 L133.6,167.1 L134.1,167.3 L134.6,167.5 L135.1,167.6 L135.6,167.8 L136.1,167.9 L136.6,167.9 L137.1,167.9 L137.6,167.9 L138.1,167.9 L138.6,167.9 L139.1,167.8 L139.6,167.8 L140.1,167.7 L140.6,167.6 L141.1,167.6 L141.6,167.5 L142.1,167.4 L142.6,167.3 L143.1,167.3 L143.6,167.2 L144.1,167.1 L144.6,167.0 L145.1,167.0 L145.6,166.9 L146.1,166.8 L146.6,166.7 L147.1,166.6 L147.6,166.6 L148.1,166.5 L148.6,166.4 L149.1,166.3 L149.6,166.2 L150.1,166.2 L150.6,166.1 L151.1,166.0 L151.6,165.9 L152.1,165.8 L152.6,165.7 L153.1,165.6 L153.6,165.6 L154.1,165.5 L154.6,165.4 L155.1,165.3 L155.6,165.2 L156.1,165.2 L156.6,165.1 L157.1,165.1 L157.6,165.1 L158.1,165.2 L158.6,165.2 L159.1,165.3 L159.6,165.5 L160.1,165.6 L160.6,165.9 L161.1,166.1 L161.6,166.4 L162.1,166.7 L162.6,167.0 L163.1,167.4 L163.6,167.8 L164.1,168.2 L164.6,168.7 L165.1,169.2 L165.6,169.7 L166.1,170.3 L166.6,170.9 L167.1,171.5 L167.6,172.1 L168.1,172.8 L168.6,173.5 L169.1,174.2 L169.6,174.9 L170.1,175.6 L170.6,176.3 L171.1,177.1 L171.6,177.8 L172.1,178.6 L172.6,179.4 L173.1,180.2 L173.6,181.0 L174.1,181.8 L174.6,182.7 L175.1,183.7 L175.6,184.7 L176.1,185.9 L176.6,187.1 L177.1,188.4 L177.6,189.7 L178.1,191.1 L178.6,192.4 L179.1,193.7 L179.6,194.8 L180.1,195.9 L180.6,196.9 L181.1,197.8 L181.6,198.6 L182.1,199.4 L182.6,200.2 L183.1,200.9 L183.6,201.7 L184.1,202.3 L184.6,203.0 L185.1,203.7 L185.6,204.3 L186.1,204.9 L186.6,205.5 L187.1,206.0 L187.6,206.6 L188.1,207.1 L188.6,207.6 L189.1,208.1 L189.6,208.6 L190.1,209.1 L190.6,209.5 L191.1,210.0 L191.6,210.4 L192.1,210.8 L192.6,211.3 L193.1,211.7 L193.6,212.0 L194.1,212.4 L194.6,212.7 L195.1,213.0 L195.6,213.3 L196.1,213.5 L196.6,213.7 L197.1,213.9 L197.6,214.0 L198.1,214.1 L198.6,214.2 L199.1,214.2 L199.6,214.3 L200.1,214.3 L200.6,214.3 L201.1,214.2 L201.6,214.2 L202.1,214.1 L202.6,214.0 L203.1,213.9 L203.6,213.8 L204.1,213.7 L204.6,213.6 L205.1,213.5 L205.6,213.3 L206.1,213.2 L206.6,213.0 L207.1,212.9 L207.6,212.7 L208.1,212.5 L208.6,212.4 L209.1,212.2 L209.6,212.0 L210.1,211.8 L210.6,211.6 L211.1,211.4 L211.6,211.2 L212.1,211.0 L212.6,210.8 L213.1,210.6 L213.6,210.4 L214.1,210.2 L214.6,210.0 L215.1,209.8 L215.6,209.6 L216.1,209.3 L216.6,209.1 L217.1,208.9 L217.6,208.6 L218.1,208.4 L218.6,208.1 L219.1,207.9 L219.6,207.6 L220.1,207.4 L220.6,207.1 L221.1,206.8 L221.6,206.5 L222.1,206.2 L222.6,205.9 L223.1,205.6 L223.6,205.3 L224.1,205.0 L224.6,204.6 L225.1,204.3 L225.6,203.9 L226.1,203.6 L226.6,203.3 L227.1,202.9 L227.6,202.6 L228.1,202.3 L228.6,202.0 L229.1,201.6 L229.6,201.3 L230.1,201.0 L230.6,200.7 L231.1,200.4 L231.6,200.1 L232.1,199.8 L232.6,199.5 L233.1,199.2 L233.6,199.0 L234.1,198.7 L234.6,198.4 L235.1,198.1 L235.6,197.8 L236.1,197.6 L236.6,197.3 L237.1,197.0 L237.6,196.7 L238.1,196.5 L238.6,196.2 L239.1,196.0 L239.6,195.7 L240.1,195.5 L240.6,195.3 L241.1,195.0 L241.6,194.8 L242.1,194.7 L242.6,194.5 L243.1,194.4 L243.6,194.2 L244.1,194.1 L244.6,194.0 L245.1,194.0 L245.6,193.9 L246.1,193.9 L246.6,193.8 L247.1,193.8 L247.6,193.8 L248.1,193.8 L248.6,193.9 L249.1,193.9 L249.6,193.9 L250.1,194.0 L250.6,194.0 L251.1,194.1 L251.6,194.1 L252.1,194.2 L252.6,194.3 L253.1,194.4 L253.6,194.4 L254.1,194.5 L254.6,194.6 L255.1,194.7 L255.6,194.8 L256.1,195.0 L256.6,195.1 L257.1,195.2 L257.6,195.3 L258.1,195.5 L258.6,195.6 L259.1,195.7 L259.6,195.9 L260.1,196.1 L260.6,196.2 L261.1,196.4 L261.6,196.6 L262.1,196.8 L262.6,196.9 L263.1,197.1 L263.6,197.4 L264.1,197.6 L264.6,197.8 L265.1,198.0 L265.6,198.2 L266.1,198.4 L266.6,198.6 L267.1,198.8 L267.6,199.0 L268.1,199.2 L268.6,199.4 L269.1,199.6 L269.6,199.8 L270.1,199.9 L270.6,200.1 L271.1,200.2 L271.6,200.4 L272.1,200.5 L272.6,200.6 L273.1,200.7 L273.6,200.8 L274.1,200.9 L274.6,201.0 L275.1,201.1 L275.6,201.2 L276.1,201.3 L276.6,201.3 L277.1,201.4 L277.6,201.5 L278.1,201.6 L278.6,201.7 L279.1,201.8 L279.6,201.9 L280.1,202.0 L280.6,202.1 L281.1,202.3 L281.6,202.4 L282.1,202.5 L282.6,202.7 L283.1,202.8 L283.6,202.9 L284.1,203.1 L284.6,203.2 L285.1,203.3 L285.6,203.4 L286.1,203.4 L286.6,203.5 L287.1,203.5 L287.6,203.5 L288.1,203.4 L288.6,203.4 L289.1,203.3 L289.6,203.2 L290.1,203.1 L290.6,202.9 L291.1,202.8 L291.6,202.6 L292.1,202.5 L292.6,202.3 L293.1,202.2 L293.6,202.0 L294.1,201.9 L294.6,201.7 L295.1,201.5 L295.6,201.4 L296.1,201.2 L296.6,201.0 L297.1,200.8 L297.6,200.6 L298.1,200.4 L298.6,200.2 L299.1,200.0 L299.6,199.8 L300.1,199.6 L300.6,199.4 L301.1,199.2 L301.6,199.0 L302.1,198.7 L302.6,198.5 L303.1,198.3 L303.6,198.0 L304.1,197.8 L304.6,197.5 L305.1,197.3 L305.6,197.0 L306.1,196.8 L306.6,196.5 L307.1,196.2 L307.6,196.0 L308.1,195.7 L308.6,195.4 L309.1,195.2 L309.6,194.9 L310.1,194.6 L310.6,194.3 L311.1,194.0 L311.6,193.7 L312.1,193.4 L312.6,193.1 L313.1,192.8 L313.6,192.4 L314.1,192.1 L314.6,191.8 L315.1,191.4 L315.6,191.0 L316.1,190.7 L316.6,190.3 L317.1,189.9 L317.6,189.5 L318.1,189.1 L318.6,188.6 L319.1,188.2 L319.6,187.7 L320.1,187.3 L320.6,186.8 L321.1,186.3 L321.6,185.8 L322.1,185.3 L322.6,184.8 L323.1,184.3 L323.6,183.8 L324.1,183.3 L324.6,182.8 L325.1,182.3 L325.6,181.8 L326.1,181.3 L326.6,180.8 L327.1,180.2 L327.6,179.7 L328.1,179.2 L328.6,178.6 L329.1,178.1 L329.6,177.5 L330.1,177.0 L330.6,176.4 L331.1,175.9 L331.6,175.3 L332.1,174.8 L332.6,174.2 L333.1,173.7 L333.6,173.2 L334.1,172.6 L334.6,172.1 L335.1,171.5 L335.6,171.0 L336.1,170.4 L336.6,169.9 L337.1,169.3 L337.6,168.8 L338.1,168.2 L338.6,167.7 L339.1,167.1 L339.6,166.6 L340.1,166.1 L340.6,165.5 L341.1,165.0 L341.6,164.5 L342.1,164.0 L342.6,163.5 L343.1,163.1 L343.6,162.7 L344.1,162.3 L344.6,162.0 L345.1,161.6 L345.6,161.4 L346.1,161.1 L346.6,160.8 L347.1,160.6 L347.6,160.3 L348.1,160.1 L348.6,159.9 L349.1,159.7 L349.6,159.4 L350.1,159.2 L350.6,159.0 L351.1,158.9 L351.6,158.7 L352.1,158.5 L352.6,158.3 L353.1,158.2 L353.6,158.1 L354.1,157.9 L354.6,157.8 L355.1,157.7 L355.6,157.6 L356.1,157.5 L356.6,157.4 L357.1,157.4 L357.6,157.3 L358.1,157.3 L358.6,157.2 L359.1,157.2 L359.6,157.2 L360.1,157.3 L360.6,157.3 L361.1,157.3 L361.6,157.4 L362.1,157.4 L362.6,157.5 L363.1,157.6 L363.6,157.7 L364.1,157.8 L364.6,157.9 L365.1,158.0 L365.6,158.2 L366.1,158.3 L366.6,158.5 L367.1,158.6 L367.6,158.8 L368.1,158.9 L368.6,159.1 L369.1,159.2 L369.6,159.4 L370.1,159.6 L370.6,159.8 L371.1,160.0 L371.6,160.2 L372.1,160.4 L372.6,160.6 L373.1,160.8 L373.6,161.0 L374.1,161.2 L374.6,161.5 L375.1,161.7 L375.6,162.0 L376.1,162.2 L376.6,162.5 L377.1,162.8 L377.6,163.0 L378.1,163.3 L378.6,163.6 L379.1,163.9 L379.6,164.2 L380.1,164.5 L380.6,164.9 L381.1,165.2 L381.6,165.6 L382.1,166.1 L382.6,166.5 L383.1,167.0 L383.6,167.5 L384.1,168.0 L384.6,168.6 L385.1,169.2 L385.6,169.9 L386.1,170.6 L386.6,171.3 L387.1,172.1 L387.6,172.9 L388.1,173.7 L388.6,174.5 L389.1,175.3 L389.6,176.2 L390.1,177.0 L390.6,177.9 L391.1,178.8 L391.6,179.7 L392.1,180.6 L392.6,181.6 L393.1,182.6 L393.6,183.8 L394.1,184.9 L394.6,186.2 L395.1,187.4 L395.6,188.7 L396.1,190.1 L396.6,191.4 L397.1,192.8 L397.6,194.2 L398.1,195.5 L398.6,196.9 L399.1,198.3 L399.6,199.6 L400.1,201.0 L400.6,202.4 L401.1,203.7 L401.6,205.1 L402.1,206.4 L402.6,207.7 L403.1,209.1 L403.6,210.4 L404.1,211.7 L404.6,213.1 L405.1,214.4 L405.6,215.7 L406.1,217.0 L406.6,218.3 L407.1,219.6 L407.6,220.9 L408.1,222.2 L408.6,223.4 L409.1,224.6 L409.6,225.7 L410.1,226.8 L410.6,227.8 L411.1,228.8 L411.6,229.7 L412.1,230.6 L412.6,231.5 L413.1,232.2 L413.6,233.0 L414.1,233.7 L414.6,234.3 L415.1,235.0 L415.6,235.5 L416.1,236.1 L416.6,236.6 L417.1,237.1 L417.6,237.5 L418.1,238.0 L418.6,238.4 L419.1,238.8 L419.6,239.2 L420.1,239.6 L420.6,239.9 L421.1,240.3 L421.6,240.7 L422.1,241.0 L422.6,241.4 L423.1,241.7 L423.6,242.0 L424.1,242.4 L424.6,242.7 L425.1,243.0 L425.6,243.3 L426.1,243.6 L426.6,243.8 L427.1,244.1 L427.6,244.4 L428.1,244.6 L428.6,244.8 L429.1,245.1 L429.6,245.3 L430.1,245.5 L430.6,245.7 L431.1,245.9 L431.6,246.1 L432.1,246.4 L432.6,246.6 L433.1,246.8 L433.6,247.0 L434.1,247.2 L434.6,247.4 L435.1,247.6 L435.6,247.8 L436.1,248.0 L436.6,248.2 L437.1,248.4 L437.6,248.6 L438.1,248.8 L438.6,249.0 L439.1,249.2 L439.6,249.4 L440.1,249.6 L440.6,249.8 L441.1,250.0 L441.6,250.2 L442.1,250.4 L442.6,250.5 L443.1,250.7 L443.6,250.9 L444.1,251.1 L444.6,251.2 L445.1,251.4 L445.6,251.6 L446.1,251.7 L446.6,251.9 L447.1,252.1 L447.6,252.2 L448.1,252.4 L448.6,252.6 L449.1,252.7 L449.6,252.9 L450.1,253.0 L450.6,253.2 L451.1,253.4 L451.6,253.5 L452.1,253.7 L452.6,253.8 L453.1,254.0 L453.6,254.1 L454.1,254.3 L454.6,254.5 L455.1,254.6 L455.6,254.8 L456.1,254.9 L456.6,255.1 L457.1,255.2 L457.6,255.4 L458.1,255.5 L458.6,255.7 L459.1,255.8 L459.6,256.0 L460.1,256.1 L460.6,256.3 L461.1,256.4 L461.6,256.6 L462.1,256.7 L462.6,256.8 L463.1,257.0 L463.6,257.1 L464.1,257.3 L464.6,257.4 L465.1,257.5 L465.6,257.7 L466.1,257.8 L466.6,258.0 L467.1,258.1 L467.6,258.2 L468.1,258.4 L468.6,258.5 L469.1,258.6 L469.6,258.8 L470.1,258.9 L470.6,259.0 L471.1,259.2 L471.6,259.3 L472.1,259.4 L472.6,259.6 L473.1,259.7 L473.6,259.8 L474.1,260.0 L474.6,260.1 L475.1,260.2 L475.6,260.3 L476.1,260.5 L476.6,260.6 L477.1,260.7 L477.6,260.8 L478.1,261.0 L478.6,261.1 L479.1,261.2 L479.6,261.3 L480.1,261.4 L480.6,261.6 L481.1,261.7 L481.6,261.8 L482.1,261.9 L482.6,262.0 L483.1,262.1 L483.6,262.3 L484.1,262.4 L484.6,262.5 L485.1,262.6 L485.6,262.7 L486.1,262.8 L486.6,262.9 L487.1,263.0 L487.6,263.1 L488.1,263.2 L488.6,263.3 L489.1,263.4 L489.6,263.5 L490.1,263.6 L490.6,263.7 L491.1,263.8 L491.6,263.9 L492.1,264.0 L492.6,264.1 L493.1,264.2 L493.6,264.3 L494.1,264.4 L494.6,264.5 L495.1,264.5 L495.6,264.6 L496.1,264.7 L496.6,264.8 L497.1,264.9 L497.6,265.0 L498.1,265.0 L498.6,265.1 L499.1,265.2 L499.6,265.3 L500.1,265.4 L500.6,265.4 L501.1,265.5 L501.6,265.6 L502.1,265.6 L502.6,265.7 L503.1,265.8 L503.6,265.8 L504.1,265.9 L504.6,265.9 L505.1,266.0 L505.6,266.1 L506.1,266.1 L506.6,266.2 L507.1,266.2 L507.6,266.3 L508.1,266.3 L508.6,266.4 L509.1,266.4 L509.4,266.5" stroke="#008000"/>
<path d="M48.6,73.5 L49.1,73.3 L49.6,73.2 L50.1,73.0 L50.6,72.9 L51.1,72.8 L51.6,72.7 L52.1,72.6 L52.6,72.5 L53.1,72.4 L53.6,72.3 L54.1,72.2 L54.6,72.2 L55.1,72.1 L55.6,72.1 L56.1,72.1 L56.6,72.0 L57.1,72.0 L57.6,72.0 L58.1,72.0 L58.6,72.0 L59.1,72.0 L59.6,72.0 L60.1,72.1 L60.6,72.1 L61.1,72.1 L61.6,72.2 L62.1,72.2 L62.6,72.2 L63.1,72.3 L63.6,72.3 L64.1,72.4 L64.6,72.4 L65.1,72.5 L65.6,72.6 L66.1,72.7 L66.6,72.9 L67.1,73.0 L67.6,73.2 L68.1,73.5 L68.6,73.8 L69.1,74.2 L69.6,74.6 L70.1,75.1 L70.6,75.7 L71.1,76.4 L71.6,77.1 L72.1,77.9 L72.6,78.7 L73.1,79.6 L73.6,80.6 L74.1,81.6 L74.6,82.5 L75.1,83.5 L75.6,84.5 L76.1,85.5 L76.6,86.4 L77.1,87.3 L77.6,88.2 L78.1,89.0 L78.6,89.8 L79.1,90.6 L79.6,91.4 L80.1,92.2 L80.6,93.0 L81.1,93.8 L81.6,94.5 L82.1,95.3 L82.6,96.0 L83.1,96.8 L83.6,97.5 L84.1,98.3 L84.6,99.0 L85.1,99.7 L85.6,100.4 L86.1,101.1 L86.6,101.8 L87.1,102.4 L87.6,103.1 L88.1,103.7 L88.6,104.3 L89.1,105.0 L89.6,105.6 L90.1,106.2 L90.6,106.9 L91.1,107.5 L91.6,108.2 L92.1,108.8 L92.6,109.5 L93.1,110.2 L93.6,110.9 L94.1,111.6 L94.6,112.4 L95.1,113.2 L95.6,114.0 L96.1,114.8 L96.6,115.6 L97.1,116.4 L97.6,117.2 L98.1,118.0 L98.6,118.8 L99.1,119.5 L99.6,120.2 L100.1,120.8 L100.6,121.5 L101.1,122.0 L101.6,122.6 L102.1,123.2 L102.6,123.7 L103.1,124.3 L103.6,124.8 L104.1,125.3 L104.6,125.9 L105.1,126.4 L105.6,126.9 L106.1,127.5 L106.6,128.0 L107.1,128.6 L107.6,129.1 L108.1,129.7 L108.6,130.3 L109.1,130.9 L109.6,131.5 L110.1,132.1 L110.6,132.7 L111.1,133.2 L111.6,133.8 L112.1,134.4 L112.6,135.0 L113.1,135.6 L113.6,136.2 L114.1,136.8 L114.6,137.5 L115.1,138.1 L115.6,138.7 L116.1,139.3 L116.6,139.9 L117.1,140.6 L117.6,141.2 L118.1,141.8 L118.6,142.5 L119.1,143.2 L119.6,143.8 L120.1,144.5 L120.6,145.1 L121.1,145.8 L121.6,146.5 L122.1,147.1 L122.6,147.8 L123.1,148.4 L123.6,149.1 L124.1,149.7 L124.6,150.3 L125.1,151.0 L125.6,151.6 L126.1,152.1 L126.6,152.7 L127.1,153.3 L127.6,153.9 L128.1,154.4 L128.6,154.9 L129.1,155.5 L129.6,156.0 L130.1,156.5 L130.6,157.0 L131.1,157.5 L131.6,158.0 L132.1,158.5 L132.6,159.0 L133.1,159.4 L133.6,159.8 L134.1,160.3 L134.6,160.7 L135.1,161.1 L135.6,161.5 L136.1,161.8 L136.6,162.2 L137.1,162.6 L137.6,162.9 L138.1,163.2 L138.6,163.6 L139.1,163.9 L139.6,164.2 L140.1,164.5 L140.6,164.8 L141.1,165.0 L141.6,165.3 L142.1,165.5 L142.6,165.8 L143.1,166.0 L143.6,166.1 L144.1,166.3 L144.6,166.4 L145.1,166.5 L145.6,166.6 L146.1,166.6 L146.6,166.7 L147.1,166.7 L147.6,166.7 L148.1,166.7 L148.6,166.7 L149.1,166.6 L149.6,166.6 L150.1,166.6 L150.6,166.5 L151.1,166.5 L151.6,166.4 L152.1,166.4 L152.6,166.4 L153.1,166.3 L153.6,166.3 L154.1,166.3 L154.6,166.3 L155.1,166.3 L155.6,166.4 L156.1,166.4 L156.6,166.4 L157.1,166.5 L157.6,166.5 L158.1,166.6 L158.6,166.7 L159.1,166.8 L159.6,166.9 L160.1,167.0 L160.6,167.1 L161.1,167.3 L161.6,167.5 L162.1,167.7 L162.6,168.0 L163.1,168.4 L163.6,168.8 L164.1,169.2 L164.6,169.6 L165.1,170.1 L165.6,170.7 L166.1,171.3 L166.6,172.0 L167.1,172.7 L167.6,173.5 L168.1,174.3 L168.6,175.2 L169.1,176.1 L169.6,177.0 L170.1,177.9 L170.6,178.7 L171.1,179.6 L171.6,180.3 L172.1,181.0 L172.6,181.7 L173.1,182.2 L173.6,182.8 L174.1,183.2 L174.6,183.7 L175.1,184.2 L175.6,184.7 L176.1,185.2 L176.6,185.8 L177.1,186.3 L177.6,186.9 L178.1,187.5 L178.6,188.1 L179.1,188.8 L179.6,189.4 L180.1,190.0 L180.6,190.6 L181.1,191.3 L181.6,191.9 L182.1,192.5 L182.6,193.1 L183.1,193.7 L183.6,194.3 L184.1,194.9 L184.6,195.5 L185.1,196.1 L185.6,196.6 L186.1,197.2 L186.6,197.7 L187.1,198.3 L187.6,198.8 L188.1,199.3 L188.6,199.8 L189.1,200.3 L189.6,200.8 L190.1,201.3 L190.6,201.7 L191.1,202.2 L191.6,202.6 L192.1,203.0 L192.6,203.4 L193.1,203.7 L193.6,204.1 L194.1,204.3 L194.6,204.6 L195.1,204.8 L195.6,204.9 L196.1,205.1 L196.6,205.1 L197.1,205.2 L197.6,205.2 L198.1,205.2 L198.6,205.2 L199.1,205.1 L199.6,205.1 L200.1,205.0 L200.6,204.9 L201.1,204.7 L201.6,204.6 L202.1,204.4 L202.6,204.2 L203.1,203.9 L203.6,203.7 L204.1,203.4 L204.6,203.1 L205.1,202.8 L205.6,202.5 L206.1,202.2 L206.6,201.9 L207.1,201.5 L207.6,201.2 L208.1,200.9 L208.6,200.6 L209.1,200.3 L209.6,200.0 L210.1,199.6 L210.6,199.3 L211.1,199.0 L211.6,198.7 L212.1,198.4 L212.6,198.0 L213.1,197.7 L213.6,197.4 L214.1,197.1 L214.6,196.8 L215.1,196.4 L215.6,196.1 L216.1,195.8 L216.6,195.5 L217.1,195.1 L217.6,194.8 L218.1,194.5 L218.6,194.2 L219.1,193.9 L219.6,193.5 L220.1,193.2 L220.6,192.9 L221.1,192.6 L221.6,192.2 L222.1,191.9 L222.6,191.6 L223.1,191.3 L223.6,190.9 L224.1,190.6 L224.6,190.3 L225.1,190.0 L225.6,189.6 L226.1,189.3 L226.6,189.0 L227.1,188.7 L227.6,188.3 L228.1,188.0 L228.6,187.7 L229.1,187.4 L229.6,187.1 L230.1,186.7 L230.6,186.4 L231.1,186.1 L231.6,185.8 L232.1,185.5 L232.6,185.2 L233.1,184.9 L233.6,184.7 L234.1,184.4 L234.6,184.2 L235.1,183.9 L235.6,183.7 L236.1,183.5 L236.6,183.3 L237.1,183.1 L237.6,183.0 L238.1,182.9 L238.6,182.8 L239.1,182.7 L239.6,182.6 L240.1,182.6 L240.6,182.6 L241.1,182.6 L241.6,182.7 L242.1,182.8 L242.6,182.9 L243.1,183.0 L243.6,183.1 L244.1,183.3 L244.6,183.5 L245.1,183.7 L245.6,183.9 L246.1,184.1 L246.6,184.4 L247.1,184.6 L247.6,184.8 L248.1,185.1 L248.6,185.3 L249.1,185.5 L249.6,185.8 L250.1,186.0 L250.6,186.3 L251.1,186.5 L251.6,186.8 L252.1,187.0 L252.6,187.3 L253.1,187.6 L253.6,187.9 L254.1,188.2 L254.6,188.5 L255.1,188.9 L255.6,189.3 L256.1,189.6 L256.6,190.0 L257.1,190.4 L257.6,190.9 L258.1,191.3 L258.6,191.7 L259.1,192.2 L259.6,192.7 L260.1,193.1 L260.6,193.6 L261.1,194.1 L261.6,194.6 L262.1,195.0 L262.6,195.5 L263.1,196.0 L263.6,196.4 L264.1,196.9 L264.6,197.4 L265.1,197.8 L265.6,198.2 L266.1,198.7 L266.6,199.1 L267.1,199.5 L267.6,199.9 L268.1,200.3 L268.6,200.7 L269.1,201.1 L269.6,201.4 L270.1,201.8 L270.6,202.1 L271.1,202.5 L271.6,202.7 L272.1,203.0 L272.6,203.3 L273.1,203.5 L273.6,203.7 L274.1,203.9 L274.6,204.0 L275.1,204.2 L275.6,204.3 L276.1,204.5 L276.6,204.6 L277.1,204.7 L277.6,204.8 L278.1,204.9 L278.6,205.0 L279.1,205.1 L279.6,205.2 L280.1,205.3 L280.6,205.4 L281.1,205.5 L281.6,205.5 L282.1,205.6 L282.6,205.7 L283.1,205.8 L283.6,205.8 L284.1,205.9 L284.6,206.0 L285.1,206.1 L285.6,206.1 L286.1,206.2 L286.6,206.3 L287.1,206.3 L287.6,206.4 L288.1,206.4 L288.6,206.5 L289.1,206.5 L289.6,206.6 L290.1,206.6 L290.6,206.6 L291.1,206.6 L291.6,206.7 L292.1,206.7 L292.6,206.7 L293.1,206.7 L293.6,206.7 L294.1,206.7 L294.6,206.6 L295.1,206.6 L295.6,206.6 L296.1,206.6 L296.6,206.6 L297.1,206.5 L297.6,206.5 L298.1,206.4 L298.6,206.4 L299.1,206.4 L299.6,206.3 L300.1,206.3 L300.6,206.2 L301.1,206.2 L301.6,206.1 L302.1,206.1 L302.6,206.0 L303.1,205.9 L303.6,205.9 L304.1,205.8 L304.6,205.7 L305.1,205.6 L305.6,205.5 L306.1,205.4 L306.6,205.2 L307.1,205.1 L307.6,204.9 L308.1,204.8 L308.6,204.6 L309.1,204.4 L309.6,204.2 L310.1,204.0 L310.6,203.8 L311.1,203.5 L311.6,203.3 L312.1,203.0 L312.6,202.8 L313.1,202.5 L313.6,202.2 L314.1,202.0 L314.6,201.7 L315.1,201.4 L315.6,201.1 L316.1,200.8 L316.6,200.5 L317.1,200.1 L317.6,199.8 L318.1,199.5 L318.6,199.1 L319.1,198.8 L319.6,198.4 L320.1,198.1 L320.6,197.7 L321.1,197.4 L321.6,197.0 L322.1,196.7 L322.6,196.3 L323.1,196.0 L323.6,195.6 L324.1,195.3 L324.6,194.9 L325.1,194.6 L325.6,194.2 L326.1,193.9 L326.6,193.5 L327.1,193.2 L327.6,192.8 L328.1,192.5 L328.6,192.1 L329.1,191.8 L329.6,191.4 L330.1,191.1 L330.6,190.7 L331.1,190.4 L331.6,190.0 L332.1,189.7 L332.6,189.3 L333.1,189.0 L333.6,188.6 L334.1,188.3 L334.6,187.9 L335.1,187.6 L335.6,187.2 L336.1,186.9 L336.6,186.5 L337.1,186.2 L337.6,185.8 L338.1,185.5 L338.6,185.2 L339.1,184.9 L339.6,184.6 L340.1,184.3 L340.6,184.1 L341.1,183.9 L341.6,183.7 L342.1,183.5 L342.6,183.3 L343.1,183.2 L343.6,183.1 L344.1,182.9 L344.6,182.8 L345.1,182.7 L345.6,182.6 L346.1,182.6 L346.6,182.5 L347.1,182.4 L347.6,182.3 L348.1,182.2 L348.6,182.2 L349.1,182.1 L349.6,182.1 L350.1,182.0 L350.6,182.0 L351.1,181.9 L351.6,181.9 L352.1,181.9 L352.6,181.9 L353.1,181.8 L353.6,181.8 L354.1,181.8 L354.6,181.8 L355.1,181.8 L355.6,181.8 L356.1,181.8 L356.6,181.8 L357.1,181.9 L357.6,181.9 L358.1,181.9 L358.6,181.9 L359.1,182.0 L359.6,182.0 L360.1,182.1 L360.6,182.1 L361.1,182.2 L361.6,182.3 L362.1,182.3 L362.6,182.4 L363.1,182.5 L363.6,182.6 L364.1,182.7 L364.6,182.7 L365.1,182.8 L365.6,182.9 L366.1,183.1 L366.6,183.2 L367.1,183.3 L367.6,183.4 L368.1,183.5 L368.6,183.6 L369.1,183.8 L369.6,183.9 L370.1,184.1 L370.6,184.2 L371.1,184.4 L371.6,184.5 L372.1,184.7 L372.6,184.9 L373.1,185.1 L373.6,185.4 L374.1,185.6 L374.6,185.8 L375.1,186.1 L375.6,186.4 L376.1,186.6 L376.6,186.9 L377.1,187.2 L377.6,187.5 L378.1,187.8 L378.6,188.2 L379.1,188.5 L379.6,188.9 L380.1,189.2 L380.6,189.6 L381.1,190.0 L381.6,190.3 L382.1,190.7 L382.6,191.1 L383.1,191.5 L383.6,191.9 L384.1,192.4 L384.6,192.8 L385.1,193.3 L385.6,193.7 L386.1,194.2 L386.6,194.7 L387.1,195.2 L387.6,195.8 L388.1,196.3 L388.6,196.9 L389.1,197.4 L389.6,198.0 L390.1,198.6 L390.6,199.2 L391.1,199.8 L391.6,200.5 L392.1,201.1 L392.6,201.8 L393.1,202.5 L393.6,203.2 L394.1,203.9 L394.6,204.7 L395.1,205.4 L395.6,206.2 L396.1,207.0 L396.6,207.8 L397.1,208.6 L397.6,209.5 L398.1,210.4 L398.6,211.2 L399.1,212.1 L399.6,213.0 L400.1,213.9 L400.6,214.7 L401.1,215.6 L401.6,216.5 L402.1,217.3 L402.6,218.2 L403.1,219.0 L403.6,219.8 L404.1,220.6 L404.6,221.4 L405.1,222.1 L405.6,222.8 L406.1,223.6 L406.6,224.3 L407.1,225.0 L407.6,225.7 L408.1,226.4 L408.6,227.1 L409.1,227.7 L409.6,228.4 L410.1,229.1 L410.6,229.7 L411.1,230.4 L411.6,231.0 L412.1,231.6 L412.6,232.2 L413.1,232.8 L413.6,233.4 L414.1,234.0 L414.6,234.5 L415.1,235.1 L415.6,235.6 L416.1,236.1 L416.6,236.6 L417.1,237.1 L417.6,237.6 L418.1,238.0 L418.6,238.5 L419.1,238.9 L419.6,239.3 L420.1,239.8 L420.6,240.2 L421.1,240.6 L421.6,241.0 L422.1,241.4 L422.6,241.7 L423.1,242.1 L423.6,242.5 L424.1,242.8 L424.6,243.2 L425.1,243.5 L425.6,243.8 L426.1,244.1 L426.6,244.4 L427.1,244.7 L427.6,245.0 L428.1,245.3 L428.6,245.5 L429.1,245.8 L429.6,246.0 L430.1,246.2 L430.6,246.5 L431.1,246.7 L431.6,246.9 L432.1,247.1 L432.6,247.3 L433.1,247.5 L433.6,247.8 L434.1,248.0 L434.6,248.2 L435.1,248.4 L435.6,248.6 L436.1,248.8 L436.6,249.0 L437.1,249.2 L437.6,249.4 L438.1,249.6 L438.6,249.8 L439.1,250.0 L439.6,250.2 L440.1,250.4 L440.6,250.6 L441.1,250.8 L441.6,251.0 L442.1,251.2 L442.6,251.4 L443.1,251.5 L443.6,251.7 L444.1,251.9 L444.6,252.1 L445.1,252.2 L445.6,252.4 L446.1,252.6 L446.6,252.7 L447.1,252.9 L447.6,253.0 L448.1,253.2 L448.6,253.4 L449.1,253.5 L449.6,253.7 L450.1,253.8 L450.6,254.0 L451.1,254.1 L451.6,254.3 L452.1,254.5 L452.6,254.6 L453.1,254.8 L453.6,254.9 L454.1,255.1 L454.6,255.2 L455.1,255.4 L455.6,255.5 L456.1,255.7 L456.6,255.8 L457.1,256.0 L457.6,256.1 L458.1,256.3 L458.6,256.4 L459.1,256.6 L459.6,256.7 L460.1,256.9 L460.6,257.0 L461.1,257.1 L461.6,257.3 L462.1,257.4 L462.6,257.6 L463.1,257.7 L463.6,257.8 L464.1,258.0 L464.6,258.1 L465.1,258.2 L465.6,258.4 L466.1,258.5 L466.6,258.6 L467.1,258.8 L467.6,258.9 L468.1,259.0 L468.6,259.1 L469.1,259.3 L469.6,259.4 L470.1,259.5 L470.6,259.7 L471.1,259.8 L471.6,259.9 L472.1,260.0 L472.6,260.2 L473.1,260.3 L473.6,260.4 L474.1,260.5 L474.6,260.6 L475.1,260.8 L475.6,260.9 L476.1,261.0 L476.6,261.1 L477.1,261.2 L477.6,261.4 L478.1,261.5 L478.6,261.6 L479.1,261.7 L479.6,261.8 L480.1,261.9 L480.6,262.1 L481.1,262.2 L481.6,262.3 L482.1,262.4 L482.6,262.5 L483.1,262.6 L483.6,262.7 L484.1,262.8 L484.6,262.9 L485.1,263.0 L485.6,263.1 L486.1,263.2 L486.6,263.3 L487.1,263.4 L487.6,263.5 L488.1,263.6 L488.6,263.7 L489.1,263.8 L489.6,263.9 L490.1,264.0 L490.6,264.1 L491.1,264.2 L491.6,264.2 L492.1,264.3 L492.6,264.4 L493.1,264.5 L493.6,264.6 L494.1,264.7 L494.6,264.8 L495.1,264.8 L495.6,264.9 L496.1,265.0 L496.6,265.1 L497.1,265.2 L497.6,265.2 L498.1,265.3 L498.6,265.4 L499.1,265.4 L499.6,265.5 L500.1,265.6 L500.6,265.7 L501.1,265.7 L501.6,265.8 L502.1,265.8 L502.6,265.9 L503.1,266.0 L503.6,266.0 L504.1,266.1 L504.6,266.1 L505.1,266.2 L505.6,266.2 L506.1,266.3 L506.6,266.3 L507.1,266.4 L507.6,266.4 L508.1,266.5 L508.6,266.5 L509.1,266.6 L509.4,266.6" stroke="#0000a0"/>
<path d="M48.6,72.3 L49.1,72.4 L49.6,72.4 L50.1,72.5 L50.6,72.6 L51.1,72.6 L51.6,72.7 L52.1,72.8 L52.6,72.8 L53.1,72.9 L53.6,73.0 L54.1,73.0 L54.6,73.1 L55.1,73.2 L55.6,73.2 L56.1,73.3 L56.6,73.4 L57.1,73.4 L57.6,73.5 L58.1,73.5 L58.6,73.6 L59.1,73.7 L59.6,73.7 L60.1,73.8 L60.6,73.8 L61.1,73.9 L61.6,74.0 L62.1,74.0 L62.6,74.1 L63.1,74.1 L63.6,74.2 L64.1,74.2 L64.6,74.3 L65.1,74.4 L65.6,74.4 L66.1,74.5 L66.6,74.6 L67.1,74.7 L67.6,74.9 L68.1,75.1 L68.6,75.3 L69.1,75.6 L69.6,75.9 L70.1,76.3 L70.6,76.7 L71.1,77.1 L71.6,77.6 L72.1,78.1 L72.6,78.5 L73.1,79.0 L73.6,79.5 L74.1,80.0 L74.6,80.5 L75.1,81.1 L75.6,81.6 L76.1,82.1 L76.6,82.7 L77.1,83.2 L77.6,83.8 L78.1,84.4 L78.6,85.0 L79.1,85.6 L79.6,86.2 L80.1,86.8 L80.6,87.4 L81.1,88.0 L81.6,88.6 L82.1,89.2 L82.6,89.9 L83.1,90.5 L83.6,91.1 L84.1,91.7 L84.6,92.2 L85.1,92.8 L85.6,93.4 L86.1,93.9 L86.6,94.4 L87.1,94.9 L87.6,95.4 L88.1,95.9 L88.6,96.4 L89.1,96.8 L89.6,97.3 L90.1,97.7 L90.6,98.1 L91.1,98.6 L91.6,99.0 L92.1,99.4 L92.6,99.7 L93.1,100.1 L93.6,100.5 L94.1,100.8 L94.6,101.1 L95.1,101.5 L95.6,101.8 L96.1,102.1 L96.6,102.3 L97.1,102.6 L97.6,102.9 L98.1,103.2 L98.6,103.5 L99.1,103.8 L99.6,104.1 L100.1,104.4 L100.6,104.8 L101.1,105.1 L101.6,105.5 L102.1,105.9 L102.6,106.3 L103.1,106.7 L103.6,107.1 L104.1,107.5 L104.6,107.9 L105.1,108.4 L105.6,108.8 L106.1,109.3 L106.6,109.8 L107.1,110.2 L107.6,110.7 L108.1,111.2 L108.6,111.7 L109.1,112.3 L109.6,112.8 L110.1,113.4 L110.6,113.9 L111.1,114.5 L111.6,115.1 L112.1,115.7 L112.6,116.3 L113.1,116.9 L113.6,117.6 L114.1,118.3 L114.6,119.0 L115.1,119.8 L115.6,120.6 L116.1,121.4 L116.6,122.3 L117.1,123.2 L117.6,124.2 L118.1,125.2 L118.6,126.2 L119.1,127.2 L119.6,128.2 L120.1,129.2 L120.6,130.2 L121.1,131.2 L121.6,132.1 L122.1,133.1 L122.6,134.0 L123.1,135.0 L123.6,135.9 L124.1,136.8 L124.6,137.8 L125.1,138.7 L125.6,139.7 L126.1,140.6 L126.6,141.6 L127.1,142.5 L127.6,143.5 L128.1,144.4 L128.6,145.4 L129.1,146.4 L129.6,147.3 L130.1,148.3 L130.6,149.3 L131.1,150.3 L131.6,151.2 L132.1,152.2 L132.6,153.2 L133.1,154.2 L133.6,155.2 L134.1,156.2 L134.6,157.2 L135.1,158.2 L135.6,159.1 L136.1,160.0 L136.6,160.8 L137.1,161.5 L137.6,162.1 L138.1,162.7 L138.6,163.2 L139.1,163.6 L139.6,164.0 L140.1,164.4 L140.6,164.7 L141.1,165.0 L141.6,165.3 L142.1,165.5 L142.6,165.8 L143.1,166.0 L143.6,166.2 L144.1,166.5 L144.6,166.7 L145.1,166.9 L145.6,167.2 L146.1,167.5 L146.6,167.8 L147.1,168.2 L147.6,168.5 L148.1,168.9 L148.6,169.3 L149.1,169.7 L149.6,170.1 L150.1,170.6 L150.6,170.9 L151.1,171.3 L151.6,171.7 L152.1,172.0 L152.6,172.4 L153.1,172.7 L153.6,173.0 L154.1,173.3 L154.6,173.7 L155.1,174.0 L155.6,174.3 L156.1,174.6 L156.6,175.0 L157.1,175.4 L157.6,175.7 L158.1,176.1 L158.6,176.5 L159.1,177.0 L159.6,177.4 L160.1,177.8 L160.6,178.3 L161.1,178.7 L161.6,179.2 L162.1,179.7 L162.6,180.2 L163.1,180.6 L163.6,181.1 L164.1,181.6 L164.6,182.1 L165.1,182.6 L165.6,183.1 L166.1,183.6 L166.6,184.2 L167.1,184.7 L167.6,185.3 L168.1,185.9 L168.6,186.5 L169.1,187.1 L169.6,187.8 L170.1,188.5 L170.6,189.2 L171.1,189.9 L171.6,190.6 L172.1,191.4 L172.6,192.1 L173.1,192.9 L173.6,193.6 L174.1,194.4 L174.6,195.1 L175.1,195.8 L175.6,196.5 L176.1,197.2 L176.6,197.8 L177.1,198.4 L177.6,199.1 L178.1,199.7 L178.6,200.3 L179.1,200.8 L179.6,201.4 L180.1,201.9 L180.6,202.5 L181.1,203.0 L181.6,203.5 L182.1,204.1 L182.6,204.6 L183.1,205.1 L183.6,205.6 L184.1,206.1 L184.6,206.6 L185.1,207.1 L185.6,207.5 L186.1,208.0 L186.6,208.4 L187.1,208.9 L187.6,209.3 L188.1,209.7 L188.6,210.1 L189.1,210.4 L189.6,210.7 L190.1,211.0 L190.6,211.3 L191.1,211.5 L191.6,211.7 L192.1,211.8 L192.6,211.9 L193.1,212.0 L193.6,212.1 L194.1,212.1 L194.6,212.1 L195.1,212.0 L195.6,212.0 L196.1,211.9 L196.6,211.8 L197.1,211.6 L197.6,211.5 L198.1,211.3 L198.6,211.1 L199.1,210.9 L199.6,210.7 L200.1,210.4 L200.6,210.2 L201.1,210.0 L201.6,209.7 L202.1,209.5 L202.6,209.2 L203.1,209.0 L203.6,208.7 L204.1,208.5 L204.6,208.2 L205.1,208.0 L205.6,207.7 L206.1,207.4 L206.6,207.2 L207.1,206.9 L207.6,206.7 L208.1,206.4 L208.6,206.2 L209.1,205.9 L209.6,205.7 L210.1,205.4 L210.6,205.2 L211.1,204.9 L211.6,204.7 L212.1,204.4 L212.6,204.2 L213.1,203.9 L213.6,203.7 L214.1,203.4 L214.6,203.2 L215.1,203.0 L215.6,202.7 L216.1,202.5 L216.6,202.2 L217.1,202.0 L217.6,201.8 L218.1,201.5 L218.6,201.3 L219.1,201.1 L219.6,200.8 L220.1,200.6 L220.6,200.4 L221.1,200.1 L221.6,199.9 L222.1,199.7 L222.6,199.4 L223.1,199.2 L223.6,199.0 L224.1,198.8 L224.6,198.5 L225.1,198.3 L225.6,198.1 L226.1,197.8 L226.6,197.6 L227.1,197.4 L227.6,197.1 L228.1,196.9 L228.6,196.7 L229.1,196.4 L229.6,196.2 L230.1,195.9 L230.6,195.6 L231.1,195.3 L231.6,195.0 L232.1,194.6 L232.6,194.2 L233.1,193.8 L233.6,193.4 L234.1,193.0 L234.6,192.6 L235.1,192.2 L235.6,191.8 L236.1,191.4 L236.6,191.1 L237.1,190.7 L237.6,190.4 L238.1,190.2 L238.6,190.0 L239.1,189.8 L239.6,189.7 L240.1,189.5 L240.6,189.5 L241.1,189.4 L241.6,189.4 L242.1,189.5 L242.6,189.5 L243.1,189.6 L243.6,189.6 L244.1,189.7 L244.6,189.9 L245.1,190.0 L245.6,190.1 L246.1,190.3 L246.6,190.4 L247.1,190.6 L247.6,190.7 L248.1,190.9 L248.6,191.1 L249.1,191.2 L249.6,191.4 L250.1,191.5 L250.6,191.7 L251.1,191.8 L251.6,192.0 L252.1,192.2 L252.6,192.4 L253.1,192.6 L253.6,192.8 L254.1,193.0 L254.6,193.3 L255.1,193.5 L255.6,193.8 L256.1,194.1 L256.6,194.4 L257.1,194.7 L257.6,195.1 L258.1,195.4 L258.6,195.8 L259.1,196.1 L259.6,196.4 L260.1,196.8 L260.6,197.1 L261.1,197.5 L261.6,197.8 L262.1,198.2 L262.6,198.5 L263.1,198.9 L263.6,199.2 L264.1,199.6 L264.6,199.9 L265.1,200.3 L265.6,200.6 L266.1,200.9 L266.6,201.3 L267.1,201.6 L267.6,201.9 L268.1,202.2 L268.6,202.6 L269.1,202.9 L269.6,203.2 L270.1,203.5 L270.6,203.9 L271.1,204.2 L271.6,204.5 L272.1,204.8 L272.6,205.2 L273.1,205.5 L273.6,205.8 L274.1,206.1 L274.6,206.4 L275.1,206.7 L275.6,207.0 L276.1,207.4 L276.6,207.6 L277.1,207.9 L277.6,208.2 L278.1,208.5 L278.6,208.8 L279.1,209.1 L279.6,209.3 L280.1,209.6 L280.6,209.8 L281.1,210.1 L281.6,210.3 L282.1,210.6 L282.6,210.8 L283.1,211.0 L283.6,211.2 L284.1,211.4 L284.6,211.6 L285.1,211.8 L285.6,212.0 L286.1,212.2 L286.6,212.4 L287.1,212.5 L287.6,212.7 L288.1,212.8 L288.6,213.0 L289.1,213.1 L289.6,213.3 L290.1,213.4 L290.6,213.6 L291.1,213.7 L291.6,213.8 L292.1,214.0 L292.6,214.1 L293.1,214.2 L293.6,214.4 L294.1,214.5 L294.6,214.6 L295.1,214.7 L295.6,214.9 L296.1,215.0 L296.6,215.1 L297.1,215.2 L297.6,215.3 L298.1,215.4 L298.6,215.5 L299.1,215.6 L299.6,215.7 L300.1,215.8 L300.6,215.9 L301.1,216.0 L301.6,216.0 L302.1,216.1 L302.6,216.1 L303.1,216.2 L303.6,216.2 L304.1,216.3 L304.6,216.3 L305.1,216.3 L305.6,216.3 L306.1,216.3 L306.6,216.3 L307.1,216.3 L307.6,216.3 L308.1,216.3 L308.6,216.3 L309.1,216.3 L309.6,216.3 L310.1,216.3 L310.6,216.2 L311.1,216.2 L311.6,216.1 L312.1,216.1 L312.6,216.0 L313.1,216.0 L313.6,215.9 L314.1,215.8 L314.6,215.7 L315.1,215.6 L315.6,215.5 L316.1,215.4 L316.6,215.2 L317.1,215.1 L317.6,214.9 L318.1,214.8 L318.6,214.6 L319.1,214.4 L319.6,214.2 L320.1,214.0 L320.6,213.7 L321.1,213.5 L321.6,213.3 L322.1,213.0 L322.6,212.8 L323.1,212.5 L323.6,212.3 L324.1,212.0 L324.6,211.8 L325.1,211.5 L325.6,211.3 L326.1,211.0 L326.6,210.7 L327.1,210.4 L327.6,210.2 L328.1,209.9 L328.6,209.6 L329.1,209.3 L329.6,209.0 L330.1,208.7 L330.6,208.4 L331.1,208.1 L331.6,207.8 L332.1,207.5 L332.6,207.2 L333.1,206.9 L333.6,206.6 L334.1,206.3 L334.6,206.0 L335.1,205.7 L335.6,205.4 L336.1,205.1 L336.6,204.8 L337.1,204.5 L337.6,204.2 L338.1,203.9 L338.6,203.7 L339.1,203.4 L339.6,203.1 L340.1,202.8 L340.6,202.6 L341.1,202.3 L341.6,202.1 L342.1,201.8 L342.6,201.6 L343.1,201.3 L343.6,201.1 L344.1,200.9 L344.6,200.6 L345.1,200.4 L345.6,200.2 L346.1,200.0 L346.6,199.8 L347.1,199.6 L347.6,199.4 L348.1,199.2 L348.6,199.0 L349.1,198.8 L349.6,198.6 L350.1,198.4 L350.6,198.2 L351.1,198.0 L351.6,197.9 L352.1,197.7 L352.6,197.6 L353.1,197.5 L353.6,197.3 L354.1,197.2 L354.6,197.1 L355.1,197.0 L355.6,196.9 L356.1,196.9 L356.6,196.8 L357.1,196.7 L357.6,196.7 L358.1,196.6 L358.6,196.6 L359.1,196.6 L359.6,196.5 L360.1,196.5 L360.6,196.5 L361.1,196.5 L361.6,196.5 L362.1,196.5 L362.6,196.6 L363.1,196.6 L363.6,196.6 L364.1,196.7 L364.6,196.8 L365.1,196.8 L365.6,196.9 L366.1,197.0 L366.6,197.1 L367.1,197.2 L367.6,197.3 L368.1,197.4 L368.6,197.5 L369.1,197.7 L369.6,197.8 L370.1,197.9 L370.6,198.1 L371.1,198.2 L371.6,198.4 L372.1,198.5 L372.6,198.7 L373.1,198.9 L373.6,199.1 L374.1,199.3 L374.6,199.5 L375.1,199.7 L375.6,199.9 L376.1,200.1 L376.6,200.3 L377.1,200.5 L377.6,200.8 L378.1,201.0 L378.6,201.3 L379.1,201.5 L379.6,201.8 L380.1,202.1 L380.6,202.4 L381.1,202.7 L381.6,203.1 L382.1,203.4 L382.6,203.7 L383.1,204.1 L383.6,204.5 L384.1,204.9 L384.6,205.2 L385.1,205.6 L385.6,206.1 L386.1,206.5 L386.6,206.9 L387.1,207.3 L387.6,207.8 L388.1,208.2 L388.6,208.7 L389.1,209.1 L389.6,209.6 L390.1,210.1 L390.6,210.6 L391.1,211.1 L391.6,211.6 L392.1,212.1 L392.6,212.6 L393.1,213.1 L393.6,213.7 L394.1,214.2 L394.6,214.8 L395.1,215.3 L395.6,215.9 L396.1,216.4 L396.6,217.0 L397.1,217.6 L397.6,218.1 L398.1,218.7 L398.6,219.3 L399.1,219.8 L399.6,220.4 L400.1,220.9 L400.6,221.5 L401.1,222.0 L401.6,222.6 L402.1,223.1 L402.6,223.6 L403.1,224.1 L403.6,224.6 L404.1,225.2 L404.6,225.7 L405.1,226.2 L405.6,226.7 L406.1,227.2 L406.6,227.7 L407.1,228.2 L407.6,228.7 L408.1,229.1 L408.6,229.6 L409.1,230.1 L409.6,230.6 L410.1,231.1 L410.6,231.6 L411.1,232.0 L411.6,232.5 L412.1,233.0 L412.6,233.4 L413.1,233.9 L413.6,234.3 L414.1,234.8 L414.6,235.2 L415.1,235.6 L415.6,236.0 L416.1,236.4 L416.6,236.8 L417.1,237.2 L417.6,237.5 L418.1,237.9 L418.6,238.3 L419.1,238.6 L419.6,238.9 L420.1,239.3 L420.6,239.6 L421.1,239.9 L421.6,240.2 L422.1,240.5 L422.6,240.8 L423.1,241.1 L423.6,241.4 L424.1,241.6 L424.6,241.9 L425.1,242.2 L425.6,242.4 L426.1,242.7 L426.6,242.9 L427.1,243.1 L427.6,243.4 L428.1,243.6 L428.6,243.8 L429.1,244.0 L429.6,244.2 L430.1,244.5 L430.6,244.7 L431.1,244.9 L431.6,245.1 L432.1,245.3 L432.6,245.5 L433.1,245.7 L433.6,245.9 L434.1,246.1 L434.6,246.3 L435.1,246.5 L435.6,246.7 L436.1,246.9 L436.6,247.1 L437.1,247.3 L437.6,247.5 L438.1,247.7 L438.6,247.8 L439.1,248.0 L439.6,248.2 L440.1,248.4 L440.6,248.6 L441.1,248.8 L441.6,249.0 L442.1,249.1 L442.6,249.3 L443.1,249.5 L443.6,249.7 L444.1,249.9 L444.6,250.0 L445.1,250.2 L445.6,250.4 L446.1,250.5 L446.6,250.7 L447.1,250.9 L447.6,251.0 L448.1,251.2 L448.6,251.4 L449.1,251.5 L449.6,251.7 L450.1,251.8 L450.6,252.0 L451.1,252.2 L451.6,252.3 L452.1,252.5 L452.6,252.7 L453.1,252.8 L453.6,253.0 L454.1,253.1 L454.6,253.3 L455.1,253.5 L455.6,253.6 L456.1,253.8 L456.6,253.9 L457.1,254.1 L457.6,254.2 L458.1,254.4 L458.6,254.6 L459.1,254.7 L459.6,254.9 L460.1,255.0 L460.6,255.2 L461.1,255.3 L461.6,255.5 L462.1,255.6 L462.6,255.8 L463.1,255.9 L463.6,256.1 L464.1,256.2 L464.6,256.4 L465.1,256.5 L465.6,256.7 L466.1,256.8 L466.6,257.0 L467.1,257.1 L467.6,257.2 L468.1,257.4 L468.6,257.5 L469.1,257.7 L469.6,257.8 L470.1,258.0 L470.6,258.1 L471.1,258.3 L471.6,258.4 L472.1,258.5 L472.6,258.7 L473.1,258.8 L473.6,259.0 L474.1,259.1 L474.6,259.2 L475.1,259.4 L475.6,259.5 L476.1,259.6 L476.6,259.8 L477.1,259.9 L477.6,260.0 L478.1,260.2 L478.6,260.3 L479.1,260.4 L479.6,260.6 L480.1,260.7 L480.6,260.8 L481.1,261.0 L481.6,261.1 L482.1,261.2 L482.6,261.3 L483.1,261.5 L483.6,261.6 L484.1,261.7 L484.6,261.8 L485.1,262.0 L485.6,262.1 L486.1,262.2 L486.6,262.3 L487.1,262.4 L487.6,262.5 L488.1,262.6 L488.6,262.7 L489.1,262.9 L489.6,263.0 L490.1,263.1 L490.6,263.2 L491.1,263.3 L491.6,263.4 L492.1,263.5 L492.6,263.6 L493.1,263.7 L493.6,263.8 L494.1,263.9 L494.6,264.0 L495.1,264.1 L495.6,264.2 L496.1,264.3 L496.6,264.4 L497.1,264.5 L497.6,264.6 L498.1,264.7 L498.6,264.7 L499.1,264.8 L499.6,264.9 L500.1,265.0 L500.6,265.1 L501.1,265.2 L501.6,265.2 L502.1,265.3 L502.6,265.4 L503.1,265.5 L503.6,265.5 L504.1,265.6 L504.6,265.7 L505.1,265.7 L505.6,265.8 L506.1,265.9 L506.6,265.9 L507.1,266.0 L507.6,266.0 L508.1,266.1 L508.6,266.2 L509.1,266.2 L509.4,266.3" stroke="#ff8000"/>
<path d="M48.6,75.2 L49.1,75.4 L49.6,75.6 L50.1,75.8 L50.6,76.0 L51.1,76.1 L51.6,76.3 L52.1,76.5 L52.6,76.6 L53.1,76.7 L53.6,76.9 L54.1,77.0 L54.6,77.1 L55.1,77.2 L55.6,77.3 L56.1,77.4 L56.6,77.4 L57.1,77.5 L57.6,77.5 L58.1,77.6 L58.6,77.6 L59.1,77.6 L59.6,77.6 L60.1,77.5 L60.6,77.4 L61.1,77.4 L61.6,77.3 L62.1,77.2 L62.6,77.1 L63.1,77.0 L63.6,76.8 L64.1,76.7 L64.6,76.6 L65.1,76.5 L65.6,76.5 L66.1,76.4 L66.6,76.3 L67.1,76.3 L67.6,76.3 L68.1,76.3 L68.6,76.4 L69.1,76.4 L69.6,76.6 L70.1,76.7 L70.6,76.8 L71.1,77.0 L71.6,77.2 L72.1,77.5 L72.6,77.7 L73.1,78.0 L73.6,78.3 L74.1,78.6 L74.6,79.0 L75.1,79.3 L75.6,79.6 L76.1,80.0 L76.6,80.4 L77.1,80.7 L77.6,81.0 L78.1,81.3 L78.6,81.6 L79.1,81.9 L79.6,82.2 L80.1,82.5 L80.6,82.7 L81.1,83.0 L81.6,83.2 L82.1,83.5 L82.6,83.8 L83.1,84.1 L83.6,84.3 L84.1,84.6 L84.6,84.9 L85.1,85.3 L85.6,85.6 L86.1,85.9 L86.6,86.3 L87.1,86.6 L87.6,87.0 L88.1,87.3 L88.6,87.7 L89.1,88.0 L89.6,88.4 L90.1,88.7 L90.6,89.1 L91.1,89.4 L91.6,89.8 L92.1,90.2 L92.6,90.5 L93.1,90.9 L93.6,91.2 L94.1,91.6 L94.6,91.9 L95.1,92.3 L95.6,92.6 L96.1,93.0 L96.6,93.3 L97.1,93.7 L97.6,94.0 L98.1,94.4 L98.6,94.7 L99.1,95.1 L99.6,95.4 L100.1,95.8 L100.6,96.1 L101.1,96.5 L101.6,96.9 L102.1,97.2 L102.6,97.6 L103.1,98.0 L103.6,98.4 L104.1,98.8 L104.6,99.3 L105.1,99.7 L105.6,100.2 L106.1,100.7 L106.6,101.2 L107.1,101.7 L107.6,102.2 L108.1,102.8 L108.6,103.5 L109.1,104.2 L109.6,104.9 L110.1,105.7 L110.6,106.5 L111.1,107.3 L111.6,108.1 L112.1,109.0 L112.6,109.9 L113.1,110.8 L113.6,111.7 L114.1,112.7 L114.6,113.6 L115.1,114.5 L115.6,115.5 L116.1,116.5 L116.6,117.4 L117.1,118.4 L117.6,119.4 L118.1,120.4 L118.6,121.3 L119.1,122.3 L119.6,123.3 L120.1,124.3 L120.6,125.3 L121.1,126.3 L121.6,127.3 L122.1,128.3 L122.6,129.3 L123.1,130.2 L123.6,131.2 L124.1,132.2 L124.6,133.1 L125.1,134.0 L125.6,135.0 L126.1,135.9 L126.6,136.8 L127.1,137.7 L127.6,138.6 L128.1,139.5 L128.6,140.4 L129.1,141.4 L129.6,142.3 L130.1,143.2 L130.6,144.2 L131.1,145.2 L131.6,146.2 L132.1,147.2 L132.6,148.2 L133.1,149.2 L133.6,150.2 L134.1,151.2 L134.6,152.2 L135.1,153.2 L135.6,154.2 L136.1,155.1 L136.6,156.1 L137.1,157.0 L137.6,157.9 L138.1,158.7 L138.6,159.5 L139.1,160.3 L139.6,161.1 L140.1,161.7 L140.6,162.4 L141.1,163.0 L141.6,163.5 L142.1,164.0 L142.6,164.5 L143.1,165.0 L143.6,165.4 L144.1,165.9 L144.6,166.3 L145.1,166.7 L145.6,167.2 L146.1,167.7 L146.6,168.1 L147.1,168.6 L147.6,169.2 L148.1,169.7 L148.6,170.2 L149.1,170.7 L149.6,171.3 L150.1,171.8 L150.6,172.4 L151.1,172.9 L151.6,173.5 L152.1,174.0 L152.6,174.6 L153.1,175.1 L153.6,175.7 L154.1,176.3 L154.6,176.8 L155.1,177.4 L155.6,178.0 L156.1,178.6 L156.6,179.1 L157.1,179.7 L157.6,180.3 L158.1,180.9 L158.6,181.5 L159.1,182.2 L159.6,182.8 L160.1,183.4 L160.6,184.1 L161.1,184.8 L161.6,185.4 L162.1,186.1 L162.6,186.8 L163.1,187.5 L163.6,188.2 L164.1,188.8 L164.6,189.5 L165.1,190.1 L165.6,190.7 L166.1,191.3 L166.6,191.9 L167.1,192.5 L167.6,193.1 L168.1,193.6 L168.6,194.2 L169.1,194.8 L169.6,195.3 L170.1,195.9 L170.6,196.5 L171.1,197.0 L171.6,197.6 L172.1,198.1 L172.6,198.6 L173.1,199.2 L173.6,199.7 L174.1,200.2 L174.6,200.7 L175.1,201.3 L175.6,201.8 L176.1,202.3 L176.6,202.8 L177.1,203.2 L177.6,203.7 L178.1,204.2 L178.6,204.7 L179.1,205.1 L179.6,205.6 L180.1,206.0 L180.6,206.5 L181.1,206.9 L181.6,207.3 L182.1,207.7 L182.6,208.0 L183.1,208.3 L183.6,208.7 L184.1,208.9 L184.6,209.2 L185.1,209.4 L185.6,209.7 L186.1,209.9 L186.6,210.0 L187.1,210.2 L187.6,210.3 L188.1,210.5 L188.6,210.6 L189.1,210.7 L189.6,210.7 L190.1,210.8 L190.6,210.8 L191.1,210.8 L191.6,210.8 L192.1,210.8 L192.6,210.7 L193.1,210.7 L193.6,210.6 L194.1,210.5 L194.6,210.4 L195.1,210.3 L195.6,210.1 L196.1,209.9 L196.6,209.8 L197.1,209.6 L197.6,209.4 L198.1,209.2 L198.6,209.0 L199.1,208.8 L199.6,208.6 L200.1,208.4 L200.6,208.2 L201.1,208.0 L201.6,207.8 L202.1,207.6 L202.6,207.4 L203.1,207.2 L203.6,207.0 L204.1,206.8 L204.6,206.6 L205.1,206.4 L205.6,206.1 L206.1,205.9 L206.6,205.7 L207.1,205.4 L207.6,205.2 L208.1,205.0 L208.6,204.7 L209.1,204.5 L209.6,204.2 L210.1,203.9 L210.6,203.7 L211.1,203.4 L211.6,203.2 L212.1,202.9 L212.6,202.6 L213.1,202.4 L213.6,202.1 L214.1,201.8 L214.6,201.6 L215.1,201.3 L215.6,201.0 L216.1,200.8 L216.6,200.5 L217.1,200.2 L217.6,200.0 L218.1,199.7 L218.6,199.4 L219.1,199.2 L219.6,198.9 L220.1,198.6 L220.6,198.4 L221.1,198.1 L221.6,197.8 L222.1,197.6 L222.6,197.3 L223.1,197.0 L223.6,196.8 L224.1,196.5 L224.6,196.2 L225.1,195.9 L225.6,195.7 L226.1,195.4 L226.6,195.1 L227.1,194.8 L227.6,194.6 L228.1,194.3 L228.6,194.0 L229.1,193.7 L229.6,193.4 L230.1,193.1 L230.6,192.8 L231.1,192.5 L231.6,192.3 L232.1,192.0 L232.6,191.7 L233.1,191.4 L233.6,191.1 L234.1,190.8 L234.6,190.5 L235.1,190.3 L235.6,190.0 L236.1,189.7 L236.6,189.4 L237.1,189.2 L237.6,188.9 L238.1,188.7 L238.6,188.5 L239.1,188.3 L239.6,188.1 L240.1,187.9 L240.6,187.9 L241.1,187.8 L241.6,187.8 L242.1,187.8 L242.6,187.9 L243.1,188.0 L243.6,188.1 L244.1,188.3 L244.6,188.5 L245.1,188.6 L245.6,188.8 L246.1,189.0 L246.6,189.3 L247.1,189.5 L247.6,189.7 L248.1,189.9 L248.6,190.1 L249.1,190.2 L249.6,190.4 L250.1,190.6 L250.6,190.8 L251.1,191.0 L251.6,191.2 L252.1,191.4 L252.6,191.6 L253.1,191.8 L253.6,192.0 L254.1,192.3 L254.6,192.5 L255.1,192.8 L255.6,193.1 L256.1,193.4 L256.6,193.7 L257.1,194.1 L257.6,194.4 L258.1,194.7 L258.6,195.1 L259.1,195.4 L259.6,195.8 L260.1,196.2 L260.6,196.5 L261.1,196.9 L261.6,197.3 L262.1,197.6 L262.6,198.0 L263.1,198.4 L263.6,198.7 L264.1,199.1 L264.6,199.5 L265.1,199.9 L265.6,200.3 L266.1,200.7 L266.6,201.1 L267.1,201.5 L267.6,201.8 L268.1,202.2 L268.6,202.7 L269.1,203.1 L269.6,203.5 L270.1,203.9 L270.6,204.3 L271.1,204.7 L271.6,205.1 L272.1,205.5 L272.6,205.9 L273.1,206.3 L273.6,206.7 L274.1,207.0 L274.6,207.4 L275.1,207.8 L275.6,208.1 L276.1,208.5 L276.6,208.9 L277.1,209.2 L277.6,209.5 L278.1,209.9 L278.6,210.2 L279.1,210.5 L279.6,210.9 L280.1,211.2 L280.6,211.5 L281.1,211.8 L281.6,212.1 L282.1,212.4 L282.6,212.7 L283.1,213.0 L283.6,213.3 L284.1,213.5 L284.6,213.8 L285.1,214.1 L285.6,214.4 L286.1,214.6 L286.6,214.9 L287.1,215.2 L287.6,215.4 L288.1,215.7 L288.6,215.9 L289.1,216.2 L289.6,216.5 L290.1,216.7 L290.6,217.0 L291.1,217.2 L291.6,217.5 L292.1,217.7 L292.6,218.0 L293.1,218.2 L293.6,218.4 L294.1,218.7 L294.6,218.9 L295.1,219.2 L295.6,219.4 L296.1,219.6 L296.6,219.9 L297.1,220.1 L297.6,220.3 L298.1,220.6 L298.6,220.8 L299.1,221.0 L299.6,221.2 L300.1,221.5 L300.6,221.7 L301.1,221.9 L301.6,222.1 L302.1,222.3 L302.6,222.5 L303.1,222.7 L303.6,222.9 L304.1,223.1 L304.6,223.3 L305.1,223.5 L305.6,223.7 L306.1,223.9 L306.6,224.0 L307.1,224.2 L307.6,224.3 L308.1,224.4 L308.6,224.6 L309.1,224.7 L309.6,224.8 L310.1,224.8 L310.6,224.9 L311.1,225.0 L311.6,225.0 L312.1,225.1 L312.6,225.1 L313.1,225.1 L313.6,225.2 L314.1,225.2 L314.6,225.2 L315.1,225.2 L315.6,225.2 L316.1,225.2 L316.6,225.1 L317.1,225.1 L317.6,225.1 L318.1,225.0 L318.6,225.0 L319.1,224.9 L319.6,224.8 L320.1,224.7 L320.6,224.6 L321.1,224.5 L321.6,224.4 L322.1,224.3 L322.6,224.2 L323.1,224.1 L323.6,223.9 L324.1,223.8 L324.6,223.6 L325.1,223.4 L325.6,223.3 L326.1,223.1 L326.6,222.9 L327.1,222.7 L327.6,222.5 L328.1,222.3 L328.6,222.1 L329.1,221.9 L329.6,221.6 L330.1,221.4 L330.6,221.2 L331.1,220.9 L331.6,220.7 L332.1,220.5 L332.6,220.2 L333.1,220.0 L333.6,219.8 L334.1,219.5 L334.6,219.3 L335.1,219.1 L335.6,218.8 L336.1,218.6 L336.6,218.4 L337.1,218.1 L337.6,217.9 L338.1,217.7 L338.6,217.5 L339.1,217.3 L339.6,217.1 L340.1,216.9 L340.6,216.7 L341.1,216.5 L341.6,216.3 L342.1,216.1 L342.6,215.9 L343.1,215.8 L343.6,215.6 L344.1,215.4 L344.6,215.3 L345.1,215.1 L345.6,215.0 L346.1,214.8 L346.6,214.7 L347.1,214.5 L347.6,214.4 L348.1,214.2 L348.6,214.1 L349.1,214.0 L349.6,213.8 L350.1,213.7 L350.6,213.6 L351.1,213.4 L351.6,213.3 L352.1,213.2 L352.6,213.1 L353.1,212.9 L353.6,212.8 L354.1,212.7 L354.6,212.6 L355.1,212.5 L355.6,212.4 L356.1,212.3 L356.6,212.2 L357.1,212.1 L357.6,212.0 L358.1,211.9 L358.6,211.9 L359.1,211.8 L359.6,211.7 L360.1,211.7 L360.6,211.6 L361.1,211.6 L361.6,211.5 L362.1,211.5 L362.6,211.5 L363.1,211.4 L363.6,211.4 L364.1,211.4 L364.6,211.4 L365.1,211.3 L365.6,211.3 L366.1,211.3 L366.6,211.3 L367.1,211.3 L367.6,211.3 L368.1,211.3 L368.6,211.3 L369.1,211.4 L369.6,211.4 L370.1,211.4 L370.6,211.5 L371.1,211.5 L371.6,211.6 L372.1,211.7 L372.6,211.7 L373.1,211.8 L373.6,211.9 L374.1,212.0 L374.6,212.1 L375.1,212.2 L375.6,212.3 L376.1,212.4 L376.6,212.5 L377.1,212.7 L377.6,212.8 L378.1,212.9 L378.6,213.1 L379.1,213.2 L379.6,213.4 L380.1,213.5 L380.6,213.7 L381.1,213.9 L381.6,214.1 L382.1,214.3 L382.6,214.4 L383.1,214.6 L383.6,214.8 L384.1,215.0 L384.6,215.3 L385.1,215.5 L385.6,215.7 L386.1,215.9 L386.6,216.2 L387.1,216.5 L387.6,216.7 L388.1,217.0 L388.6,217.3 L389.1,217.6 L389.6,217.9 L390.1,218.2 L390.6,218.5 L391.1,218.9 L391.6,219.2 L392.1,219.6 L392.6,220.0 L393.1,220.3 L393.6,220.7 L394.1,221.1 L394.6,221.5 L395.1,221.8 L395.6,222.2 L396.1,222.6 L396.6,223.0 L397.1,223.3 L397.6,223.7 L398.1,224.1 L398.6,224.5 L399.1,224.8 L399.6,225.2 L400.1,225.6 L400.6,226.0 L401.1,226.3 L401.6,226.7 L402.1,227.1 L402.6,227.4 L403.1,227.8 L403.6,228.2 L404.1,228.6 L404.6,229.0 L405.1,229.3 L405.6,229.7 L406.1,230.1 L406.6,230.4 L407.1,230.8 L407.6,231.2 L408.1,231.6 L408.6,231.9 L409.1,232.3 L409.6,232.7 L410.1,233.1 L410.6,233.4 L411.1,233.8 L411.6,234.1 L412.1,234.4 L412.6,234.7 L413.1,235.1 L413.6,235.4 L414.1,235.6 L414.6,235.9 L415.1,236.2 L415.6,236.5 L416.1,236.8 L416.6,237.0 L417.1,237.3 L417.6,237.5 L418.1,237.8 L418.6,238.1 L419.1,238.3 L419.6,238.6 L420.1,238.8 L420.6,239.1 L421.1,239.3 L421.6,239.6 L422.1,239.8 L422.6,240.1 L423.1,240.3 L423.6,240.5 L424.1,240.8 L424.6,241.0 L425.1,241.2 L425.6,241.5 L426.1,241.7 L426.6,241.9 L427.1,242.1 L427.6,242.4 L428.1,242.6 L428.6,242.8 L429.1,243.0 L429.6,243.2 L430.1,243.4 L430.6,243.6 L431.1,243.8 L431.6,244.0 L432.1,244.2 L432.6,244.4 L433.1,244.6 L433.6,244.8 L434.1,244.9 L434.6,245.1 L435.1,245.3 L435.6,245.5 L436.1,245.7 L436.6,245.9 L437.1,246.1 L437.6,246.3 L438.1,246.5 L438.6,246.7 L439.1,246.8 L439.6,247.0 L440.1,247.2 L440.6,247.4 L441.1,247.6 L441.6,247.7 L442.1,247.9 L442.6,248.1 L443.1,248.3 L443.6,248.5 L444.1,248.6 L444.6,248.8 L445.1,249.0 L445.6,249.1 L446.1,249.3 L446.6,249.5 L447.1,249.7 L447.6,249.8 L448.1,250.0 L448.6,250.2 L449.1,250.3 L449.6,250.5 L450.1,250.7 L450.6,250.8 L451.1,251.0 L451.6,251.2 L452.1,251.3 L452.6,251.5 L453.1,251.6 L453.6,251.8 L454.1,252.0 L454.6,252.1 L455.1,252.3 L455.6,252.5 L456.1,252.6 L456.6,252.8 L457.1,253.0 L457.6,253.1 L458.1,253.3 L458.6,253.4 L459.1,253.6 L459.6,253.8 L460.1,253.9 L460.6,254.1 L461.1,254.2 L461.6,254.4 L462.1,254.6 L462.6,254.7 L463.1,254.9 L463.6,255.0 L464.1,255.2 L464.6,255.3 L465.1,255.5 L465.6,255.7 L466.1,255.8 L466.6,256.0 L467.1,256.1 L467.6,256.3 L468.1,256.4 L468.6,256.6 L469.1,256.7 L469.6,256.9 L470.1,257.0 L470.6,257.2 L471.1,257.3 L471.6,257.5 L472.1,257.6 L472.6,257.8 L473.1,257.9 L473.6,258.1 L474.1,258.2 L474.6,258.4 L475.1,258.5 L475.6,258.7 L476.1,258.8 L476.6,259.0 L477.1,259.1 L477.6,259.3 L478.1,259.4 L478.6,259.5 L479.1,259.7 L479.6,259.8 L480.1,260.0 L480.6,260.1 L481.1,260.3 L481.6,260.4 L482.1,260.5 L482.6,260.7 L483.1,260.8 L483.6,260.9 L484.1,261.1 L484.6,261.2 L485.1,261.3 L485.6,261.4 L486.1,261.6 L486.6,261.7 L487.1,261.8 L487.6,261.9 L488.1,262.1 L488.6,262.2 L489.1,262.3 L489.6,262.4 L490.1,262.5 L490.6,262.7 L491.1,262.8 L491.6,262.9 L492.1,263.0 L492.6,263.1 L493.1,263.2 L493.6,263.3 L494.1,263.4 L494.6,263.6 L495.1,263.7 L495.6,263.8 L496.1,263.9 L496.6,264.0 L497.1,264.1 L497.6,264.2 L498.1,264.3 L498.6,264.4 L499.1,264.5 L499.6,264.6 L500.1,264.6 L500.6,264.7 L501.1,264.8 L501.6,264.9 L502.1,265.0 L502.6,265.1 L503.1,265.1 L503.6,265.2 L504.1,265.3 L504.6,265.4 L505.1,265.5 L505.6,265.5 L506.1,265.6 L506.6,265.7 L507.1,265.7 L507.6,265.8 L508.1,265.9 L508.6,265.9 L509.1,266.0 L509.4,266.1" stroke="#800080"/>
<path d="M48.6,78.7 L49.1,78.9 L49.6,79.1 L50.1,79.3 L50.6,79.5 L51.1,79.7 L51.6,79.9 L52.1,80.0 L52.6,80.2 L53.1,80.3 L53.6,80.4 L54.1,80.5 L54.6,80.6 L55.1,80.7 L55.6,80.8 L56.1,80.9 L56.6,80.9 L57.1,80.9 L57.6,81.0 L58.1,81.0 L58.6,80.9 L59.1,80.9 L59.6,80.9 L60.1,80.8 L60.6,80.8 L61.1,80.7 L61.6,80.6 L62.1,80.5 L62.6,80.4 L63.1,80.3 L63.6,80.2 L64.1,80.0 L64.6,79.9 L65.1,79.7 L65.6,79.6 L66.1,79.4 L66.6,79.1 L67.1,78.9 L67.6,78.6 L68.1,78.3 L68.6,78.0 L69.1,77.7 L69.6,77.4 L70.1,77.2 L70.6,77.0 L71.1,76.8 L71.6,76.7 L72.1,76.6 L72.6,76.6 L73.1,76.6 L73.6,76.6 L74.1,76.6 L74.6,76.7 L75.1,76.7 L75.6,76.7 L76.1,76.8 L76.6,76.8 L77.1,76.8 L77.6,76.9 L78.1,76.9 L78.6,76.9 L79.1,77.0 L79.6,77.0 L80.1,77.1 L80.6,77.1 L81.1,77.1 L81.6,77.2 L82.1,77.2 L82.6,77.2 L83.1,77.3 L83.6,77.3 L84.1,77.3 L84.6,77.4 L85.1,77.4 L85.6,77.4 L86.1,77.5 L86.6,77.5 L87.1,77.6 L87.6,77.6 L88.1,77.6 L88.6,77.7 L89.1,77.7 L89.6,77.8 L90.1,77.8 L90.6,77.9 L91.1,78.0 L91.6,78.2 L92.1,78.4 L92.6,78.6 L93.1,78.8 L93.6,79.1 L94.1,79.4 L94.6,79.7 L95.1,80.0 L95.6,80.3 L96.1,80.7 L96.6,81.1 L97.1,81.4 L97.6,81.8 L98.1,82.2 L98.6,82.5 L99.1,82.9 L99.6,83.3 L100.1,83.6 L100.6,84.0 L101.1,84.4 L101.6,84.8 L102.1,85.2 L102.6,85.6 L103.1,86.1 L103.6,86.5 L104.1,87.0 L104.6,87.4 L105.1,87.9 L105.6,88.4 L106.1,88.9 L106.6,89.5 L107.1,90.0 L107.6,90.6 L108.1,91.2 L108.6,91.9 L109.1,92.6 L109.6,93.3 L110.1,94.1 L110.6,94.9 L111.1,95.7 L111.6,96.7 L112.1,97.6 L112.6,98.6 L113.1,99.7 L113.6,100.9 L114.1,102.0 L114.6,103.3 L115.1,104.6 L115.6,105.9 L116.1,107.3 L116.6,108.7 L117.1,110.1 L117.6,111.5 L118.1,112.9 L118.6,114.3 L119.1,115.7 L119.6,117.1 L120.1,118.5 L120.6,119.9 L121.1,121.2 L121.6,122.6 L122.1,124.0 L122.6,125.3 L123.1,126.6 L123.6,127.9 L124.1,129.1 L124.6,130.4 L125.1,131.5 L125.6,132.7 L126.1,133.8 L126.6,134.9 L127.1,136.0 L127.6,137.0 L128.1,138.1 L128.6,139.1 L129.1,140.1 L129.6,141.2 L130.1,142.2 L130.6,143.2 L131.1,144.3 L131.6,145.3 L132.1,146.3 L132.6,147.3 L133.1,148.3 L133.6,149.3 L134.1,150.3 L134.6,151.3 L135.1,152.2 L135.6,153.2 L136.1,154.1 L136.6,155.0 L137.1,155.9 L137.6,156.8 L138.1,157.6 L138.6,158.4 L139.1,159.2 L139.6,160.0 L140.1,160.7 L140.6,161.4 L141.1,162.0 L141.6,162.7 L142.1,163.3 L142.6,163.9 L143.1,164.5 L143.6,165.0 L144.1,165.6 L144.6,166.2 L145.1,166.7 L145.6,167.3 L146.1,167.9 L146.6,168.5 L147.1,169.2 L147.6,169.8 L148.1,170.5 L148.6,171.1 L149.1,171.8 L149.6,172.5 L150.1,173.1 L150.6,173.8 L151.1,174.5 L151.6,175.1 L152.1,175.8 L152.6,176.5 L153.1,177.1 L153.6,177.8 L154.1,178.4 L154.6,179.1 L155.1,179.7 L155.6,180.4 L156.1,181.0 L156.6,181.7 L157.1,182.3 L157.6,183.0 L158.1,183.6 L158.6,184.2 L159.1,184.9 L159.6,185.5 L160.1,186.1 L160.6,186.7 L161.1,187.3 L161.6,187.9 L162.1,188.5 L162.6,189.1 L163.1,189.6 L163.6,190.2 L164.1,190.8 L164.6,191.3 L165.1,191.9 L165.6,192.4 L166.1,192.9 L166.6,193.5 L167.1,194.0 L167.6,194.6 L168.1,195.1 L168.6,195.6 L169.1,196.2 L169.6,196.7 L170.1,197.2 L170.6,197.7 L171.1,198.2 L171.6,198.7 L172.1,199.2 L172.6,199.7 L173.1,200.2 L173.6,200.7 L174.1,201.2 L174.6,201.7 L175.1,202.1 L175.6,202.6 L176.1,203.1 L176.6,203.5 L177.1,204.0 L177.6,204.4 L178.1,204.8 L178.6,205.2 L179.1,205.6 L179.6,206.0 L180.1,206.3 L180.6,206.7 L181.1,207.0 L181.6,207.3 L182.1,207.6 L182.6,207.8 L183.1,208.1 L183.6,208.3 L184.1,208.5 L184.6,208.6 L185.1,208.8 L185.6,208.9 L186.1,209.0 L186.6,209.1 L187.1,209.1 L187.6,209.1 L188.1,209.1 L188.6,209.1 L189.1,209.1 L189.6,209.0 L190.1,208.9 L190.6,208.8 L191.1,208.7 L191.6,208.6 L192.1,208.4 L192.6,208.3 L193.1,208.1 L193.6,208.0 L194.1,207.8 L194.6,207.7 L195.1,207.5 L195.6,207.3 L196.1,207.2 L196.6,207.0 L197.1,206.8 L197.6,206.6 L198.1,206.5 L198.6,206.3 L199.1,206.1 L199.6,205.9 L200.1,205.7 L200.6,205.5 L201.1,205.3 L201.6,205.1 L202.1,204.9 L202.6,204.6 L203.1,204.4 L203.6,204.2 L204.1,203.9 L204.6,203.7 L205.1,203.4 L205.6,203.2 L206.1,202.9 L206.6,202.7 L207.1,202.4 L207.6,202.1 L208.1,201.9 L208.6,201.6 L209.1,201.3 L209.6,201.1 L210.1,200.8 L210.6,200.5 L211.1,200.3 L211.6,200.0 L212.1,199.7 L212.6,199.5 L213.1,199.2 L213.6,198.9 L214.1,198.7 L214.6,198.4 L215.1,198.1 L215.6,197.8 L216.1,197.6 L216.6,197.3 L217.1,197.0 L217.6,196.8 L218.1,196.5 L218.6,196.2 L219.1,196.0 L219.6,195.7 L220.1,195.4 L220.6,195.2 L221.1,194.9 L221.6,194.7 L222.1,194.4 L222.6,194.1 L223.1,193.9 L223.6,193.6 L224.1,193.4 L224.6,193.1 L225.1,192.8 L225.6,192.6 L226.1,192.3 L226.6,192.1 L227.1,191.8 L227.6,191.6 L228.1,191.3 L228.6,191.1 L229.1,190.8 L229.6,190.6 L230.1,190.3 L230.6,190.1 L231.1,189.9 L231.6,189.6 L232.1,189.4 L232.6,189.2 L233.1,189.0 L233.6,188.8 L234.1,188.5 L234.6,188.3 L235.1,188.1 L235.6,187.9 L236.1,187.7 L236.6,187.5 L237.1,187.4 L237.6,187.2 L238.1,187.0 L238.6,186.9 L239.1,186.7 L239.6,186.6 L240.1,186.6 L240.6,186.5 L241.1,186.5 L241.6,186.5 L242.1,186.6 L242.6,186.7 L243.1,186.8 L243.6,186.9 L244.1,187.0 L244.6,187.2 L245.1,187.4 L245.6,187.6 L246.1,187.8 L246.6,188.0 L247.1,188.2 L247.6,188.4 L248.1,188.6 L248.6,188.8 L249.1,189.0 L249.6,189.2 L250.1,189.4 L250.6,189.6 L251.1,189.8 L251.6,190.0 L252.1,190.2 L252.6,190.4 L253.1,190.7 L253.6,190.9 L254.1,191.2 L254.6,191.5 L255.1,191.8 L255.6,192.1 L256.1,192.4 L256.6,192.8 L257.1,193.1 L257.6,193.5 L258.1,193.8 L258.6,194.2 L259.1,194.6 L259.6,195.0 L260.1,195.4 L260.6,195.8 L261.1,196.2 L261.6,196.6 L262.1,197.0 L262.6,197.4 L263.1,197.8 L263.6,198.3 L264.1,198.7 L264.6,199.1 L265.1,199.6 L265.6,200.0 L266.1,200.5 L266.6,201.0 L267.1,201.4 L267.6,201.9 L268.1,202.3 L268.6,202.8 L269.1,203.3 L269.6,203.7 L270.1,204.2 L270.6,204.7 L271.1,205.2 L271.6,205.6 L272.1,206.1 L272.6,206.6 L273.1,207.0 L273.6,207.5 L274.1,207.9 L274.6,208.4 L275.1,208.9 L275.6,209.3 L276.1,209.7 L276.6,210.2 L277.1,210.6 L277.6,211.1 L278.1,211.5 L278.6,211.9 L279.1,212.4 L279.6,212.8 L280.1,213.2 L280.6,213.6 L281.1,214.1 L281.6,214.5 L282.1,214.9 L282.6,215.3 L283.1,215.7 L283.6,216.2 L284.1,216.6 L284.6,217.0 L285.1,217.4 L285.6,217.8 L286.1,218.2 L286.6,218.6 L287.1,218.9 L287.6,219.3 L288.1,219.7 L288.6,220.0 L289.1,220.4 L289.6,220.8 L290.1,221.1 L290.6,221.4 L291.1,221.8 L291.6,222.1 L292.1,222.4 L292.6,222.8 L293.1,223.1 L293.6,223.4 L294.1,223.7 L294.6,224.0 L295.1,224.3 L295.6,224.6 L296.1,224.9 L296.6,225.2 L297.1,225.4 L297.6,225.7 L298.1,226.0 L298.6,226.2 L299.1,226.4 L299.6,226.7 L300.1,226.9 L300.6,227.1 L301.1,227.3 L301.6,227.5 L302.1,227.7 L302.6,227.9 L303.1,228.1 L303.6,228.2 L304.1,228.4 L304.6,228.6 L305.1,228.7 L305.6,228.9 L306.1,229.0 L306.6,229.1 L307.1,229.3 L307.6,229.4 L308.1,229.5 L308.6,229.6 L309.1,229.8 L309.6,229.9 L310.1,230.0 L310.6,230.1 L311.1,230.2 L311.6,230.3 L312.1,230.4 L312.6,230.5 L313.1,230.6 L313.6,230.7 L314.1,230.7 L314.6,230.8 L315.1,230.9 L315.6,230.9 L316.1,231.0 L316.6,231.0 L317.1,231.0 L317.6,231.0 L318.1,231.0 L318.6,231.0 L319.1,231.0 L319.6,231.0 L320.1,231.0 L320.6,230.9 L321.1,230.9 L321.6,230.8 L322.1,230.8 L322.6,230.7 L323.1,230.6 L323.6,230.6 L324.1,230.5 L324.6,230.4 L325.1,230.4 L325.6,230.3 L326.1,230.2 L326.6,230.1 L327.1,230.1 L327.6,230.0 L328.1,229.9 L328.6,229.8 L329.1,229.7 L329.6,229.6 L330.1,229.5 L330.6,229.4 L331.1,229.3 L331.6,229.2 L332.1,229.1 L332.6,229.0 L333.1,228.9 L333.6,228.8 L334.1,228.7 L334.6,228.6 L335.1,228.5 L335.6,228.3 L336.1,228.2 L336.6,228.1 L337.1,228.0 L337.6,227.8 L338.1,227.7 L338.6,227.6 L339.1,227.4 L339.6,227.3 L340.1,227.1 L340.6,227.0 L341.1,226.8 L341.6,226.7 L342.1,226.6 L342.6,226.4 L343.1,226.3 L343.6,226.1 L344.1,226.0 L344.6,225.8 L345.1,225.7 L345.6,225.5 L346.1,225.4 L346.6,225.3 L347.1,225.2 L347.6,225.0 L348.1,224.9 L348.6,224.8 L349.1,224.7 L349.6,224.6 L350.1,224.5 L350.6,224.4 L351.1,224.3 L351.6,224.2 L352.1,224.1 L352.6,224.1 L353.1,224.0 L353.6,223.9 L354.1,223.9 L354.6,223.8 L355.1,223.8 L355.6,223.7 L356.1,223.7 L356.6,223.6 L357.1,223.6 L357.6,223.5 L358.1,223.5 L358.6,223.5 L359.1,223.4 L359.6,223.4 L360.1,223.4 L360.6,223.4 L361.1,223.3 L361.6,223.3 L362.1,223.3 L362.6,223.3 L363.1,223.3 L363.6,223.2 L364.1,223.2 L364.6,223.2 L365.1,223.2 L365.6,223.2 L366.1,223.2 L366.6,223.2 L367.1,223.2 L367.6,223.2 L368.1,223.2 L368.6,223.2 L369.1,223.2 L369.6,223.2 L370.1,223.2 L370.6,223.2 L371.1,223.2 L371.6,223.2 L372.1,223.2 L372.6,223.2 L373.1,223.3 L373.6,223.3 L374.1,223.3 L374.6,223.3 L375.1,223.3 L375.6,223.4 L376.1,223.4 L376.6,223.4 L377.1,223.5 L377.6,223.5 L378.1,223.6 L378.6,223.6 L379.1,223.7 L379.6,223.7 L380.1,223.8 L380.6,223.8 L381.1,223.9 L381.6,224.0 L382.1,224.0 L382.6,224.1 L383.1,224.2 L383.6,224.3 L384.1,224.4 L384.6,224.4 L385.1,224.5 L385.6,224.6 L386.1,224.7 L386.6,224.8 L387.1,224.9 L387.6,225.1 L388.1,225.2 L388.6,225.3 L389.1,225.4 L389.6,225.6 L390.1,225.7 L390.6,225.9 L391.1,226.0 L391.6,226.2 L392.1,226.4 L392.6,226.6 L393.1,226.7 L393.6,226.9 L394.1,227.1 L394.6,227.3 L395.1,227.6 L395.6,227.8 L396.1,228.0 L396.6,228.2 L397.1,228.4 L397.6,228.7 L398.1,228.9 L398.6,229.1 L399.1,229.3 L399.6,229.6 L400.1,229.8 L400.6,230.0 L401.1,230.2 L401.6,230.5 L402.1,230.7 L402.6,230.9 L403.1,231.2 L403.6,231.4 L404.1,231.6 L404.6,231.8 L405.1,232.0 L405.6,232.3 L406.1,232.5 L406.6,232.7 L407.1,232.9 L407.6,233.1 L408.1,233.4 L408.6,233.6 L409.1,233.8 L409.6,234.0 L410.1,234.3 L410.6,234.5 L411.1,234.7 L411.6,234.9 L412.1,235.1 L412.6,235.4 L413.1,235.6 L413.6,235.8 L414.1,236.0 L414.6,236.2 L415.1,236.5 L415.6,236.7 L416.1,236.9 L416.6,237.1 L417.1,237.3 L417.6,237.5 L418.1,237.8 L418.6,238.0 L419.1,238.2 L419.6,238.4 L420.1,238.6 L420.6,238.8 L421.1,239.0 L421.6,239.2 L422.1,239.5 L422.6,239.7 L423.1,239.9 L423.6,240.1 L424.1,240.3 L424.6,240.5 L425.1,240.7 L425.6,240.9 L426.1,241.1 L426.6,241.3 L427.1,241.5 L427.6,241.7 L428.1,241.9 L428.6,242.1 L429.1,242.3 L429.6,242.5 L430.1,242.7 L430.6,242.9 L431.1,243.1 L431.6,243.3 L432.1,243.4 L432.6,243.6 L433.1,243.8 L433.6,244.0 L434.1,244.2 L434.6,244.4 L435.1,244.6 L435.6,244.8 L436.1,244.9 L436.6,245.1 L437.1,245.3 L437.6,245.5 L438.1,245.7 L438.6,245.9 L439.1,246.0 L439.6,246.2 L440.1,246.4 L440.6,246.6 L441.1,246.8 L441.6,246.9 L442.1,247.1 L442.6,247.3 L443.1,247.5 L443.6,247.6 L444.1,247.8 L444.6,248.0 L445.1,248.2 L445.6,248.3 L446.1,248.5 L446.6,248.7 L447.1,248.8 L447.6,249.0 L448.1,249.2 L448.6,249.4 L449.1,249.5 L449.6,249.7 L450.1,249.9 L450.6,250.0 L451.1,250.2 L451.6,250.4 L452.1,250.5 L452.6,250.7 L453.1,250.9 L453.6,251.0 L454.1,251.2 L454.6,251.4 L455.1,251.5 L455.6,251.7 L456.1,251.9 L456.6,252.0 L457.1,252.2 L457.6,252.4 L458.1,252.5 L458.6,252.7 L459.1,252.9 L459.6,253.0 L460.1,253.2 L460.6,253.3 L461.1,253.5 L461.6,253.7 L462.1,253.8 L462.6,254.0 L463.1,254.2 L463.6,254.3 L464.1,254.5 L464.6,254.7 L465.1,254.8 L465.6,255.0 L466.1,255.1 L466.6,255.3 L467.1,255.5 L467.6,255.6 L468.1,255.8 L468.6,255.9 L469.1,256.1 L469.6,256.2 L470.1,256.4 L470.6,256.6 L471.1,256.7 L471.6,256.9 L472.1,257.0 L472.6,257.2 L473.1,257.3 L473.6,257.5 L474.1,257.7 L474.6,257.8 L475.1,258.0 L475.6,258.1 L476.1,258.3 L476.6,258.4 L477.1,258.6 L477.6,258.7 L478.1,258.9 L478.6,259.0 L479.1,259.2 L479.6,259.3 L480.1,259.5 L480.6,259.6 L481.1,259.8 L481.6,259.9 L482.1,260.1 L482.6,260.2 L483.1,260.3 L483.6,260.5 L484.1,260.6 L484.6,260.8 L485.1,260.9 L485.6,261.0 L486.1,261.2 L486.6,261.3 L487.1,261.4 L487.6,261.5 L488.1,261.7 L488.6,261.8 L489.1,261.9 L489.6,262.1 L490.1,262.2 L490.6,262.3 L491.1,262.4 L491.6,262.5 L492.1,262.7 L492.6,262.8 L493.1,262.9 L493.6,263.0 L494.1,263.1 L494.6,263.3 L495.1,263.4 L495.6,263.5 L496.1,263.6 L496.6,263.7 L497.1,263.8 L497.6,263.9 L498.1,264.0 L498.6,264.1 L499.1,264.2 L499.6,264.3 L500.1,264.4 L500.6,264.5 L501.1,264.6 L501.6,264.7 L502.1,264.8 L502.6,264.9 L503.1,264.9 L503.6,265.0 L504.1,265.1 L504.6,265.2 L505.1,265.3 L505.6,265.4 L506.1,265.4 L506.6,265.5 L507.1,265.6 L507.6,265.7 L508.1,265.7 L508.6,265.8 L509.1,265.9 L509.4,265.9" stroke="#8000ff"/>
<path d="M48.6,77.6 L49.1,77.9 L49.6,78.1 L50.1,78.4 L50.6,78.6 L51.1,78.8 L51.6,79.0 L52.1,79.2 L52.6,79.4 L53.1,79.6 L53.6,79.8 L54.1,79.9 L54.6,80.1 L55.1,80.2 L55.6,80.3 L56.1,80.4 L56.6,80.5 L57.1,80.6 L57.6,80.6 L58.1,80.7 L58.6,80.7 L59.1,80.7 L59.6,80.7 L60.1,80.6 L60.6,80.6 L61.1,80.5 L61.6,80.5 L62.1,80.4 L62.6,80.3 L63.1,80.1 L63.6,80.0 L64.1,79.8 L64.6,79.6 L65.1,79.4 L65.6,79.1 L66.1,78.9 L66.6,78.6 L67.1,78.3 L67.6,78.0 L68.1,77.7 L68.6,77.3 L69.1,77.0 L69.6,76.7 L70.1,76.4 L70.6,76.1 L71.1,75.8 L71.6,75.5 L72.1,75.3 L72.6,75.0 L73.1,74.8 L73.6,74.5 L74.1,74.3 L74.6,74.0 L75.1,73.8 L75.6,73.6 L76.1,73.3 L76.6,73.0 L77.1,72.8 L77.6,72.5 L78.1,72.2 L78.6,71.8 L79.1,71.5 L79.6,71.1 L80.1,70.7 L80.6,70.3 L81.1,70.0 L81.6,69.7 L82.1,69.3 L82.6,69.0 L83.1,68.8 L83.6,68.5 L84.1,68.2 L84.6,68.0 L85.1,67.8 L85.6,67.6 L86.1,67.4 L86.6,67.2 L87.1,67.1 L87.6,66.9 L88.1,66.8 L88.6,66.8 L89.1,66.7 L89.6,66.7 L90.1,66.7 L90.6,66.7 L91.1,66.7 L91.6,66.8 L92.1,66.9 L92.6,67.0 L93.1,67.1 L93.6,67.2 L94.1,67.4 L94.6,67.5 L95.1,67.7 L95.6,67.9 L96.1,68.1 L96.6,68.3 L97.1,68.6 L97.6,68.8 L98.1,69.1 L98.6,69.3 L99.1,69.6 L99.6,69.8 L100.1,70.1 L100.6,70.4 L101.1,70.7 L101.6,71.0 L102.1,71.3 L102.6,71.6 L103.1,71.9 L103.6,72.3 L104.1,72.6 L104.6,73.0 L105.1,73.3 L105.6,73.7 L106.1,74.1 L106.6,74.5 L107.1,74.9 L107.6,75.4 L108.1,75.9 L108.6,76.4 L109.1,76.9 L109.6,77.5 L110.1,78.1 L110.6,78.7 L111.1,79.4 L111.6,80.2 L112.1,80.9 L112.6,81.7 L113.1,82.6 L113.6,83.5 L114.1,84.4 L114.6,85.3 L115.1,86.2 L115.6,87.2 L116.1,88.2 L116.6,89.2 L117.1,90.3 L117.6,91.4 L118.1,92.5 L118.6,93.6 L119.1,94.8 L119.6,96.1 L120.1,97.4 L120.6,98.7 L121.1,100.0 L121.6,101.4 L122.1,102.8 L122.6,104.2 L123.1,105.6 L123.6,107.1 L124.1,108.6 L124.6,110.0 L125.1,111.5 L125.6,113.1 L126.1,114.6 L126.6,116.2 L127.1,117.8 L127.6,119.3 L128.1,120.9 L128.6,122.5 L129.1,124.1 L129.6,125.7 L130.1,127.2 L130.6,128.7 L131.1,130.2 L131.6,131.7 L132.1,133.1 L132.6,134.5 L133.1,135.9 L133.6,137.3 L134.1,138.7 L134.6,140.1 L135.1,141.5 L135.6,143.0 L136.1,144.5 L136.6,146.0 L137.1,147.6 L137.6,149.3 L138.1,150.9 L138.6,152.5 L139.1,154.1 L139.6,155.6 L140.1,157.0 L140.6,158.3 L141.1,159.4 L141.6,160.5 L142.1,161.5 L142.6,162.4 L143.1,163.2 L143.6,164.1 L144.1,164.9 L144.6,165.7 L145.1,166.5 L145.6,167.3 L146.1,168.0 L146.6,168.8 L147.1,169.6 L147.6,170.4 L148.1,171.2 L148.6,172.0 L149.1,172.7 L149.6,173.5 L150.1,174.3 L150.6,175.1 L151.1,175.9 L151.6,176.7 L152.1,177.5 L152.6,178.3 L153.1,179.0 L153.6,179.8 L154.1,180.6 L154.6,181.4 L155.1,182.1 L155.6,182.9 L156.1,183.6 L156.6,184.3 L157.1,185.0 L157.6,185.7 L158.1,186.3 L158.6,187.0 L159.1,187.6 L159.6,188.2 L160.1,188.8 L160.6,189.4 L161.1,190.0 L161.6,190.5 L162.1,191.1 L162.6,191.6 L163.1,192.2 L163.6,192.7 L164.1,193.2 L164.6,193.8 L165.1,194.3 L165.6,194.8 L166.1,195.3 L166.6,195.8 L167.1,196.3 L167.6,196.7 L168.1,197.2 L168.6,197.7 L169.1,198.2 L169.6,198.6 L170.1,199.1 L170.6,199.5 L171.1,200.0 L171.6,200.4 L172.1,200.9 L172.6,201.3 L173.1,201.7 L173.6,202.1 L174.1,202.6 L174.6,203.0 L175.1,203.3 L175.6,203.7 L176.1,204.1 L176.6,204.5 L177.1,204.8 L177.6,205.2 L178.1,205.5 L178.6,205.8 L179.1,206.1 L179.6,206.4 L180.1,206.7 L180.6,207.0 L181.1,207.2 L181.6,207.4 L182.1,207.6 L182.6,207.8 L183.1,207.9 L183.6,208.1 L184.1,208.2 L184.6,208.3 L185.1,208.4 L185.6,208.5 L186.1,208.5 L186.6,208.6 L187.1,208.7 L187.6,208.7 L188.1,208.7 L188.6,208.8 L189.1,208.8 L189.6,208.8 L190.1,208.8 L190.6,208.8 L191.1,208.8 L191.6,208.8 L192.1,208.8 L192.6,208.7 L193.1,208.7 L193.6,208.7 L194.1,208.6 L194.6,208.5 L195.1,208.5 L195.6,208.4 L196.1,208.3 L196.6,208.3 L197.1,208.2 L197.6,208.1 L198.1,208.0 L198.6,208.0 L199.1,207.9 L199.6,207.8 L200.1,207.7 L200.6,207.6 L201.1,207.5 L201.6,207.4 L202.1,207.3 L202.6,207.2 L203.1,207.0 L203.6,206.9 L204.1,206.8 L204.6,206.6 L205.1,206.5 L205.6,206.3 L206.1,206.1 L206.6,206.0 L207.1,205.8 L207.6,205.6 L208.1,205.5 L208.6,205.3 L209.1,205.1 L209.6,205.0 L210.1,204.8 L210.6,204.6 L211.1,204.5 L211.6,204.3 L212.1,204.1 L212.6,203.9 L213.1,203.8 L213.6,203.6 L214.1,203.4 L214.6,203.2 L215.1,203.1 L215.6,202.9 L216.1,202.7 L216.6,202.5 L217.1,202.4 L217.6,202.2 L218.1,202.0 L218.6,201.8 L219.1,201.7 L219.6,201.5 L220.1,201.3 L220.6,201.2 L221.1,201.0 L221.6,200.8 L222.1,200.6 L222.6,200.5 L223.1,200.3 L223.6,200.1 L224.1,200.0 L224.6,199.8 L225.1,199.7 L225.6,199.5 L226.1,199.4 L226.6,199.2 L227.1,199.1 L227.6,198.9 L228.1,198.8 L228.6,198.7 L229.1,198.5 L229.6,198.4 L230.1,198.2 L230.6,198.1 L231.1,198.0 L231.6,197.8 L232.1,197.7 L232.6,197.6 L233.1,197.5 L233.6,197.4 L234.1,197.2 L234.6,197.1 L235.1,197.0 L235.6,196.9 L236.1,196.8 L236.6,196.7 L237.1,196.6 L237.6,196.5 L238.1,196.5 L238.6,196.4 L239.1,196.3 L239.6,196.2 L240.1,196.2 L240.6,196.1 L241.1,196.0 L241.6,196.0 L242.1,196.0 L242.6,195.9 L243.1,195.9 L243.6,195.9 L244.1,195.8 L244.6,195.8 L245.1,195.8 L245.6,195.8 L246.1,195.8 L246.6,195.8 L247.1,195.8 L247.6,195.8 L248.1,195.8 L248.6,195.8 L249.1,195.9 L249.6,195.9 L250.1,195.9 L250.6,195.9 L251.1,196.0 L251.6,196.0 L252.1,196.1 L252.6,196.1 L253.1,196.1 L253.6,196.2 L254.1,196.3 L254.6,196.3 L255.1,196.4 L255.6,196.5 L256.1,196.5 L256.6,196.6 L257.1,196.7 L257.6,196.8 L258.1,196.9 L258.6,197.0 L259.1,197.1 L259.6,197.2 L260.1,197.3 L260.6,197.4 L261.1,197.6 L261.6,197.7 L262.1,197.8 L262.6,198.0 L263.1,198.1 L263.6,198.3 L264.1,198.5 L264.6,198.7 L265.1,198.9 L265.6,199.0 L266.1,199.2 L266.6,199.4 L267.1,199.6 L267.6,199.8 L268.1,200.0 L268.6,200.2 L269.1,200.4 L269.6,200.7 L270.1,200.9 L270.6,201.2 L271.1,201.5 L271.6,201.9 L272.1,202.3 L272.6,202.7 L273.1,203.2 L273.6,203.7 L274.1,204.2 L274.6,204.7 L275.1,205.2 L275.6,205.8 L276.1,206.3 L276.6,206.9 L277.1,207.4 L277.6,208.0 L278.1,208.5 L278.6,209.1 L279.1,209.7 L279.6,210.2 L280.1,210.8 L280.6,211.4 L281.1,211.9 L281.6,212.5 L282.1,213.0 L282.6,213.6 L283.1,214.1 L283.6,214.6 L284.1,215.2 L284.6,215.7 L285.1,216.2 L285.6,216.8 L286.1,217.3 L286.6,217.8 L287.1,218.3 L287.6,218.9 L288.1,219.4 L288.6,219.9 L289.1,220.5 L289.6,221.0 L290.1,221.5 L290.6,222.0 L291.1,222.5 L291.6,223.0 L292.1,223.5 L292.6,224.0 L293.1,224.5 L293.6,225.0 L294.1,225.5 L294.6,226.0 L295.1,226.5 L295.6,227.0 L296.1,227.4 L296.6,227.9 L297.1,228.4 L297.6,228.8 L298.1,229.3 L298.6,229.7 L299.1,230.2 L299.6,230.6 L300.1,231.1 L300.6,231.5 L301.1,231.9 L301.6,232.3 L302.1,232.7 L302.6,233.0 L303.1,233.4 L303.6,233.7 L304.1,234.0 L304.6,234.3 L305.1,234.6 L305.6,234.9 L306.1,235.2 L306.6,235.5 L307.1,235.7 L307.6,236.0 L308.1,236.2 L308.6,236.4 L309.1,236.6 L309.6,236.8 L310.1,237.0 L310.6,237.2 L311.1,237.4 L311.6,237.6 L312.1,237.8 L312.6,238.0 L313.1,238.1 L313.6,238.3 L314.1,238.4 L314.6,238.6 L315.1,238.7 L315.6,238.9 L316.1,239.0 L316.6,239.1 L317.1,239.3 L317.6,239.4 L318.1,239.5 L318.6,239.6 L319.1,239.7 L319.6,239.8 L320.1,239.8 L320.6,239.9 L321.1,240.0 L321.6,240.0 L322.1,240.0 L322.6,240.0 L323.1,240.1 L323.6,240.0 L324.1,240.0 L324.6,240.0 L325.1,240.0 L325.6,239.9 L326.1,239.9 L326.6,239.8 L327.1,239.8 L327.6,239.7 L328.1,239.6 L328.6,239.6 L329.1,239.5 L329.6,239.4 L330.1,239.4 L330.6,239.3 L331.1,239.2 L331.6,239.1 L332.1,239.0 L332.6,238.9 L333.1,238.9 L333.6,238.8 L334.1,238.7 L334.6,238.6 L335.1,238.5 L335.6,238.4 L336.1,238.3 L336.6,238.2 L337.1,238.0 L337.6,237.9 L338.1,237.8 L338.6,237.7 L339.1,237.6 L339.6,237.5 L340.1,237.3 L340.6,237.2 L341.1,237.1 L341.6,237.0 L342.1,236.9 L342.6,236.7 L343.1,236.6 L343.6,236.5 L344.1,236.4 L344.6,236.3 L345.1,236.2 L345.6,236.0 L346.1,235.9 L346.6,235.8 L347.1,235.7 L347.6,235.6 L348.1,235.5 L348.6,235.4 L349.1,235.4 L349.6,235.3 L350.1,235.2 L350.6,235.1 L351.1,235.0 L351.6,235.0 L352.1,234.9 L352.6,234.8 L353.1,234.7 L353.6,234.7 L354.1,234.6 L354.6,234.5 L355.1,234.5 L355.6,234.4 L356.1,234.3 L356.6,234.3 L357.1,234.2 L357.6,234.2 L358.1,234.1 L358.6,234.0 L359.1,234.0 L359.6,233.9 L360.1,233.9 L360.6,233.8 L361.1,233.8 L361.6,233.8 L362.1,233.7 L362.6,233.7 L363.1,233.6 L363.6,233.6 L364.1,233.6 L364.6,233.5 L365.1,233.5 L365.6,233.5 L366.1,233.4 L366.6,233.4 L367.1,233.4 L367.6,233.4 L368.1,233.3 L368.6,233.3 L369.1,233.3 L369.6,233.2 L370.1,233.2 L370.6,233.2 L371.1,233.2 L371.6,233.1 L372.1,233.1 L372.6,233.1 L373.1,233.1 L373.6,233.0 L374.1,233.0 L374.6,233.0 L375.1,233.0 L375.6,232.9 L376.1,232.9 L376.6,232.9 L377.1,232.9 L377.6,232.8 L378.1,232.8 L378.6,232.8 L379.1,232.7 L379.6,232.7 L380.1,232.7 L380.6,232.7 L381.1,232.6 L381.6,232.6 L382.1,232.6 L382.6,232.5 L383.1,232.5 L383.6,232.5 L384.1,232.4 L384.6,232.4 L385.1,232.4 L385.6,232.3 L386.1,232.3 L386.6,232.3 L387.1,232.2 L387.6,232.2 L388.1,232.2 L388.6,232.1 L389.1,232.1 L389.6,232.1 L390.1,232.0 L390.6,232.0 L391.1,232.0 L391.6,232.0 L392.1,232.0 L392.6,232.0 L393.1,232.0 L393.6,232.0 L394.1,232.1 L394.6,232.1 L395.1,232.1 L395.6,232.2 L396.1,232.2 L396.6,232.3 L397.1,232.4 L397.6,232.4 L398.1,232.5 L398.6,232.6 L399.1,232.7 L399.6,232.7 L400.1,232.8 L400.6,232.9 L401.1,233.0 L401.6,233.1 L402.1,233.2 L402.6,233.2 L403.1,233.3 L403.6,233.4 L404.1,233.5 L404.6,233.6 L405.1,233.7 L405.6,233.8 L406.1,234.0 L406.6,234.1 L407.1,234.2 L407.6,234.3 L408.1,234.5 L408.6,234.6 L409.1,234.7 L409.6,234.9 L410.1,235.0 L410.6,235.2 L411.1,235.4 L411.6,235.5 L412.1,235.7 L412.6,235.8 L413.1,236.0 L413.6,236.2 L414.1,236.3 L414.6,236.5 L415.1,236.7 L415.6,236.8 L416.1,237.0 L416.6,237.2 L417.1,237.4 L417.6,237.5 L418.1,237.7 L418.6,237.9 L419.1,238.1 L419.6,238.2 L420.1,238.4 L420.6,238.6 L421.1,238.8 L421.6,238.9 L422.1,239.1 L422.6,239.3 L423.1,239.5 L423.6,239.7 L424.1,239.8 L424.6,240.0 L425.1,240.2 L425.6,240.4 L426.1,240.5 L426.6,240.7 L427.1,240.9 L427.6,241.1 L428.1,241.2 L428.6,241.4 L429.1,241.6 L429.6,241.8 L430.1,242.0 L430.6,242.1 L431.1,242.3 L431.6,242.5 L432.1,242.7 L432.6,242.9 L433.1,243.0 L433.6,243.2 L434.1,243.4 L434.6,243.6 L435.1,243.8 L435.6,243.9 L436.1,244.1 L436.6,244.3 L437.1,244.5 L437.6,244.7 L438.1,244.8 L438.6,245.0 L439.1,245.2 L439.6,245.4 L440.1,245.5 L440.6,245.7 L441.1,245.9 L441.6,246.1 L442.1,246.3 L442.6,246.4 L443.1,246.6 L443.6,246.8 L444.1,247.0 L444.6,247.2 L445.1,247.3 L445.6,247.5 L446.1,247.7 L446.6,247.9 L447.1,248.0 L447.6,248.2 L448.1,248.4 L448.6,248.6 L449.1,248.7 L449.6,248.9 L450.1,249.1 L450.6,249.3 L451.1,249.4 L451.6,249.6 L452.1,249.8 L452.6,249.9 L453.1,250.1 L453.6,250.3 L454.1,250.4 L454.6,250.6 L455.1,250.8 L455.6,250.9 L456.1,251.1 L456.6,251.3 L457.1,251.4 L457.6,251.6 L458.1,251.8 L458.6,252.0 L459.1,252.1 L459.6,252.3 L460.1,252.5 L460.6,252.6 L461.1,252.8 L461.6,253.0 L462.1,253.1 L462.6,253.3 L463.1,253.5 L463.6,253.6 L464.1,253.8 L464.6,254.0 L465.1,254.1 L465.6,254.3 L466.1,254.5 L466.6,254.6 L467.1,254.8 L467.6,255.0 L468.1,255.1 L468.6,255.3 L469.1,255.4 L469.6,255.6 L470.1,255.8 L470.6,255.9 L471.1,256.1 L471.6,256.3 L472.1,256.4 L472.6,256.6 L473.1,256.8 L473.6,256.9 L474.1,257.1 L474.6,257.2 L475.1,257.4 L475.6,257.6 L476.1,257.7 L476.6,257.9 L477.1,258.0 L477.6,258.2 L478.1,258.4 L478.6,258.5 L479.1,258.7 L479.6,258.8 L480.1,259.0 L480.6,259.1 L481.1,259.3 L481.6,259.5 L482.1,259.6 L482.6,259.8 L483.1,259.9 L483.6,260.0 L484.1,260.2 L484.6,260.3 L485.1,260.5 L485.6,260.6 L486.1,260.7 L486.6,260.9 L487.1,261.0 L487.6,261.2 L488.1,261.3 L488.6,261.4 L489.1,261.6 L489.6,261.7 L490.1,261.8 L490.6,261.9 L491.1,262.1 L491.6,262.2 L492.1,262.3 L492.6,262.5 L493.1,262.6 L493.6,262.7 L494.1,262.8 L494.6,262.9 L495.1,263.1 L495.6,263.2 L496.1,263.3 L496.6,263.4 L497.1,263.5 L497.6,263.6 L498.1,263.8 L498.6,263.9 L499.1,264.0 L499.6,264.1 L500.1,264.2 L500.6,264.3 L501.1,264.4 L501.6,264.5 L502.1,264.6 L502.6,264.7 L503.1,264.7 L503.6,264.8 L504.1,264.9 L504.6,265.0 L505.1,265.1 L505.6,265.2 L506.1,265.3 L506.6,265.3 L507.1,265.4 L507.6,265.5 L508.1,265.6 L508.6,265.6 L509.1,265.7 L509.4,265.8" stroke="#000000"/>
<path d="M48.6,82.2 L49.1,82.4 L49.6,82.6 L50.1,82.8 L50.6,82.9 L51.1,83.1 L51.6,83.2 L52.1,83.4 L52.6,83.5 L53.1,83.6 L53.6,83.7 L54.1,83.8 L54.6,83.9 L55.1,83.9 L55.6,84.0 L56.1,84.0 L56.6,84.0 L57.1,84.0 L57.6,84.0 L58.1,84.0 L58.6,84.0 L59.1,83.9 L59.6,83.9 L60.1,83.8 L60.6,83.7 L61.1,83.6 L61.6,83.5 L62.1,83.3 L62.6,83.2 L63.1,83.0 L63.6,82.8 L64.1,82.5 L64.6,82.3 L65.1,82.0 L65.6,81.7 L66.1,81.3 L66.6,80.9 L67.1,80.5 L67.6,80.1 L68.1,79.6 L68.6,79.1 L69.1,78.7 L69.6,78.2 L70.1,77.8 L70.6,77.4 L71.1,77.0 L71.6,76.7 L72.1,76.4 L72.6,76.1 L73.1,75.9 L73.6,75.6 L74.1,75.4 L74.6,75.1 L75.1,74.9 L75.6,74.6 L76.1,74.4 L76.6,74.1 L77.1,73.8 L77.6,73.5 L78.1,73.2 L78.6,72.8 L79.1,72.4 L79.6,72.1 L80.1,71.7 L80.6,71.3 L81.1,71.0 L81.6,70.7 L82.1,70.3 L82.6,70.0 L83.1,69.8 L83.6,69.5 L84.1,69.2 L84.6,69.0 L85.1,68.8 L85.6,68.6 L86.1,68.4 L86.6,68.2 L87.1,68.1 L87.6,67.9 L88.1,67.8 L88.6,67.8 L89.1,67.7 L89.6,67.7 L90.1,67.7 L90.6,67.7 L91.1,67.7 L91.6,67.8 L92.1,67.9 L92.6,68.0 L93.1,68.1 L93.6,68.2 L94.1,68.4 L94.6,68.5 L95.1,68.7 L95.6,68.9 L96.1,69.1 L96.6,69.3 L97.1,69.6 L97.6,69.8 L98.1,70.1 L98.6,70.3 L99.1,70.6 L99.6,70.8 L100.1,71.1 L100.6,71.4 L101.1,71.7 L101.6,72.0 L102.1,72.3 L102.6,72.6 L103.1,72.9 L103.6,73.3 L104.1,73.6 L104.6,74.0 L105.1,74.3 L105.6,74.7 L106.1,75.1 L106.6,75.5 L107.1,75.9 L107.6,76.4 L108.1,76.9 L108.6,77.4 L109.1,77.9 L109.6,78.5 L110.1,79.1 L110.6,79.7 L111.1,80.4 L111.6,81.1 L112.1,81.9 L112.6,82.7 L113.1,83.6 L113.6,84.4 L114.1,85.4 L114.6,86.3 L115.1,87.3 L115.6,88.3 L116.1,89.3 L116.6,90.3 L117.1,91.4 L117.6,92.5 L118.1,93.6 L118.6,94.7 L119.1,95.9 L119.6,97.1 L120.1,98.3 L120.6,99.5 L121.1,100.8 L121.6,102.1 L122.1,103.4 L122.6,104.7 L123.1,106.0 L123.6,107.4 L124.1,108.8 L124.6,110.2 L125.1,111.6 L125.6,113.1 L126.1,114.6 L126.6,116.1 L127.1,117.7 L127.6,119.3 L128.1,120.9 L128.6,122.5 L129.1,124.1 L129.6,125.6 L130.1,127.2 L130.6,128.7 L131.1,130.2 L131.6,131.7 L132.1,133.1 L132.6,134.5 L133.1,135.9 L133.6,137.3 L134.1,138.7 L134.6,140.1 L135.1,141.5 L135.6,143.0 L136.1,144.5 L136.6,146.0 L137.1,147.6 L137.6,149.3 L138.1,150.9 L138.6,152.5 L139.1,154.1 L139.6,155.6 L140.1,157.0 L140.6,158.3 L141.1,159.4 L141.6,160.5 L142.1,161.5 L142.6,162.4 L143.1,163.2 L143.6,164.1 L144.1,164.9 L144.6,165.7 L145.1,166.5 L145.6,167.3 L146.1,168.0 L146.6,168.8 L147.1,169.6 L147.6,170.4 L148.1,171.2 L148.6,172.0 L149.1,172.7 L149.6,173.5 L150.1,174.3 L150.6,175.1 L151.1,175.9 L151.6,176.7 L152.1,177.5 L152.6,178.3 L153.1,179.0 L153.6,179.8 L154.1,180.6 L154.6,181.4 L155.1,182.1 L155.6,182.9 L156.1,183.6 L156.6,184.3 L157.1,185.1 L157.6,185.8 L158.1,186.5 L158.6,187.1 L159.1,187.8 L159.6,188.5 L160.1,189.1 L160.6,189.7 L161.1,190.4 L161.6,191.0 L162.1,191.6 L162.6,192.2 L163.1,192.8 L163.6,193.4 L164.1,193.9 L164.6,194.5 L165.1,195.0 L165.6,195.6 L166.1,196.1 L166.6,196.6 L167.1,197.1 L167.6,197.6 L168.1,198.1 L168.6,198.6 L169.1,199.1 L169.6,199.6 L170.1,200.1 L170.6,200.5 L171.1,201.0 L171.6,201.5 L172.1,201.9 L172.6,202.4 L173.1,202.8 L173.6,203.2 L174.1,203.6 L174.6,204.0 L175.1,204.4 L175.6,204.8 L176.1,205.1 L176.6,205.5 L177.1,205.9 L177.6,206.2 L178.1,206.5 L178.6,206.8 L179.1,207.1 L179.6,207.4 L180.1,207.6 L180.6,207.9 L181.1,208.1 L181.6,208.3 L182.1,208.4 L182.6,208.6 L183.1,208.7 L183.6,208.8 L184.1,208.9 L184.6,208.9 L185.1,208.9 L185.6,209.0 L186.1,209.0 L186.6,208.9 L187.1,208.9 L187.6,208.9 L188.1,208.9 L188.6,208.8 L189.1,208.7 L189.6,208.7 L190.1,208.6 L190.6,208.5 L191.1,208.4 L191.6,208.2 L192.1,208.1 L192.6,207.9 L193.1,207.8 L193.6,207.6 L194.1,207.4 L194.6,207.2 L195.1,206.9 L195.6,206.7 L196.1,206.4 L196.6,206.2 L197.1,205.9 L197.6,205.7 L198.1,205.4 L198.6,205.2 L199.1,204.9 L199.6,204.7 L200.1,204.5 L200.6,204.2 L201.1,203.9 L201.6,203.7 L202.1,203.4 L202.6,203.2 L203.1,202.9 L203.6,202.7 L204.1,202.4 L204.6,202.2 L205.1,201.9 L205.6,201.7 L206.1,201.4 L206.6,201.2 L207.1,200.9 L207.6,200.7 L208.1,200.4 L208.6,200.2 L209.1,200.0 L209.6,199.7 L210.1,199.4 L210.6,199.2 L211.1,198.9 L211.6,198.7 L212.1,198.4 L212.6,198.2 L213.1,198.0 L213.6,197.7 L214.1,197.4 L214.6,197.2 L215.1,196.9 L215.6,196.7 L216.1,196.4 L216.6,196.2 L217.1,195.9 L217.6,195.7 L218.1,195.4 L218.6,195.2 L219.1,194.9 L219.6,194.7 L220.1,194.4 L220.6,194.2 L221.1,193.9 L221.6,193.7 L222.1,193.4 L222.6,193.2 L223.1,192.9 L223.6,192.7 L224.1,192.4 L224.6,192.2 L225.1,191.9 L225.6,191.7 L226.1,191.4 L226.6,191.2 L227.1,190.9 L227.6,190.7 L228.1,190.4 L228.6,190.2 L229.1,190.0 L229.6,189.7 L230.1,189.5 L230.6,189.2 L231.1,189.0 L231.6,188.7 L232.1,188.5 L232.6,188.2 L233.1,188.0 L233.6,187.7 L234.1,187.5 L234.6,187.3 L235.1,187.0 L235.6,186.8 L236.1,186.5 L236.6,186.3 L237.1,186.1 L237.6,185.9 L238.1,185.6 L238.6,185.4 L239.1,185.3 L239.6,185.1 L240.1,185.0 L240.6,184.9 L241.1,184.9 L241.6,184.9 L242.1,185.0 L242.6,185.1 L243.1,185.2 L243.6,185.3 L244.1,185.5 L244.6,185.7 L245.1,185.9 L245.6,186.2 L246.1,186.4 L246.6,186.6 L247.1,186.9 L247.6,187.1 L248.1,187.3 L248.6,187.6 L249.1,187.8 L249.6,188.0 L250.1,188.3 L250.6,188.5 L251.1,188.7 L251.6,189.0 L252.1,189.2 L252.6,189.5 L253.1,189.7 L253.6,190.0 L254.1,190.3 L254.6,190.6 L255.1,190.9 L255.6,191.3 L256.1,191.6 L256.6,192.0 L257.1,192.3 L257.6,192.7 L258.1,193.1 L258.6,193.5 L259.1,193.9 L259.6,194.3 L260.1,194.7 L260.6,195.1 L261.1,195.5 L261.6,195.9 L262.1,196.4 L262.6,196.8 L263.1,197.3 L263.6,197.8 L264.1,198.2 L264.6,198.7 L265.1,199.2 L265.6,199.7 L266.1,200.2 L266.6,200.7 L267.1,201.3 L267.6,201.8 L268.1,202.3 L268.6,202.8 L269.1,203.4 L269.6,203.9 L270.1,204.4 L270.6,205.0 L271.1,205.5 L271.6,206.0 L272.1,206.6 L272.6,207.1 L273.1,207.6 L273.6,208.1 L274.1,208.7 L274.6,209.2 L275.1,209.7 L275.6,210.2 L276.1,210.8 L276.6,211.3 L277.1,211.8 L277.6,212.3 L278.1,212.8 L278.6,213.3 L279.1,213.9 L279.6,214.4 L280.1,214.9 L280.6,215.4 L281.1,215.9 L281.6,216.4 L282.1,216.9 L282.6,217.4 L283.1,217.8 L283.6,218.3 L284.1,218.7 L284.6,219.1 L285.1,219.5 L285.6,219.9 L286.1,220.2 L286.6,220.6 L287.1,220.9 L287.6,221.3 L288.1,221.6 L288.6,222.0 L289.1,222.3 L289.6,222.7 L290.1,223.2 L290.6,223.6 L291.1,224.0 L291.6,224.5 L292.1,225.0 L292.6,225.5 L293.1,226.0 L293.6,226.5 L294.1,227.1 L294.6,227.6 L295.1,228.1 L295.6,228.7 L296.1,229.2 L296.6,229.7 L297.1,230.2 L297.6,230.7 L298.1,231.2 L298.6,231.7 L299.1,232.2 L299.6,232.6 L300.1,233.0 L300.6,233.5 L301.1,233.9 L301.6,234.3 L302.1,234.6 L302.6,235.0 L303.1,235.4 L303.6,235.7 L304.1,236.1 L304.6,236.4 L305.1,236.7 L305.6,237.0 L306.1,237.3 L306.6,237.6 L307.1,237.9 L307.6,238.2 L308.1,238.4 L308.6,238.7 L309.1,238.9 L309.6,239.2 L310.1,239.4 L310.6,239.6 L311.1,239.8 L311.6,240.1 L312.1,240.3 L312.6,240.4 L313.1,240.6 L313.6,240.8 L314.1,241.0 L314.6,241.2 L315.1,241.3 L315.6,241.5 L316.1,241.6 L316.6,241.8 L317.1,241.9 L317.6,242.1 L318.1,242.2 L318.6,242.3 L319.1,242.4 L319.6,242.6 L320.1,242.6 L320.6,242.7 L321.1,242.8 L321.6,242.9 L322.1,242.9 L322.6,243.0 L323.1,243.0 L323.6,243.0 L324.1,243.0 L324.6,243.0 L325.1,243.0 L325.6,242.9 L326.1,242.9 L326.6,242.9 L327.1,242.9 L327.6,242.8 L328.1,242.8 L328.6,242.7 L329.1,242.7 L329.6,242.7 L330.1,242.6 L330.6,242.6 L331.1,242.5 L331.6,242.5 L332.1,242.4 L332.6,242.4 L333.1,242.3 L333.6,242.3 L334.1,242.2 L334.6,242.2 L335.1,242.1 L335.6,242.1 L336.1,242.0 L336.6,241.9 L337.1,241.9 L337.6,241.8 L338.1,241.8 L338.6,241.7 L339.1,241.6 L339.6,241.6 L340.1,241.5 L340.6,241.4 L341.1,241.3 L341.6,241.3 L342.1,241.2 L342.6,241.1 L343.1,241.0 L343.6,241.0 L344.1,240.9 L344.6,240.8 L345.1,240.7 L345.6,240.7 L346.1,240.6 L346.6,240.5 L347.1,240.4 L347.6,240.3 L348.1,240.3 L348.6,240.2 L349.1,240.1 L349.6,240.0 L350.1,240.0 L350.6,239.9 L351.1,239.8 L351.6,239.7 L352.1,239.7 L352.6,239.6 L353.1,239.5 L353.6,239.4 L354.1,239.3 L354.6,239.3 L355.1,239.2 L355.6,239.1 L356.1,239.1 L356.6,239.0 L357.1,238.9 L357.6,238.8 L358.1,238.8 L358.6,238.7 L359.1,238.6 L359.6,238.6 L360.1,238.5 L360.6,238.4 L361.1,238.4 L361.6,238.3 L362.1,238.2 L362.6,238.2 L363.1,238.1 L363.6,238.0 L364.1,238.0 L364.6,237.9 L365.1,237.8 L365.6,237.8 L366.1,237.7 L366.6,237.7 L367.1,237.6 L367.6,237.5 L368.1,237.5 L368.6,237.4 L369.1,237.4 L369.6,237.3 L370.1,237.2 L370.6,237.2 L371.1,237.1 L371.6,237.1 L372.1,237.0 L372.6,237.0 L373.1,236.9 L373.6,236.9 L374.1,236.8 L374.6,236.7 L375.1,236.7 L375.6,236.6 L376.1,236.6 L376.6,236.5 L377.1,236.5 L377.6,236.4 L378.1,236.4 L378.6,236.3 L379.1,236.3 L379.6,236.2 L380.1,236.2 L380.6,236.1 L381.1,236.1 L381.6,236.1 L382.1,236.0 L382.6,236.0 L383.1,235.9 L383.6,235.9 L384.1,235.9 L384.6,235.8 L385.1,235.8 L385.6,235.8 L386.1,235.7 L386.6,235.7 L387.1,235.7 L387.6,235.7 L388.1,235.6 L388.6,235.6 L389.1,235.6 L389.6,235.6 L390.1,235.6 L390.6,235.6 L391.1,235.5 L391.6,235.5 L392.1,235.5 L392.6,235.5 L393.1,235.5 L393.6,235.5 L394.1,235.5 L394.6,235.5 L395.1,235.5 L395.6,235.5 L396.1,235.5 L396.6,235.5 L397.1,235.5 L397.6,235.6 L398.1,235.6 L398.6,235.6 L399.1,235.6 L399.6,235.6 L400.1,235.7 L400.6,235.7 L401.1,235.7 L401.6,235.8 L402.1,235.8 L402.6,235.8 L403.1,235.9 L403.6,235.9 L404.1,235.9 L404.6,236.0 L405.1,236.0 L405.6,236.0 L406.1,236.1 L406.6,236.1 L407.1,236.2 L407.6,236.2 L408.1,236.2 L408.6,236.3 L409.1,236.3 L409.6,236.4 L410.1,236.4 L410.6,236.5 L411.1,236.5 L411.6,236.6 L412.1,236.6 L412.6,236.7 L413.1,236.8 L413.6,236.8 L414.1,236.9 L414.6,237.0 L415.1,237.1 L415.6,237.1 L416.1,237.2 L416.6,237.3 L417.1,237.4 L417.6,237.5 L418.1,237.6 L418.6,237.8 L419.1,237.9 L419.6,238.0 L420.1,238.1 L420.6,238.3 L421.1,238.4 L421.6,238.5 L422.1,238.7 L422.6,238.8 L423.1,239.0 L423.6,239.1 L424.1,239.3 L424.6,239.4 L425.1,239.6 L425.6,239.7 L426.1,239.9 L426.6,240.1 L427.1,240.2 L427.6,240.4 L428.1,240.6 L428.6,240.7 L429.1,240.9 L429.6,241.1 L430.1,241.2 L430.6,241.4 L431.1,241.6 L431.6,241.8 L432.1,242.0 L432.6,242.1 L433.1,242.3 L433.6,242.5 L434.1,242.7 L434.6,242.8 L435.1,243.0 L435.6,243.2 L436.1,243.4 L436.6,243.5 L437.1,243.7 L437.6,243.9 L438.1,244.1 L438.6,244.2 L439.1,244.4 L439.6,244.6 L440.1,244.8 L440.6,245.0 L441.1,245.1 L441.6,245.3 L442.1,245.5 L442.6,245.7 L443.1,245.8 L443.6,246.0 L444.1,246.2 L444.6,246.4 L445.1,246.5 L445.6,246.7 L446.1,246.9 L446.6,247.1 L447.1,247.2 L447.6,247.4 L448.1,247.6 L448.6,247.7 L449.1,247.9 L449.6,248.1 L450.1,248.3 L450.6,248.4 L451.1,248.6 L451.6,248.8 L452.1,249.0 L452.6,249.1 L453.1,249.3 L453.6,249.5 L454.1,249.6 L454.6,249.8 L455.1,250.0 L455.6,250.2 L456.1,250.3 L456.6,250.5 L457.1,250.7 L457.6,250.9 L458.1,251.0 L458.6,251.2 L459.1,251.4 L459.6,251.5 L460.1,251.7 L460.6,251.9 L461.1,252.1 L461.6,252.2 L462.1,252.4 L462.6,252.6 L463.1,252.8 L463.6,252.9 L464.1,253.1 L464.6,253.3 L465.1,253.4 L465.6,253.6 L466.1,253.8 L466.6,254.0 L467.1,254.1 L467.6,254.3 L468.1,254.5 L468.6,254.6 L469.1,254.8 L469.6,255.0 L470.1,255.1 L470.6,255.3 L471.1,255.5 L471.6,255.7 L472.1,255.8 L472.6,256.0 L473.1,256.2 L473.6,256.3 L474.1,256.5 L474.6,256.7 L475.1,256.8 L475.6,257.0 L476.1,257.2 L476.6,257.3 L477.1,257.5 L477.6,257.7 L478.1,257.8 L478.6,258.0 L479.1,258.2 L479.6,258.3 L480.1,258.5 L480.6,258.7 L481.1,258.8 L481.6,259.0 L482.1,259.1 L482.6,259.3 L483.1,259.4 L483.6,259.6 L484.1,259.8 L484.6,259.9 L485.1,260.0 L485.6,260.2 L486.1,260.3 L486.6,260.5 L487.1,260.6 L487.6,260.8 L488.1,260.9 L488.6,261.0 L489.1,261.2 L489.6,261.3 L490.1,261.5 L490.6,261.6 L491.1,261.7 L491.6,261.9 L492.1,262.0 L492.6,262.1 L493.1,262.3 L493.6,262.4 L494.1,262.5 L494.6,262.6 L495.1,262.8 L495.6,262.9 L496.1,263.0 L496.6,263.1 L497.1,263.3 L497.6,263.4 L498.1,263.5 L498.6,263.6 L499.1,263.7 L499.6,263.8 L500.1,263.9 L500.6,264.0 L501.1,264.1 L501.6,264.2 L502.1,264.3 L502.6,264.4 L503.1,264.5 L503.6,264.6 L504.1,264.7 L504.6,264.8 L505.1,264.9 L505.6,265.0 L506.1,265.1 L506.6,265.2 L507.1,265.3 L507.6,265.3 L508.1,265.4 L508.6,265.5 L509.1,265.6 L509.4,265.6" stroke="#008080"/>
<path d="M48.6,86.0 L49.1,86.2 L49.6,86.4 L50.1,86.6 L50.6,86.8 L51.1,86.9 L51.6,87.1 L52.1,87.2 L52.6,87.3 L53.1,87.4 L53.6,87.5 L54.1,87.6 L54.6,87.6 L55.1,87.7 L55.6,87.7 L56.1,87.7 L56.6,87.6 L57.1,87.6 L57.6,87.6 L58.1,87.5 L58.6,87.4 L59.1,87.3 L59.6,87.2 L60.1,87.0 L60.6,86.9 L61.1,86.7 L61.6,86.5 L62.1,86.4 L62.6,86.1 L63.1,85.9 L63.6,85.7 L64.1,85.4 L64.6,85.2 L65.1,84.9 L65.6,84.6 L66.1,84.3 L66.6,84.0 L67.1,83.7 L67.6,83.4 L68.1,83.0 L68.6,82.7 L69.1,82.3 L69.6,81.9 L70.1,81.5 L70.6,81.1 L71.1,80.6 L71.6,80.1 L72.1,79.7 L72.6,79.2 L73.1,78.7 L73.6,78.2 L74.1,77.7 L74.6,77.3 L75.1,76.8 L75.6,76.4 L76.1,76.0 L76.6,75.6 L77.1,75.3 L77.6,75.0 L78.1,74.7 L78.6,74.4 L79.1,74.1 L79.6,73.8 L80.1,73.5 L80.6,73.3 L81.1,73.1 L81.6,72.8 L82.1,72.6 L82.6,72.4 L83.1,72.2 L83.6,72.0 L84.1,71.9 L84.6,71.7 L85.1,71.6 L85.6,71.4 L86.1,71.3 L86.6,71.2 L87.1,71.1 L87.6,71.0 L88.1,71.0 L88.6,70.9 L89.1,70.9 L89.6,70.9 L90.1,70.8 L90.6,70.8 L91.1,70.9 L91.6,70.9 L92.1,71.0 L92.6,71.0 L93.1,71.1 L93.6,71.2 L94.1,71.3 L94.6,71.4 L95.1,71.6 L95.6,71.7 L96.1,71.9 L96.6,72.0 L97.1,72.2 L97.6,72.4 L98.1,72.6 L98.6,72.8 L99.1,73.0 L99.6,73.3 L100.1,73.5 L100.6,73.7 L101.1,74.0 L101.6,74.3 L102.1,74.6 L102.6,74.9 L103.1,75.3 L103.6,75.7 L104.1,76.1 L104.6,76.5 L105.1,77.0 L105.6,77.5 L106.1,78.1 L106.6,78.7 L107.1,79.3 L107.6,80.0 L108.1,80.7 L108.6,81.4 L109.1,82.2 L109.6,83.0 L110.1,83.8 L110.6,84.7 L111.1,85.6 L111.6,86.6 L112.1,87.5 L112.6,88.6 L113.1,89.6 L113.6,90.7 L114.1,91.8 L114.6,93.0 L115.1,94.2 L115.6,95.5 L116.1,96.8 L116.6,98.1 L117.1,99.4 L117.6,100.7 L118.1,102.1 L118.6,103.5 L119.1,104.8 L119.6,106.2 L120.1,107.6 L120.6,109.0 L121.1,110.4 L121.6,111.8 L122.1,113.2 L122.6,114.6 L123.1,116.0 L123.6,117.4 L124.1,118.8 L124.6,120.3 L125.1,121.7 L125.6,123.1 L126.1,124.6 L126.6,126.0 L127.1,127.4 L127.6,128.8 L128.1,130.2 L128.6,131.6 L129.1,132.9 L129.6,134.2 L130.1,135.5 L130.6,136.8 L131.1,138.1 L131.6,139.4 L132.1,140.7 L132.6,142.1 L133.1,143.5 L133.6,145.0 L134.1,146.4 L134.6,147.9 L135.1,149.4 L135.6,150.8 L136.1,152.1 L136.6,153.3 L137.1,154.5 L137.6,155.5 L138.1,156.5 L138.6,157.4 L139.1,158.3 L139.6,159.2 L140.1,160.0 L140.6,160.8 L141.1,161.6 L141.6,162.4 L142.1,163.1 L142.6,163.8 L143.1,164.5 L143.6,165.2 L144.1,165.9 L144.6,166.6 L145.1,167.3 L145.6,168.0 L146.1,168.7 L146.6,169.5 L147.1,170.3 L147.6,171.1 L148.1,171.9 L148.6,172.8 L149.1,173.7 L149.6,174.6 L150.1,175.5 L150.6,176.4 L151.1,177.3 L151.6,178.2 L152.1,179.1 L152.6,180.0 L153.1,180.9 L153.6,181.8 L154.1,182.7 L154.6,183.5 L155.1,184.3 L155.6,185.2 L156.1,186.0 L156.6,186.8 L157.1,187.6 L157.6,188.4 L158.1,189.2 L158.6,190.0 L159.1,190.8 L159.6,191.6 L160.1,192.3 L160.6,193.1 L161.1,193.8 L161.6,194.6 L162.1,195.3 L162.6,196.0 L163.1,196.7 L163.6,197.4 L164.1,198.0 L164.6,198.7 L165.1,199.3 L165.6,199.9 L166.1,200.4 L166.6,201.0 L167.1,201.5 L167.6,202.0 L168.1,202.5 L168.6,203.0 L169.1,203.5 L169.6,203.9 L170.1,204.4 L170.6,204.8 L171.1,205.2 L171.6,205.7 L172.1,206.1 L172.6,206.5 L173.1,206.9 L173.6,207.3 L174.1,207.7 L174.6,208.0 L175.1,208.4 L175.6,208.8 L176.1,209.1 L176.6,209.4 L177.1,209.7 L177.6,210.0 L178.1,210.3 L178.6,210.6 L179.1,210.8 L179.6,211.0 L180.1,211.2 L180.6,211.4 L181.1,211.6 L181.6,211.7 L182.1,211.8 L182.6,211.9 L183.1,211.9 L183.6,211.9 L184.1,211.9 L184.6,211.9 L185.1,211.9 L185.6,211.9 L186.1,211.8 L186.6,211.8 L187.1,211.7 L187.6,211.7 L188.1,211.6 L188.6,211.5 L189.1,211.4 L189.6,211.3 L190.1,211.2 L190.6,211.1 L191.1,211.0 L191.6,210.9 L192.1,210.8 L192.6,210.7 L193.1,210.5 L193.6,210.4 L194.1,210.3 L194.6,210.1 L195.1,210.0 L195.6,209.8 L196.1,209.7 L196.6,209.5 L197.1,209.4 L197.6,209.2 L198.1,209.0 L198.6,208.9 L199.1,208.7 L199.6,208.6 L200.1,208.4 L200.6,208.3 L201.1,208.1 L201.6,208.0 L202.1,207.8 L202.6,207.6 L203.1,207.5 L203.6,207.3 L204.1,207.2 L204.6,207.0 L205.1,206.8 L205.6,206.6 L206.1,206.5 L206.6,206.3 L207.1,206.1 L207.6,205.9 L208.1,205.7 L208.6,205.5 L209.1,205.4 L209.6,205.2 L210.1,205.0 L210.6,204.7 L211.1,204.5 L211.6,204.3 L212.1,204.1 L212.6,203.9 L213.1,203.7 L213.6,203.5 L214.1,203.3 L214.6,203.0 L215.1,202.8 L215.6,202.6 L216.1,202.4 L216.6,202.2 L217.1,201.9 L217.6,201.7 L218.1,201.5 L218.6,201.3 L219.1,201.0 L219.6,200.8 L220.1,200.6 L220.6,200.4 L221.1,200.1 L221.6,199.9 L222.1,199.7 L222.6,199.4 L223.1,199.2 L223.6,199.0 L224.1,198.7 L224.6,198.5 L225.1,198.3 L225.6,198.0 L226.1,197.8 L226.6,197.6 L227.1,197.3 L227.6,197.1 L228.1,196.9 L228.6,196.6 L229.1,196.4 L229.6,196.2 L230.1,195.9 L230.6,195.7 L231.1,195.4 L231.6,195.2 L232.1,194.9 L232.6,194.6 L233.1,194.3 L233.6,194.0 L234.1,193.7 L234.6,193.4 L235.1,193.1 L235.6,192.9 L236.1,192.6 L236.6,192.3 L237.1,192.1 L237.6,191.8 L238.1,191.6 L238.6,191.4 L239.1,191.3 L239.6,191.1 L240.1,191.0 L240.6,191.0 L241.1,190.9 L241.6,190.9 L242.1,191.0 L242.6,191.0 L243.1,191.1 L243.6,191.2 L244.1,191.3 L244.6,191.5 L245.1,191.6 L245.6,191.8 L246.1,192.0 L246.6,192.1 L247.1,192.3 L247.6,192.5 L248.1,192.7 L248.6,192.9 L249.1,193.1 L249.6,193.2 L250.1,193.4 L250.6,193.6 L251.1,193.8 L251.6,194.0 L252.1,194.2 L252.6,194.4 L253.1,194.6 L253.6,194.9 L254.1,195.1 L254.6,195.3 L255.1,195.6 L255.6,195.8 L256.1,196.1 L256.6,196.3 L257.1,196.6 L257.6,196.9 L258.1,197.2 L258.6,197.4 L259.1,197.7 L259.6,198.0 L260.1,198.4 L260.6,198.7 L261.1,199.0 L261.6,199.4 L262.1,199.7 L262.6,200.1 L263.1,200.5 L263.6,200.9 L264.1,201.3 L264.6,201.8 L265.1,202.3 L265.6,202.7 L266.1,203.3 L266.6,203.8 L267.1,204.3 L267.6,204.8 L268.1,205.4 L268.6,205.9 L269.1,206.5 L269.6,207.1 L270.1,207.6 L270.6,208.2 L271.1,208.8 L271.6,209.3 L272.1,209.9 L272.6,210.5 L273.1,211.0 L273.6,211.6 L274.1,212.1 L274.6,212.7 L275.1,213.2 L275.6,213.8 L276.1,214.3 L276.6,214.9 L277.1,215.5 L277.6,216.0 L278.1,216.6 L278.6,217.1 L279.1,217.7 L279.6,218.2 L280.1,218.7 L280.6,219.2 L281.1,219.7 L281.6,220.2 L282.1,220.7 L282.6,221.1 L283.1,221.5 L283.6,222.0 L284.1,222.4 L284.6,222.8 L285.1,223.2 L285.6,223.6 L286.1,224.0 L286.6,224.4 L287.1,224.7 L287.6,225.1 L288.1,225.5 L288.6,225.9 L289.1,226.3 L289.6,226.7 L290.1,227.1 L290.6,227.5 L291.1,227.9 L291.6,228.2 L292.1,228.6 L292.6,229.0 L293.1,229.4 L293.6,229.8 L294.1,230.2 L294.6,230.6 L295.1,231.0 L295.6,231.4 L296.1,231.8 L296.6,232.1 L297.1,232.5 L297.6,232.9 L298.1,233.3 L298.6,233.7 L299.1,234.1 L299.6,234.4 L300.1,234.8 L300.6,235.2 L301.1,235.5 L301.6,235.9 L302.1,236.2 L302.6,236.5 L303.1,236.9 L303.6,237.2 L304.1,237.5 L304.6,237.8 L305.1,238.1 L305.6,238.3 L306.1,238.6 L306.6,238.9 L307.1,239.2 L307.6,239.4 L308.1,239.7 L308.6,239.9 L309.1,240.2 L309.6,240.4 L310.1,240.6 L310.6,240.9 L311.1,241.1 L311.6,241.3 L312.1,241.5 L312.6,241.7 L313.1,241.9 L313.6,242.1 L314.1,242.3 L314.6,242.5 L315.1,242.7 L315.6,242.8 L316.1,243.0 L316.6,243.1 L317.1,243.3 L317.6,243.4 L318.1,243.5 L318.6,243.6 L319.1,243.7 L319.6,243.8 L320.1,243.9 L320.6,244.0 L321.1,244.0 L321.6,244.0 L322.1,244.1 L322.6,244.1 L323.1,244.1 L323.6,244.1 L324.1,244.0 L324.6,244.0 L325.1,244.0 L325.6,243.9 L326.1,243.9 L326.6,243.8 L327.1,243.7 L327.6,243.7 L328.1,243.6 L328.6,243.6 L329.1,243.5 L329.6,243.4 L330.1,243.4 L330.6,243.3 L331.1,243.2 L331.6,243.2 L332.1,243.1 L332.6,243.0 L333.1,243.0 L333.6,242.9 L334.1,242.8 L334.6,242.8 L335.1,242.7 L335.6,242.6 L336.1,242.6 L336.6,242.5 L337.1,242.4 L337.6,242.3 L338.1,242.3 L338.6,242.2 L339.1,242.1 L339.6,242.1 L340.1,242.0 L340.6,241.9 L341.1,241.8 L341.6,241.8 L342.1,241.7 L342.6,241.6 L343.1,241.5 L343.6,241.5 L344.1,241.4 L344.6,241.3 L345.1,241.2 L345.6,241.2 L346.1,241.1 L346.6,241.0 L347.1,240.9 L347.6,240.9 L348.1,240.8 L348.6,240.7 L349.1,240.6 L349.6,240.6 L350.1,240.5 L350.6,240.4 L351.1,240.3 L351.6,240.3 L352.1,240.2 L352.6,240.1 L353.1,240.0 L353.6,239.9 L354.1,239.9 L354.6,239.8 L355.1,239.7 L355.6,239.6 L356.1,239.6 L356.6,239.5 L357.1,239.4 L357.6,239.4 L358.1,239.3 L358.6,239.2 L359.1,239.1 L359.6,239.1 L360.1,239.0 L360.6,238.9 L361.1,238.8 L361.6,238.8 L362.1,238.7 L362.6,238.6 L363.1,238.6 L363.6,238.5 L364.1,238.4 L364.6,238.4 L365.1,238.3 L365.6,238.2 L366.1,238.2 L366.6,238.1 L367.1,238.0 L367.6,238.0 L368.1,237.9 L368.6,237.8 L369.1,237.8 L369.6,237.7 L370.1,237.6 L370.6,237.6 L371.1,237.5 L371.6,237.5 L372.1,237.4 L372.6,237.3 L373.1,237.3 L373.6,237.2 L374.1,237.2 L374.6,237.1 L375.1,237.0 L375.6,237.0 L376.1,236.9 L376.6,236.9 L377.1,236.8 L377.6,236.8 L378.1,236.7 L378.6,236.7 L379.1,236.6 L379.6,236.5 L380.1,236.5 L380.6,236.4 L381.1,236.4 L381.6,236.3 L382.1,236.3 L382.6,236.3 L383.1,236.2 L383.6,236.2 L384.1,236.1 L384.6,236.1 L385.1,236.1 L385.6,236.0 L386.1,236.0 L386.6,236.0 L387.1,236.0 L387.6,235.9 L388.1,235.9 L388.6,235.9 L389.1,235.9 L389.6,235.9 L390.1,235.9 L390.6,235.8 L391.1,235.8 L391.6,235.8 L392.1,235.8 L392.6,235.8 L393.1,235.8 L393.6,235.8 L394.1,235.8 L394.6,235.8 L395.1,235.8 L395.6,235.8 L396.1,235.8 L396.6,235.8 L397.1,235.8 L397.6,235.8 L398.1,235.9 L398.6,235.9 L399.1,235.9 L399.6,235.9 L400.1,235.9 L400.6,236.0 L401.1,236.0 L401.6,236.0 L402.1,236.0 L402.6,236.1 L403.1,236.1 L403.6,236.1 L404.1,236.2 L404.6,236.2 L405.1,236.2 L405.6,236.2 L406.1,236.3 L406.6,236.3 L407.1,236.3 L407.6,236.3 L408.1,236.4 L408.6,236.4 L409.1,236.4 L409.6,236.4 L410.1,236.5 L410.6,236.5 L411.1,236.6 L411.6,236.6 L412.1,236.7 L412.6,236.7 L413.1,236.8 L413.6,236.8 L414.1,236.9 L414.6,237.0 L415.1,237.0 L415.6,237.1 L416.1,237.2 L416.6,237.3 L417.1,237.4 L417.6,237.6 L418.1,237.7 L418.6,237.9 L419.1,238.1 L419.6,238.3 L420.1,238.5 L420.6,238.7 L421.1,239.0 L421.6,239.2 L422.1,239.5 L422.6,239.8 L423.1,240.1 L423.6,240.4 L424.1,240.7 L424.6,240.9 L425.1,241.2 L425.6,241.5 L426.1,241.8 L426.6,242.1 L427.1,242.4 L427.6,242.7 L428.1,242.9 L428.6,243.2 L429.1,243.4 L429.6,243.7 L430.1,243.9 L430.6,244.1 L431.1,244.3 L431.6,244.5 L432.1,244.7 L432.6,244.9 L433.1,245.1 L433.6,245.3 L434.1,245.5 L434.6,245.6 L435.1,245.8 L435.6,246.0 L436.1,246.2 L436.6,246.4 L437.1,246.6 L437.6,246.8 L438.1,247.0 L438.6,247.2 L439.1,247.4 L439.6,247.6 L440.1,247.8 L440.6,247.9 L441.1,248.1 L441.6,248.3 L442.1,248.5 L442.6,248.7 L443.1,248.8 L443.6,249.0 L444.1,249.2 L444.6,249.4 L445.1,249.5 L445.6,249.7 L446.1,249.9 L446.6,250.0 L447.1,250.2 L447.6,250.4 L448.1,250.5 L448.6,250.7 L449.1,250.9 L449.6,251.0 L450.1,251.2 L450.6,251.4 L451.1,251.5 L451.6,251.7 L452.1,251.9 L452.6,252.0 L453.1,252.2 L453.6,252.4 L454.1,252.5 L454.6,252.7 L455.1,252.8 L455.6,253.0 L456.1,253.2 L456.6,253.3 L457.1,253.5 L457.6,253.6 L458.1,253.8 L458.6,254.0 L459.1,254.1 L459.6,254.3 L460.1,254.4 L460.6,254.6 L461.1,254.7 L461.6,254.9 L462.1,255.1 L462.6,255.2 L463.1,255.4 L463.6,255.5 L464.1,255.7 L464.6,255.8 L465.1,256.0 L465.6,256.1 L466.1,256.3 L466.6,256.4 L467.1,256.6 L467.6,256.7 L468.1,256.9 L468.6,257.0 L469.1,257.2 L469.6,257.3 L470.1,257.5 L470.6,257.6 L471.1,257.8 L471.6,257.9 L472.1,258.1 L472.6,258.2 L473.1,258.3 L473.6,258.5 L474.1,258.6 L474.6,258.8 L475.1,258.9 L475.6,259.1 L476.1,259.2 L476.6,259.3 L477.1,259.5 L477.6,259.6 L478.1,259.8 L478.6,259.9 L479.1,260.0 L479.6,260.2 L480.1,260.3 L480.6,260.5 L481.1,260.6 L481.6,260.7 L482.1,260.9 L482.6,261.0 L483.1,261.1 L483.6,261.2 L484.1,261.4 L484.6,261.5 L485.1,261.6 L485.6,261.7 L486.1,261.9 L486.6,262.0 L487.1,262.1 L487.6,262.2 L488.1,262.3 L488.6,262.4 L489.1,262.6 L489.6,262.7 L490.1,262.8 L490.6,262.9 L491.1,263.0 L491.6,263.1 L492.1,263.2 L492.6,263.3 L493.1,263.4 L493.6,263.6 L494.1,263.7 L494.6,263.8 L495.1,263.9 L495.6,264.0 L496.1,264.1 L496.6,264.2 L497.1,264.3 L497.6,264.4 L498.1,264.5 L498.6,264.5 L499.1,264.6 L499.6,264.7 L500.1,264.8 L500.6,264.9 L501.1,265.0 L501.6,265.1 L502.1,265.1 L502.6,265.2 L503.1,265.3 L503.6,265.4 L504.1,265.4 L504.6,265.5 L505.1,265.6 L505.6,265.7 L506.1,265.7 L506.6,265.8 L507.1,265.9 L507.6,265.9 L508.1,266.0 L508.6,266.0 L509.1,266.1 L509.4,266.1" stroke="#ff0000"/>
<path d="M48.6,83.4 L49.1,83.6 L49.6,83.8 L50.1,84.0 L50.6,84.2 L51.1,84.4 L51.6,84.6 L52.1,84.8 L52.6,85.0 L53.1,85.1 L53.6,85.3 L54.1,85.5 L54.6,85.7 L55.1,85.8 L55.6,86.0 L56.1,86.2 L56.6,86.4 L57.1,86.5 L57.6,86.7 L58.1,86.9 L58.6,87.0 L59.1,87.2 L59.6,87.4 L60.1,87.5 L60.6,87.7 L61.1,87.8 L61.6,87.9 L62.1,88.0 L62.6,88.1 L63.1,88.2 L63.6,88.3 L64.1,88.3 L64.6,88.3 L65.1,88.3 L65.6,88.2 L66.1,88.1 L66.6,87.9 L67.1,87.7 L67.6,87.5 L68.1,87.3 L68.6,87.0 L69.1,86.7 L69.6,86.3 L70.1,86.0 L70.6,85.6 L71.1,85.3 L71.6,84.9 L72.1,84.5 L72.6,84.1 L73.1,83.7 L73.6,83.3 L74.1,82.9 L74.6,82.4 L75.1,82.0 L75.6,81.5 L76.1,81.0 L76.6,80.5 L77.1,80.0 L77.6,79.6 L78.1,79.1 L78.6,78.7 L79.1,78.3 L79.6,77.9 L80.1,77.6 L80.6,77.3 L81.1,77.1 L81.6,76.9 L82.1,76.7 L82.6,76.5 L83.1,76.4 L83.6,76.3 L84.1,76.2 L84.6,76.1 L85.1,76.0 L85.6,75.9 L86.1,75.8 L86.6,75.7 L87.1,75.6 L87.6,75.6 L88.1,75.5 L88.6,75.5 L89.1,75.5 L89.6,75.5 L90.1,75.5 L90.6,75.6 L91.1,75.7 L91.6,75.8 L92.1,75.9 L92.6,76.1 L93.1,76.2 L93.6,76.4 L94.1,76.6 L94.6,76.9 L95.1,77.1 L95.6,77.3 L96.1,77.6 L96.6,77.9 L97.1,78.1 L97.6,78.4 L98.1,78.8 L98.6,79.1 L99.1,79.5 L99.6,79.8 L100.1,80.2 L100.6,80.6 L101.1,81.0 L101.6,81.5 L102.1,82.0 L102.6,82.5 L103.1,83.0 L103.6,83.5 L104.1,84.1 L104.6,84.6 L105.1,85.2 L105.6,85.9 L106.1,86.5 L106.6,87.2 L107.1,87.8 L107.6,88.5 L108.1,89.2 L108.6,90.0 L109.1,90.7 L109.6,91.5 L110.1,92.2 L110.6,93.0 L111.1,93.9 L111.6,94.7 L112.1,95.6 L112.6,96.6 L113.1,97.6 L113.6,98.6 L114.1,99.7 L114.6,100.8 L115.1,102.0 L115.6,103.2 L116.1,104.5 L116.6,105.9 L117.1,107.3 L117.6,108.7 L118.1,110.2 L118.6,111.7 L119.1,113.2 L119.6,114.7 L120.1,116.2 L120.6,117.6 L121.1,119.1 L121.6,120.6 L122.1,122.0 L122.6,123.4 L123.1,124.8 L123.6,126.2 L124.1,127.5 L124.6,128.9 L125.1,130.1 L125.6,131.4 L126.1,132.6 L126.6,133.7 L127.1,134.8 L127.6,135.9 L128.1,137.0 L128.6,138.1 L129.1,139.1 L129.6,140.2 L130.1,141.2 L130.6,142.2 L131.1,143.2 L131.6,144.2 L132.1,145.2 L132.6,146.2 L133.1,147.2 L133.6,148.2 L134.1,149.2 L134.6,150.2 L135.1,151.2 L135.6,152.2 L136.1,153.2 L136.6,154.2 L137.1,155.2 L137.6,156.2 L138.1,157.2 L138.6,158.2 L139.1,159.2 L139.6,160.1 L140.1,161.1 L140.6,162.1 L141.1,163.0 L141.6,164.0 L142.1,164.9 L142.6,165.8 L143.1,166.7 L143.6,167.6 L144.1,168.4 L144.6,169.3 L145.1,170.1 L145.6,170.8 L146.1,171.6 L146.6,172.3 L147.1,172.9 L147.6,173.6 L148.1,174.2 L148.6,174.8 L149.1,175.3 L149.6,175.9 L150.1,176.4 L150.6,176.9 L151.1,177.4 L151.6,177.9 L152.1,178.3 L152.6,178.8 L153.1,179.3 L153.6,179.7 L154.1,180.2 L154.6,180.6 L155.1,181.1 L155.6,181.6 L156.1,182.0 L156.6,182.5 L157.1,182.9 L157.6,183.4 L158.1,183.8 L158.6,184.3 L159.1,184.7 L159.6,185.2 L160.1,185.6 L160.6,186.1 L161.1,186.5 L161.6,187.0 L162.1,187.4 L162.6,187.9 L163.1,188.3 L163.6,188.8 L164.1,189.2 L164.6,189.7 L165.1,190.2 L165.6,190.6 L166.1,191.1 L166.6,191.6 L167.1,192.1 L167.6,192.6 L168.1,193.0 L168.6,193.5 L169.1,194.0 L169.6,194.5 L170.1,195.1 L170.6,195.6 L171.1,196.1 L171.6,196.6 L172.1,197.1 L172.6,197.6 L173.1,198.1 L173.6,198.6 L174.1,199.1 L174.6,199.6 L175.1,200.1 L175.6,200.6 L176.1,201.1 L176.6,201.6 L177.1,202.0 L177.6,202.5 L178.1,202.9 L178.6,203.4 L179.1,203.8 L179.6,204.2 L180.1,204.6 L180.6,205.0 L181.1,205.3 L181.6,205.7 L182.1,206.0 L182.6,206.3 L183.1,206.6 L183.6,206.8 L184.1,207.0 L184.6,207.2 L185.1,207.4 L185.6,207.5 L186.1,207.7 L186.6,207.7 L187.1,207.8 L187.6,207.8 L188.1,207.8 L188.6,207.8 L189.1,207.8 L189.6,207.7 L190.1,207.6 L190.6,207.5 L191.1,207.4 L191.6,207.3 L192.1,207.1 L192.6,206.9 L193.1,206.8 L193.6,206.6 L194.1,206.4 L194.6,206.2 L195.1,205.9 L195.6,205.7 L196.1,205.5 L196.6,205.3 L197.1,205.1 L197.6,204.8 L198.1,204.6 L198.6,204.4 L199.1,204.2 L199.6,204.0 L200.1,203.7 L200.6,203.5 L201.1,203.3 L201.6,203.1 L202.1,202.8 L202.6,202.6 L203.1,202.4 L203.6,202.1 L204.1,201.9 L204.6,201.7 L205.1,201.4 L205.6,201.2 L206.1,201.0 L206.6,200.7 L207.1,200.5 L207.6,200.2 L208.1,200.0 L208.6,199.7 L209.1,199.5 L209.6,199.2 L210.1,198.9 L210.6,198.7 L211.1,198.4 L211.6,198.2 L212.1,197.9 L212.6,197.6 L213.1,197.4 L213.6,197.1 L214.1,196.8 L214.6,196.6 L215.1,196.3 L215.6,196.0 L216.1,195.8 L216.6,195.5 L217.1,195.2 L217.6,195.0 L218.1,194.7 L218.6,194.4 L219.1,194.1 L219.6,193.9 L220.1,193.6 L220.6,193.3 L221.1,193.1 L221.6,192.8 L222.1,192.5 L222.6,192.3 L223.1,192.0 L223.6,191.7 L224.1,191.5 L224.6,191.2 L225.1,190.9 L225.6,190.7 L226.1,190.4 L226.6,190.1 L227.1,189.9 L227.6,189.6 L228.1,189.3 L228.6,189.1 L229.1,188.8 L229.6,188.6 L230.1,188.3 L230.6,188.0 L231.1,187.8 L231.6,187.5 L232.1,187.2 L232.6,187.0 L233.1,186.7 L233.6,186.5 L234.1,186.2 L234.6,186.0 L235.1,185.7 L235.6,185.5 L236.1,185.2 L236.6,185.0 L237.1,184.7 L237.6,184.5 L238.1,184.3 L238.6,184.0 L239.1,183.9 L239.6,183.7 L240.1,183.6 L240.6,183.5 L241.1,183.5 L241.6,183.5 L242.1,183.5 L242.6,183.6 L243.1,183.8 L243.6,183.9 L244.1,184.1 L244.6,184.3 L245.1,184.5 L245.6,184.8 L246.1,185.0 L246.6,185.3 L247.1,185.5 L247.6,185.8 L248.1,186.0 L248.6,186.3 L249.1,186.5 L249.6,186.8 L250.1,187.0 L250.6,187.3 L251.1,187.5 L251.6,187.8 L252.1,188.0 L252.6,188.3 L253.1,188.6 L253.6,188.9 L254.1,189.2 L254.6,189.5 L255.1,189.9 L255.6,190.2 L256.1,190.6 L256.6,191.0 L257.1,191.4 L257.6,191.8 L258.1,192.2 L258.6,192.6 L259.1,193.0 L259.6,193.4 L260.1,193.9 L260.6,194.3 L261.1,194.7 L261.6,195.2 L262.1,195.6 L262.6,196.1 L263.1,196.6 L263.6,197.0 L264.1,197.5 L264.6,198.0 L265.1,198.5 L265.6,199.0 L266.1,199.5 L266.6,200.0 L267.1,200.6 L267.6,201.1 L268.1,201.6 L268.6,202.1 L269.1,202.7 L269.6,203.2 L270.1,203.7 L270.6,204.3 L271.1,204.8 L271.6,205.3 L272.1,205.9 L272.6,206.4 L273.1,206.9 L273.6,207.4 L274.1,208.0 L274.6,208.5 L275.1,209.0 L275.6,209.5 L276.1,210.1 L276.6,210.6 L277.1,211.1 L277.6,211.6 L278.1,212.1 L278.6,212.6 L279.1,213.1 L279.6,213.6 L280.1,214.1 L280.6,214.6 L281.1,215.1 L281.6,215.6 L282.1,216.1 L282.6,216.6 L283.1,217.0 L283.6,217.4 L284.1,217.8 L284.6,218.1 L285.1,218.4 L285.6,218.7 L286.1,218.9 L286.6,219.2 L287.1,219.4 L287.6,219.6 L288.1,219.9 L288.6,220.2 L289.1,220.5 L289.6,220.8 L290.1,221.2 L290.6,221.6 L291.1,222.0 L291.6,222.5 L292.1,223.0 L292.6,223.5 L293.1,224.0 L293.6,224.5 L294.1,225.0 L294.6,225.6 L295.1,226.1 L295.6,226.6 L296.1,227.2 L296.6,227.7 L297.1,228.2 L297.6,228.7 L298.1,229.2 L298.6,229.7 L299.1,230.2 L299.6,230.6 L300.1,231.0 L300.6,231.5 L301.1,231.9 L301.6,232.3 L302.1,232.7 L302.6,233.1 L303.1,233.5 L303.6,233.8 L304.1,234.2 L304.6,234.6 L305.1,235.0 L305.6,235.3 L306.1,235.7 L306.6,236.0 L307.1,236.3 L307.6,236.6 L308.1,237.0 L308.6,237.3 L309.1,237.6 L309.6,237.9 L310.1,238.1 L310.6,238.4 L311.1,238.7 L311.6,238.9 L312.1,239.2 L312.6,239.4 L313.1,239.7 L313.6,239.9 L314.1,240.1 L314.6,240.3 L315.1,240.5 L315.6,240.7 L316.1,240.9 L316.6,241.1 L317.1,241.3 L317.6,241.4 L318.1,241.6 L318.6,241.7 L319.1,241.8 L319.6,242.0 L320.1,242.1 L320.6,242.2 L321.1,242.3 L321.6,242.3 L322.1,242.4 L322.6,242.4 L323.1,242.5 L323.6,242.5 L324.1,242.5 L324.6,242.5 L325.1,242.5 L325.6,242.4 L326.1,242.4 L326.6,242.4 L327.1,242.4 L327.6,242.3 L328.1,242.3 L328.6,242.2 L329.1,242.2 L329.6,242.2 L330.1,242.1 L330.6,242.1 L331.1,242.0 L331.6,242.0 L332.1,241.9 L332.6,241.9 L333.1,241.8 L333.6,241.8 L334.1,241.7 L334.6,241.7 L335.1,241.6 L335.6,241.6 L336.1,241.5 L336.6,241.4 L337.1,241.4 L337.6,241.3 L338.1,241.3 L338.6,241.2 L339.1,241.1 L339.6,241.1 L340.1,241.0 L340.6,240.9 L341.1,240.8 L341.6,240.8 L342.1,240.7 L342.6,240.6 L343.1,240.5 L343.6,240.5 L344.1,240.4 L344.6,240.3 L345.1,240.2 L345.6,240.2 L346.1,240.1 L346.6,240.0 L347.1,239.9 L347.6,239.8 L348.1,239.8 L348.6,239.7 L349.1,239.6 L349.6,239.5 L350.1,239.5 L350.6,239.4 L351.1,239.3 L351.6,239.2 L352.1,239.1 L352.6,239.1 L353.1,239.0 L353.6,238.9 L354.1,238.8 L354.6,238.8 L355.1,238.7 L355.6,238.6 L356.1,238.5 L356.6,238.5 L357.1,238.4 L357.6,238.3 L358.1,238.3 L358.6,238.2 L359.1,238.1 L359.6,238.1 L360.1,238.0 L360.6,237.9 L361.1,237.9 L361.6,237.8 L362.1,237.7 L362.6,237.7 L363.1,237.6 L363.6,237.5 L364.1,237.5 L364.6,237.4 L365.1,237.4 L365.6,237.3 L366.1,237.3 L366.6,237.2 L367.1,237.1 L367.6,237.1 L368.1,237.0 L368.6,237.0 L369.1,236.9 L369.6,236.9 L370.1,236.8 L370.6,236.8 L371.1,236.7 L371.6,236.6 L372.1,236.6 L372.6,236.5 L373.1,236.5 L373.6,236.4 L374.1,236.4 L374.6,236.3 L375.1,236.3 L375.6,236.2 L376.1,236.2 L376.6,236.1 L377.1,236.1 L377.6,236.0 L378.1,236.0 L378.6,235.9 L379.1,235.9 L379.6,235.8 L380.1,235.8 L380.6,235.7 L381.1,235.7 L381.6,235.7 L382.1,235.6 L382.6,235.6 L383.1,235.5 L383.6,235.5 L384.1,235.4 L384.6,235.4 L385.1,235.4 L385.6,235.3 L386.1,235.3 L386.6,235.3 L387.1,235.2 L387.6,235.2 L388.1,235.2 L388.6,235.1 L389.1,235.1 L389.6,235.1 L390.1,235.1 L390.6,235.1 L391.1,235.0 L391.6,235.0 L392.1,235.0 L392.6,235.0 L393.1,235.0 L393.6,235.0 L394.1,235.0 L394.6,235.0 L395.1,235.0 L395.6,235.0 L396.1,235.0 L396.6,235.1 L397.1,235.1 L397.6,235.1 L398.1,235.1 L398.6,235.2 L399.1,235.2 L399.6,235.3 L400.1,235.3 L400.6,235.3 L401.1,235.4 L401.6,235.4 L402.1,235.5 L402.6,235.5 L403.1,235.6 L403.6,235.6 L404.1,235.7 L404.6,235.8 L405.1,235.8 L405.6,235.9 L406.1,235.9 L406.6,236.0 L407.1,236.0 L407.6,236.1 L408.1,236.2 L408.6,236.2 L409.1,236.3 L409.6,236.3 L410.1,236.4 L410.6,236.5 L411.1,236.5 L411.6,236.6 L412.1,236.7 L412.6,236.7 L413.1,236.8 L413.6,236.9 L414.1,237.0 L414.6,237.0 L415.1,237.1 L415.6,237.2 L416.1,237.3 L416.6,237.4 L417.1,237.4 L417.6,237.5 L418.1,237.6 L418.6,237.7 L419.1,237.8 L419.6,237.9 L420.1,238.0 L420.6,238.1 L421.1,238.2 L421.6,238.3 L422.1,238.4 L422.6,238.5 L423.1,238.6 L423.6,238.7 L424.1,238.8 L424.6,239.0 L425.1,239.1 L425.6,239.2 L426.1,239.3 L426.6,239.5 L427.1,239.6 L427.6,239.8 L428.1,239.9 L428.6,240.1 L429.1,240.2 L429.6,240.4 L430.1,240.5 L430.6,240.7 L431.1,240.9 L431.6,241.0 L432.1,241.2 L432.6,241.4 L433.1,241.6 L433.6,241.7 L434.1,241.9 L434.6,242.1 L435.1,242.2 L435.6,242.4 L436.1,242.6 L436.6,242.8 L437.1,242.9 L437.6,243.1 L438.1,243.3 L438.6,243.4 L439.1,243.6 L439.6,243.8 L440.1,244.0 L440.6,244.1 L441.1,244.3 L441.6,244.5 L442.1,244.7 L442.6,244.8 L443.1,245.0 L443.6,245.2 L444.1,245.4 L444.6,245.5 L445.1,245.7 L445.6,245.9 L446.1,246.1 L446.6,246.2 L447.1,246.4 L447.6,246.6 L448.1,246.8 L448.6,246.9 L449.1,247.1 L449.6,247.3 L450.1,247.5 L450.6,247.6 L451.1,247.8 L451.6,248.0 L452.1,248.2 L452.6,248.4 L453.1,248.5 L453.6,248.7 L454.1,248.9 L454.6,249.1 L455.1,249.2 L455.6,249.4 L456.1,249.6 L456.6,249.8 L457.1,249.9 L457.6,250.1 L458.1,250.3 L458.6,250.5 L459.1,250.6 L459.6,250.8 L460.1,251.0 L460.6,251.2 L461.1,251.3 L461.6,251.5 L462.1,251.7 L462.6,251.9 L463.1,252.0 L463.6,252.2 L464.1,252.4 L464.6,252.6 L465.1,252.8 L465.6,252.9 L466.1,253.1 L466.6,253.3 L467.1,253.5 L467.6,253.6 L468.1,253.8 L468.6,254.0 L469.1,254.2 L469.6,254.3 L470.1,254.5 L470.6,254.7 L471.1,254.9 L471.6,255.0 L472.1,255.2 L472.6,255.4 L473.1,255.6 L473.6,255.7 L474.1,255.9 L474.6,256.1 L475.1,256.3 L475.6,256.4 L476.1,256.6 L476.6,256.8 L477.1,257.0 L477.6,257.1 L478.1,257.3 L478.6,257.5 L479.1,257.7 L479.6,257.8 L480.1,258.0 L480.6,258.2 L481.1,258.3 L481.6,258.5 L482.1,258.7 L482.6,258.8 L483.1,259.0 L483.6,259.2 L484.1,259.3 L484.6,259.5 L485.1,259.6 L485.6,259.8 L486.1,259.9 L486.6,260.1 L487.1,260.2 L487.6,260.4 L488.1,260.5 L488.6,260.7 L489.1,260.8 L489.6,261.0 L490.1,261.1 L490.6,261.2 L491.1,261.4 L491.6,261.5 L492.1,261.7 L492.6,261.8 L493.1,261.9 L493.6,262.1 L494.1,262.2 L494.6,262.3 L495.1,262.5 L495.6,262.6 L496.1,262.7 L496.6,262.9 L497.1,263.0 L497.6,263.1 L498.1,263.2 L498.6,263.4 L499.1,263.5 L499.6,263.6 L500.1,263.7 L500.6,263.8 L501.1,263.9 L501.6,264.0 L502.1,264.1 L502.6,264.2 L503.1,264.3 L503.6,264.4 L504.1,264.5 L504.6,264.6 L505.1,264.7 L505.6,264.8 L506.1,264.9 L506.6,265.0 L507.1,265.1 L507.6,265.2 L508.1,265.3 L508.6,265.3 L509.1,265.4 L509.4,265.5" stroke="#0000ff"/>
</g>
<g stroke="#000" stroke-width="1" fill="none">
<line x1="366" y1="128.5" x2="437" y2="128.5"/>
<line x1="362" y1="158.5" x2="420" y2="158.5"/>
<line x1="366" y1="181.5" x2="452" y2="181.5"/>
<line x1="373" y1="198.5" x2="454" y2="198.5"/>
<line x1="371.5" y1="211.5" x2="445" y2="211.5"/>
<line x1="380" y1="224.5" x2="449" y2="224.5"/>
<line x1="415" y1="237.5" x2="450" y2="237.5"/>
</g>
<line x1="420" y1="158.5" x2="437" y2="158.5" stroke="#aaa" stroke-width="1"/>
<line x1="450" y1="237.5" x2="456" y2="237.5" stroke="#aaa" stroke-width="1"/>
<g stroke="#000" stroke-width="1.1" fill="#000">
<line x1="312.2" y1="100.7" x2="312.2" y2="72"/><path d="M312.2,65.8 L314.9,74 L309.5,74 Z" stroke="none"/>
<line x1="428.6" y1="68.2" x2="428.6" y2="92"/><path d="M428.6,98.2 L431.1,90.2 L426.1,90.2 Z" stroke="none"/>
</g>
<g stroke="#000" stroke-width="1.5" fill="none" stroke-linecap="butt">
<rect x="48.9" y="4.0" width="460.3" height="265.0"/>
<line x1="41.30" y1="269.00" x2="48.9" y2="269.00"/>
<line x1="44.40" y1="246.92" x2="48.9" y2="246.92"/>
<line x1="41.30" y1="224.83" x2="48.9" y2="224.83"/>
<line x1="44.40" y1="202.75" x2="48.9" y2="202.75"/>
<line x1="41.30" y1="180.67" x2="48.9" y2="180.67"/>
<line x1="44.40" y1="158.58" x2="48.9" y2="158.58"/>
<line x1="41.30" y1="136.50" x2="48.9" y2="136.50"/>
<line x1="44.40" y1="114.42" x2="48.9" y2="114.42"/>
<line x1="41.30" y1="92.33" x2="48.9" y2="92.33"/>
<line x1="44.40" y1="70.25" x2="48.9" y2="70.25"/>
<line x1="41.30" y1="48.17" x2="48.9" y2="48.17"/>
<line x1="44.40" y1="26.08" x2="48.9" y2="26.08"/>
<line x1="41.30" y1="4.00" x2="48.9" y2="4.00"/>
<line x1="61.69" y1="269.0" x2="61.69" y2="275.2"/>
<line x1="93.65" y1="269.0" x2="93.65" y2="272.4"/>
<line x1="125.62" y1="269.0" x2="125.62" y2="275.2"/>
<line x1="157.58" y1="269.0" x2="157.58" y2="272.4"/>
<line x1="189.55" y1="269.0" x2="189.55" y2="275.2"/>
<line x1="221.51" y1="269.0" x2="221.51" y2="272.4"/>
<line x1="253.48" y1="269.0" x2="253.48" y2="275.2"/>
<line x1="285.44" y1="269.0" x2="285.44" y2="272.4"/>
<line x1="317.41" y1="269.0" x2="317.41" y2="275.2"/>
<line x1="349.37" y1="269.0" x2="349.37" y2="272.4"/>
<line x1="381.34" y1="269.0" x2="381.34" y2="275.2"/>
<line x1="413.30" y1="269.0" x2="413.30" y2="272.4"/>
<line x1="445.27" y1="269.0" x2="445.27" y2="275.2"/>
<line x1="477.23" y1="269.0" x2="477.23" y2="272.4"/>
<line x1="509.20" y1="269.0" x2="509.20" y2="275.2"/>
</g>
<g font-family="'Liberation Sans', Arial, sans-serif" fill="#000">
<text x="36.8" y="273.6" font-size="10" text-anchor="end" letter-spacing="0.45">0.0</text>
<text x="36.8" y="229.2" font-size="10" text-anchor="end" letter-spacing="0.45">0.2</text>
<text x="36.8" y="184.9" font-size="10" text-anchor="end" letter-spacing="0.45">0.4</text>
<text x="36.8" y="140.6" font-size="10" text-anchor="end" letter-spacing="0.45">0.6</text>
<text x="36.8" y="96.3" font-size="10" text-anchor="end" letter-spacing="0.45">0.8</text>
<text x="36.3" y="52.0" font-size="10" text-anchor="end" letter-spacing="0">1.0</text>
<text x="36.3" y="7.7" font-size="10" text-anchor="end" letter-spacing="0">1.2</text>
<text x="61.9" y="287.3" font-size="10" text-anchor="middle" letter-spacing="0.45">250</text>
<text x="125.8" y="287.3" font-size="10" text-anchor="middle" letter-spacing="0.45">300</text>
<text x="189.7" y="287.3" font-size="10" text-anchor="middle" letter-spacing="0.45">350</text>
<text x="253.7" y="287.3" font-size="10" text-anchor="middle" letter-spacing="0.45">400</text>
<text x="317.6" y="287.3" font-size="10" text-anchor="middle" letter-spacing="0.45">450</text>
<text x="381.5" y="287.3" font-size="10" text-anchor="middle" letter-spacing="0.45">500</text>
<text x="445.5" y="287.3" font-size="10" text-anchor="middle" letter-spacing="0.45">550</text>
<text x="509.4" y="287.3" font-size="10" text-anchor="middle" letter-spacing="0.45">600</text>
<text x="262.8" y="306" font-size="12.6" text-anchor="middle">Wavelength<tspan dx="2.4">(nm)</tspan></text>
<text transform="translate(9.3,138) rotate(-90)" font-size="12.7" text-anchor="middle">Absorbance</text>
<text x="300" y="75.9" font-size="10" text-anchor="middle">8</text>
<text x="299.6" y="103" font-size="10" text-anchor="middle">6</text>
<text x="448" y="78" font-size="10" text-anchor="middle">1</text>
<text x="447" y="101.8" font-size="10" text-anchor="middle">6</text>
<text x="449" y="130" font-size="10" text-anchor="middle">9</text>
<text x="452.7" y="163.2" font-size="10" text-anchor="middle">10</text>
<text x="466.4" y="184" font-size="10" text-anchor="middle">11</text>
<text x="465.1" y="203.9" font-size="10" text-anchor="middle">12</text>
<text x="456.6" y="215.7" font-size="10" text-anchor="middle">13</text>
<text x="457.9" y="229" font-size="10" text-anchor="middle">15</text>
<text x="474.2" y="240.6" font-size="10" text-anchor="middle">16-18</text>
</g>
</svg></body></html>
